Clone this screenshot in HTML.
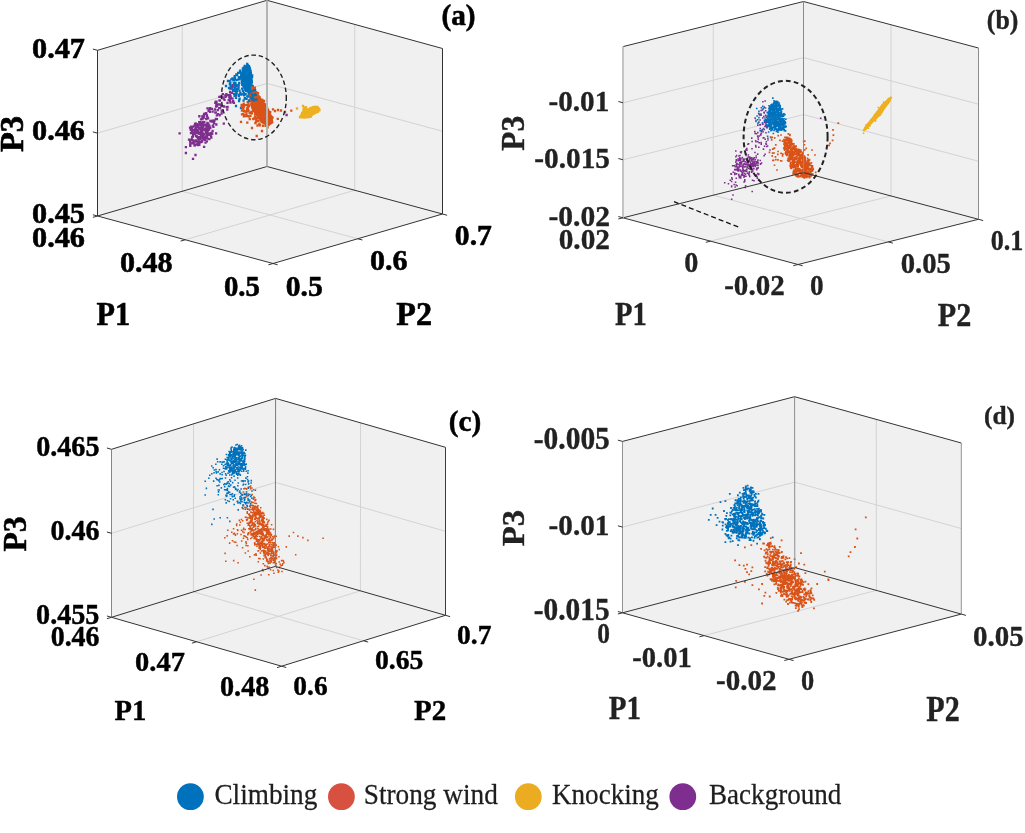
<!DOCTYPE html>
<html><head><meta charset="utf-8"><style>html,body{margin:0;padding:0;background:#fff;overflow:hidden}svg{display:block}</style></head>
<body><svg width="1025" height="833" viewBox="0 0 1025 833" style="will-change:transform">
<rect width="1025" height="833" fill="#fff"/>
<polygon points="97.5,50.3 267,0.3 267,166.5 97.5,216" fill="#f0f0f0"/>
<polygon points="267,0.3 442.5,48.5 442.5,214 267,166.5" fill="#f0f0f0"/>
<polygon points="97.5,216 267,166.5 442.5,214 273,263.5" fill="#f0f0f0"/>
<line x1="97.5" y1="133.15" x2="267" y2="83.4" stroke="#d3d3d3" stroke-width="1"/>
<line x1="267" y1="83.4" x2="442.5" y2="131.25" stroke="#d3d3d3" stroke-width="1"/>
<line x1="185.25" y1="239.75" x2="354.75" y2="190.25" stroke="#d3d3d3" stroke-width="1"/>
<line x1="354.75" y1="190.25" x2="354.75" y2="24.4" stroke="#d3d3d3" stroke-width="1"/>
<line x1="357.75" y1="238.75" x2="182.25" y2="191.25" stroke="#d3d3d3" stroke-width="1"/>
<line x1="182.25" y1="191.25" x2="182.25" y2="25.3" stroke="#d3d3d3" stroke-width="1"/>
<path fill="#7e2f8e" d="M197.67 141.41h2.3v2.3h-2.3zM220.42 112.36h2.3v2.3h-2.3zM215.79 118h2.3v2.3h-2.3zM202.98 113.02h2.3v2.3h-2.3zM195.06 128.18h2.3v2.3h-2.3zM216.97 113.06h2.3v2.3h-2.3zM196.78 130.2h2.3v2.3h-2.3zM214.91 105.45h2.3v2.3h-2.3zM189.06 140.08h2.3v2.3h-2.3zM193.61 125.24h2.3v2.3h-2.3zM201.12 115.17h2.3v2.3h-2.3zM206.19 116.04h2.3v2.3h-2.3zM201.05 132.44h2.3v2.3h-2.3zM191.21 130.78h2.3v2.3h-2.3zM213.68 108.37h2.3v2.3h-2.3zM226.53 93.94h2.3v2.3h-2.3zM218.32 99.29h2.3v2.3h-2.3zM212.92 122.2h2.3v2.3h-2.3zM227.48 94.02h2.3v2.3h-2.3zM196.16 129.93h2.3v2.3h-2.3zM205.78 114.37h2.3v2.3h-2.3zM214.15 101.8h2.3v2.3h-2.3zM198.16 123.99h2.3v2.3h-2.3zM202.68 113.88h2.3v2.3h-2.3zM216.97 103.13h2.3v2.3h-2.3zM211.24 119.61h2.3v2.3h-2.3zM205.74 140.24h2.3v2.3h-2.3zM207.3 134.04h2.3v2.3h-2.3zM206.95 117.25h2.3v2.3h-2.3zM198.42 141.34h2.3v2.3h-2.3zM199.77 140.83h2.3v2.3h-2.3zM199.9 123.59h2.3v2.3h-2.3zM208.77 107.37h2.3v2.3h-2.3zM196.5 129.04h2.3v2.3h-2.3zM208.2 108.61h2.3v2.3h-2.3zM198.06 120.92h2.3v2.3h-2.3zM223.4 98.71h2.3v2.3h-2.3zM194.44 122.22h2.3v2.3h-2.3zM193.38 125.09h2.3v2.3h-2.3zM218.07 106.9h2.3v2.3h-2.3zM196.31 124.9h2.3v2.3h-2.3zM198.15 132.61h2.3v2.3h-2.3zM211.64 124.53h2.3v2.3h-2.3zM215.2 123.36h2.3v2.3h-2.3zM193.05 129.02h2.3v2.3h-2.3zM198.1 140.38h2.3v2.3h-2.3zM213.89 108.3h2.3v2.3h-2.3zM194.83 125.95h2.3v2.3h-2.3zM230.12 97.24h2.3v2.3h-2.3zM205.56 137.32h2.3v2.3h-2.3zM202 137.02h2.3v2.3h-2.3zM228.72 96.45h2.3v2.3h-2.3zM191.58 125.48h2.3v2.3h-2.3zM210.54 120.53h2.3v2.3h-2.3zM207.42 109.81h2.3v2.3h-2.3zM201.01 140.44h2.3v2.3h-2.3zM199.48 131.52h2.3v2.3h-2.3zM206.36 122.71h2.3v2.3h-2.3zM220.14 104.74h2.3v2.3h-2.3zM193.63 124.05h2.3v2.3h-2.3zM199.94 121.5h2.3v2.3h-2.3zM202.94 116.48h2.3v2.3h-2.3zM207.14 122.39h2.3v2.3h-2.3zM224.16 94.14h2.3v2.3h-2.3zM190.62 138.79h2.3v2.3h-2.3zM207.41 124.94h2.3v2.3h-2.3zM206.3 107.15h2.3v2.3h-2.3zM218.18 95.79h2.3v2.3h-2.3zM216.65 109.01h2.3v2.3h-2.3zM200.91 117.64h2.3v2.3h-2.3zM221.21 109.83h2.3v2.3h-2.3zM224.33 95.59h2.3v2.3h-2.3zM199.85 118.28h2.3v2.3h-2.3zM212.28 125.68h2.3v2.3h-2.3zM221.35 105.06h2.3v2.3h-2.3zM204.39 141.56h2.3v2.3h-2.3zM193.93 123.08h2.3v2.3h-2.3zM191.69 142.07h2.3v2.3h-2.3zM194.78 126.02h2.3v2.3h-2.3zM228.57 97.35h2.3v2.3h-2.3zM219.19 103.55h2.3v2.3h-2.3zM208.74 132.33h2.3v2.3h-2.3zM222.52 97.45h2.3v2.3h-2.3zM209.21 133.7h2.3v2.3h-2.3zM188.88 126.54h2.3v2.3h-2.3zM189.23 144.68h2.3v2.3h-2.3zM224.88 94.83h2.3v2.3h-2.3zM193 132.12h2.3v2.3h-2.3zM225.65 105.94h2.3v2.3h-2.3zM207.99 124.28h2.3v2.3h-2.3zM201.33 131.83h2.3v2.3h-2.3zM211.5 110.38h2.3v2.3h-2.3zM201.72 117.13h2.3v2.3h-2.3zM220.93 95.81h2.3v2.3h-2.3zM226.41 105.87h2.3v2.3h-2.3zM205.11 112.05h2.3v2.3h-2.3zM196.89 144.01h2.3v2.3h-2.3zM195.5 134.86h2.3v2.3h-2.3zM195.46 140.14h2.3v2.3h-2.3zM214.87 100.52h2.3v2.3h-2.3zM208.48 125.42h2.3v2.3h-2.3zM196.02 130.93h2.3v2.3h-2.3zM202.44 115.44h2.3v2.3h-2.3zM214.82 117.79h2.3v2.3h-2.3zM205.16 117.98h2.3v2.3h-2.3zM189.34 142.18h2.3v2.3h-2.3zM212.66 120.98h2.3v2.3h-2.3zM211.46 129.83h2.3v2.3h-2.3zM210.1 131.76h2.3v2.3h-2.3zM205.63 124.18h2.3v2.3h-2.3zM209.92 135.32h2.3v2.3h-2.3zM191.62 135.54h2.3v2.3h-2.3zM195.19 143.33h2.3v2.3h-2.3zM199.61 136.99h2.3v2.3h-2.3zM214.6 100.43h2.3v2.3h-2.3zM215.89 104.9h2.3v2.3h-2.3zM222.9 105.35h2.3v2.3h-2.3zM199.94 133.38h2.3v2.3h-2.3zM220.6 109.57h2.3v2.3h-2.3zM210.72 107.64h2.3v2.3h-2.3zM208.79 110.72h2.3v2.3h-2.3zM219.55 95.49h2.3v2.3h-2.3zM226.12 108.41h2.3v2.3h-2.3zM205.68 130.55h2.3v2.3h-2.3zM206.25 121.75h2.3v2.3h-2.3zM188.98 144.21h2.3v2.3h-2.3zM191.01 127.02h2.3v2.3h-2.3zM207.9 125.61h2.3v2.3h-2.3zM189.17 142.79h2.3v2.3h-2.3zM228.76 95.6h2.3v2.3h-2.3zM211.02 132.59h2.3v2.3h-2.3zM226.33 101.79h2.3v2.3h-2.3zM195.71 135.62h2.3v2.3h-2.3zM218.85 99.4h2.3v2.3h-2.3zM214.68 111.49h2.3v2.3h-2.3zM195.6 122.93h2.3v2.3h-2.3zM201.98 120.83h2.3v2.3h-2.3zM203.83 129.31h2.3v2.3h-2.3zM203.86 136.66h2.3v2.3h-2.3zM205.64 133.96h2.3v2.3h-2.3zM215.28 102.04h2.3v2.3h-2.3zM215.21 104.11h2.3v2.3h-2.3zM209.26 119.9h2.3v2.3h-2.3zM201.46 123.17h2.3v2.3h-2.3zM202.46 133.03h2.3v2.3h-2.3zM205.41 129.34h2.3v2.3h-2.3zM203.66 127.43h2.3v2.3h-2.3zM203.5 112.45h2.3v2.3h-2.3zM214.2 111.33h2.3v2.3h-2.3zM221.71 92.97h2.3v2.3h-2.3zM197.69 127.31h2.3v2.3h-2.3zM198.17 115.11h2.3v2.3h-2.3zM199.75 124.14h2.3v2.3h-2.3zM189.97 129.07h2.3v2.3h-2.3zM218.51 114.1h2.3v2.3h-2.3zM206.38 137.37h2.3v2.3h-2.3zM209.23 119.65h2.3v2.3h-2.3zM208.2 138h2.3v2.3h-2.3zM208.96 106.91h2.3v2.3h-2.3zM206.91 132.16h2.3v2.3h-2.3zM213.36 119.37h2.3v2.3h-2.3zM193.73 130.75h2.3v2.3h-2.3zM229.5 95.15h2.3v2.3h-2.3zM195.68 130.84h2.3v2.3h-2.3zM203.16 121.06h2.3v2.3h-2.3zM202.13 135.7h2.3v2.3h-2.3zM219.35 103.45h2.3v2.3h-2.3zM218.55 103.33h2.3v2.3h-2.3zM193.51 144.4h2.3v2.3h-2.3zM221.4 96.14h2.3v2.3h-2.3zM203.71 112.87h2.3v2.3h-2.3zM215.69 114.32h2.3v2.3h-2.3zM214.6 101.22h2.3v2.3h-2.3zM189.35 141.78h2.3v2.3h-2.3zM199.12 120.93h2.3v2.3h-2.3zM215.36 100.56h2.3v2.3h-2.3zM200.29 123.94h2.3v2.3h-2.3zM225.24 92.94h2.3v2.3h-2.3zM218.93 106.89h2.3v2.3h-2.3zM206.51 129.59h2.3v2.3h-2.3zM189.51 128.48h2.3v2.3h-2.3zM200.75 139.43h2.3v2.3h-2.3zM202.45 132.91h2.3v2.3h-2.3zM187.88 138.44h2.3v2.3h-2.3zM205.41 133.05h2.3v2.3h-2.3zM194.3 130.06h2.3v2.3h-2.3zM197.41 138.2h2.3v2.3h-2.3zM202.52 134.13h2.3v2.3h-2.3zM200.51 129.19h2.3v2.3h-2.3zM205.77 136.06h2.3v2.3h-2.3zM190.94 128.18h2.3v2.3h-2.3zM191.97 134.67h2.3v2.3h-2.3zM198.18 143.58h2.3v2.3h-2.3zM207.33 125.13h2.3v2.3h-2.3zM204.53 123.4h2.3v2.3h-2.3zM202.67 132.91h2.3v2.3h-2.3zM206.13 129.34h2.3v2.3h-2.3zM198.45 121.67h2.3v2.3h-2.3zM201.95 128.4h2.3v2.3h-2.3zM193.35 143.43h2.3v2.3h-2.3zM208.01 128.12h2.3v2.3h-2.3zM207.34 128.8h2.3v2.3h-2.3zM200.23 126.7h2.3v2.3h-2.3zM189.84 127.99h2.3v2.3h-2.3zM200.78 133.35h2.3v2.3h-2.3zM195.74 125.58h2.3v2.3h-2.3zM191.06 136.08h2.3v2.3h-2.3zM197.1 142.22h2.3v2.3h-2.3zM199.73 130.05h2.3v2.3h-2.3zM205.42 125.67h2.3v2.3h-2.3zM194.15 128.07h2.3v2.3h-2.3zM195 134.8h2.3v2.3h-2.3zM200.61 140.37h2.3v2.3h-2.3zM193.62 132.96h2.3v2.3h-2.3zM205.53 136.35h2.3v2.3h-2.3zM195.64 129.62h2.3v2.3h-2.3zM200.6 129.91h2.3v2.3h-2.3zM204.82 131.49h2.3v2.3h-2.3zM205.89 131.86h2.3v2.3h-2.3zM196.65 136.02h2.3v2.3h-2.3zM202.82 137.77h2.3v2.3h-2.3zM192.42 141.38h2.3v2.3h-2.3zM201.17 127.31h2.3v2.3h-2.3zM206.3 129.23h2.3v2.3h-2.3zM205.56 130.15h2.3v2.3h-2.3zM196.05 131.97h2.3v2.3h-2.3zM196.65 140.88h2.3v2.3h-2.3zM192.35 139.36h2.3v2.3h-2.3zM200.77 130.89h2.3v2.3h-2.3zM203.79 124.31h2.3v2.3h-2.3zM194.93 139.24h2.3v2.3h-2.3zM191.96 132.59h2.3v2.3h-2.3zM192.29 132.38h2.3v2.3h-2.3zM197.79 124.39h2.3v2.3h-2.3zM206.35 125.54h2.3v2.3h-2.3zM194.44 123.06h2.3v2.3h-2.3zM209.21 126.77h2.3v2.3h-2.3zM199.69 134.32h2.3v2.3h-2.3zM200.91 135.19h2.3v2.3h-2.3zM197.2 131.33h2.3v2.3h-2.3zM194.07 140.37h2.3v2.3h-2.3zM198.72 127.55h2.3v2.3h-2.3zM193.69 124.87h2.3v2.3h-2.3zM206.08 126.78h2.3v2.3h-2.3zM199.17 128.28h2.3v2.3h-2.3zM203.65 127.96h2.3v2.3h-2.3zM203.46 138.65h2.3v2.3h-2.3zM204.96 123.76h2.3v2.3h-2.3zM200.46 131.21h2.3v2.3h-2.3zM203.66 138.79h2.3v2.3h-2.3zM200.69 125.85h2.3v2.3h-2.3zM196.41 124.92h2.3v2.3h-2.3zM205.06 135.13h2.3v2.3h-2.3zM194.64 130.62h2.3v2.3h-2.3zM189.84 131.98h2.3v2.3h-2.3zM201.88 125.5h2.3v2.3h-2.3zM191.81 139.23h2.3v2.3h-2.3zM190.48 126.11h2.3v2.3h-2.3zM205.18 128.16h2.3v2.3h-2.3zM200.99 133.01h2.3v2.3h-2.3zM203.46 129.02h2.3v2.3h-2.3zM207.65 127.05h2.3v2.3h-2.3zM190.12 125.51h2.3v2.3h-2.3zM198.62 127.06h2.3v2.3h-2.3zM191.82 129h2.3v2.3h-2.3zM203.12 124.27h2.3v2.3h-2.3zM202.72 123.45h2.3v2.3h-2.3zM196.02 135.83h2.3v2.3h-2.3zM192.08 142.25h2.3v2.3h-2.3zM206.02 129.85h2.3v2.3h-2.3zM190.76 129.48h2.3v2.3h-2.3zM188.95 139.55h2.3v2.3h-2.3zM199.02 135.92h2.3v2.3h-2.3zM200.45 125.1h2.3v2.3h-2.3zM205.35 124.8h2.3v2.3h-2.3zM191.81 142.18h2.3v2.3h-2.3zM202.8 132.68h2.3v2.3h-2.3zM194.07 128.54h2.3v2.3h-2.3zM195.85 125.36h2.3v2.3h-2.3zM190.02 138.57h2.3v2.3h-2.3zM196.03 123.52h2.3v2.3h-2.3zM191.21 130.78h2.3v2.3h-2.3zM190.93 127.89h2.3v2.3h-2.3zM203.94 136.59h2.3v2.3h-2.3zM197.03 136.98h2.3v2.3h-2.3zM196.66 143.26h2.3v2.3h-2.3zM201.4 121.81h2.3v2.3h-2.3zM199.11 137.7h2.3v2.3h-2.3zM201.39 134.66h2.3v2.3h-2.3zM203.24 129.02h2.3v2.3h-2.3zM232.78 101.76h2.3v2.3h-2.3zM228.94 99.67h2.3v2.3h-2.3zM235.49 84.68h2.3v2.3h-2.3zM230.66 91.77h2.3v2.3h-2.3zM231.8 101.04h2.3v2.3h-2.3zM228.87 93.6h2.3v2.3h-2.3zM231.38 97.49h2.3v2.3h-2.3zM229.18 86.98h2.3v2.3h-2.3zM228.93 90.72h2.3v2.3h-2.3zM229.26 101.52h2.3v2.3h-2.3zM234.88 94.55h2.3v2.3h-2.3zM232.03 100.02h2.3v2.3h-2.3zM229.1 96.75h2.3v2.3h-2.3zM229.35 87.47h2.3v2.3h-2.3zM231.53 86.44h2.3v2.3h-2.3zM228.14 95.86h2.3v2.3h-2.3zM235.7 89.79h2.3v2.3h-2.3zM231.13 84.36h2.3v2.3h-2.3zM231.56 83.96h2.3v2.3h-2.3zM227.58 99.05h2.3v2.3h-2.3zM178.45 132.15h2.3v2.3h-2.3zM184.75 151.85h2.3v2.3h-2.3zM194.35 153.85h2.3v2.3h-2.3zM191.85 157.65h2.3v2.3h-2.3zM202.95 145.65h2.3v2.3h-2.3zM214.95 132.15h2.3v2.3h-2.3zM222.65 122.55h2.3v2.3h-2.3zM210.15 136.45h2.3v2.3h-2.3zM184.75 146.05h2.3v2.3h-2.3zM285.45 113.85h2.3v2.3h-2.3zM255.85 101.85h2.3v2.3h-2.3z"/>
<polygon points="247,64.5 250,65 252,72 252.5,84 254,90 250,93 245,92 241,84 240,75 243,68" fill="#0072bd"/>
<path fill="#0072bd" d="M235.16 73.2h2.3v2.3h-2.3zM236 78.65h2.3v2.3h-2.3zM248.65 67.47h2.3v2.3h-2.3zM243.04 94.22h2.3v2.3h-2.3zM234.15 85.36h2.3v2.3h-2.3zM234.83 96.68h2.3v2.3h-2.3zM235.14 83.82h2.3v2.3h-2.3zM248.05 73.73h2.3v2.3h-2.3zM242.78 68.82h2.3v2.3h-2.3zM239.1 76.3h2.3v2.3h-2.3zM235.41 89.32h2.3v2.3h-2.3zM242.76 92.1h2.3v2.3h-2.3zM229.6 85.36h2.3v2.3h-2.3zM246.2 71.47h2.3v2.3h-2.3zM252.39 89.03h2.3v2.3h-2.3zM229.26 81.57h2.3v2.3h-2.3zM247.91 79.41h2.3v2.3h-2.3zM248.37 76.56h2.3v2.3h-2.3zM233.97 87.05h2.3v2.3h-2.3zM248.37 67.15h2.3v2.3h-2.3zM249.92 82.37h2.3v2.3h-2.3zM242.55 74.59h2.3v2.3h-2.3zM244.47 77.75h2.3v2.3h-2.3zM240.91 83.56h2.3v2.3h-2.3zM239.15 69.48h2.3v2.3h-2.3zM237.05 87.61h2.3v2.3h-2.3zM250.56 79.9h2.3v2.3h-2.3zM250.96 75.8h2.3v2.3h-2.3zM246.83 74.6h2.3v2.3h-2.3zM242.76 66.61h2.3v2.3h-2.3zM250.14 93.5h2.3v2.3h-2.3zM248.6 75.4h2.3v2.3h-2.3zM251.53 92.49h2.3v2.3h-2.3zM247.44 94.49h2.3v2.3h-2.3zM250.08 82.26h2.3v2.3h-2.3zM241.11 82.65h2.3v2.3h-2.3zM230.78 87.17h2.3v2.3h-2.3zM245.2 81.52h2.3v2.3h-2.3zM244.43 72.52h2.3v2.3h-2.3zM250.72 80.64h2.3v2.3h-2.3zM243.83 97.06h2.3v2.3h-2.3zM243.56 64.8h2.3v2.3h-2.3zM249.97 92.1h2.3v2.3h-2.3zM235.38 89.14h2.3v2.3h-2.3zM233.79 76.15h2.3v2.3h-2.3zM248.37 78.07h2.3v2.3h-2.3zM250.35 78.1h2.3v2.3h-2.3zM246.63 64.01h2.3v2.3h-2.3zM232.84 88.95h2.3v2.3h-2.3zM242.99 72.72h2.3v2.3h-2.3zM238.31 89.54h2.3v2.3h-2.3zM251.63 93.73h2.3v2.3h-2.3zM239.38 92.92h2.3v2.3h-2.3zM243.62 65.79h2.3v2.3h-2.3zM238.05 81.8h2.3v2.3h-2.3zM241.41 81.88h2.3v2.3h-2.3zM237.56 83.66h2.3v2.3h-2.3zM237.61 78.25h2.3v2.3h-2.3zM244.49 92.94h2.3v2.3h-2.3zM234.22 84.71h2.3v2.3h-2.3zM245.58 87.07h2.3v2.3h-2.3zM249.14 73.68h2.3v2.3h-2.3zM248.94 68.9h2.3v2.3h-2.3zM249.83 84.8h2.3v2.3h-2.3zM243.74 81.19h2.3v2.3h-2.3zM238.26 98.22h2.3v2.3h-2.3zM234.94 90.25h2.3v2.3h-2.3zM249.7 91.12h2.3v2.3h-2.3zM241.49 76.27h2.3v2.3h-2.3zM244.85 82.84h2.3v2.3h-2.3zM246.68 66.29h2.3v2.3h-2.3zM250.87 93.14h2.3v2.3h-2.3zM240.94 79.15h2.3v2.3h-2.3zM245.41 79.13h2.3v2.3h-2.3zM237.68 76.12h2.3v2.3h-2.3zM249.35 96.69h2.3v2.3h-2.3zM231.31 77.34h2.3v2.3h-2.3zM244.04 93.27h2.3v2.3h-2.3zM245.47 97.66h2.3v2.3h-2.3zM246.17 68.11h2.3v2.3h-2.3zM237.42 86.34h2.3v2.3h-2.3zM238.47 97.57h2.3v2.3h-2.3zM243.72 75.76h2.3v2.3h-2.3zM230.19 78.21h2.3v2.3h-2.3zM241.33 83.6h2.3v2.3h-2.3zM242.42 99.5h2.3v2.3h-2.3zM251.64 86.24h2.3v2.3h-2.3zM242.93 71.54h2.3v2.3h-2.3zM236.98 71.78h2.3v2.3h-2.3zM244.23 72.24h2.3v2.3h-2.3zM235.47 91.36h2.3v2.3h-2.3zM242.39 92.61h2.3v2.3h-2.3zM244.16 86.12h2.3v2.3h-2.3zM236.04 73.95h2.3v2.3h-2.3zM228.69 83.12h2.3v2.3h-2.3zM244.31 84.98h2.3v2.3h-2.3zM241.71 67.37h2.3v2.3h-2.3zM251.57 85.01h2.3v2.3h-2.3zM242.7 77.53h2.3v2.3h-2.3zM239.2 91.77h2.3v2.3h-2.3zM232.94 92.78h2.3v2.3h-2.3zM240.3 73.85h2.3v2.3h-2.3zM247.87 85.24h2.3v2.3h-2.3zM246.05 62.85h2.3v2.3h-2.3zM228.53 79.79h2.3v2.3h-2.3zM233.42 94.77h2.3v2.3h-2.3zM243.49 81.99h2.3v2.3h-2.3zM238.77 70.39h2.3v2.3h-2.3zM233.83 89.69h2.3v2.3h-2.3zM249.75 82.55h2.3v2.3h-2.3zM235.11 88.83h2.3v2.3h-2.3zM232.25 79.12h2.3v2.3h-2.3zM233.84 93.06h2.3v2.3h-2.3zM233.58 84.93h2.3v2.3h-2.3zM233.48 74.97h2.3v2.3h-2.3zM231.95 89.71h2.3v2.3h-2.3zM253.58 86.79h2.3v2.3h-2.3zM237.5 93.48h2.3v2.3h-2.3zM240.93 87.52h2.3v2.3h-2.3zM241.12 93.16h2.3v2.3h-2.3zM243.22 76.8h2.3v2.3h-2.3zM247.55 83.95h2.3v2.3h-2.3zM239.39 71.69h2.3v2.3h-2.3zM249.38 75.49h2.3v2.3h-2.3zM233.67 77.94h2.3v2.3h-2.3zM231.83 89.32h2.3v2.3h-2.3zM246.12 82.37h2.3v2.3h-2.3zM241.86 89.72h2.3v2.3h-2.3zM233.38 78.58h2.3v2.3h-2.3zM232.68 82.04h2.3v2.3h-2.3zM244 65.65h2.3v2.3h-2.3zM228.96 82.39h2.3v2.3h-2.3zM236 87.55h2.3v2.3h-2.3zM251.04 74.2h2.3v2.3h-2.3zM249.46 74.37h2.3v2.3h-2.3zM234.86 92.85h2.3v2.3h-2.3zM235.28 89.89h2.3v2.3h-2.3zM239.24 77.37h2.3v2.3h-2.3zM237.93 99.87h2.3v2.3h-2.3zM234.32 81.46h2.3v2.3h-2.3zM243.54 97.46h2.3v2.3h-2.3zM239.81 93.39h2.3v2.3h-2.3zM237.7 94.7h2.3v2.3h-2.3zM248.94 94.64h2.3v2.3h-2.3zM234.02 82.91h2.3v2.3h-2.3zM230.48 87.44h2.3v2.3h-2.3zM237.41 85.11h2.3v2.3h-2.3zM244.16 75.98h2.3v2.3h-2.3zM253.47 90.97h2.3v2.3h-2.3zM238.63 77.01h2.3v2.3h-2.3zM227.85 86.85h2.3v2.3h-2.3zM234.85 104.85h2.3v2.3h-2.3zM239.85 106.85h2.3v2.3h-2.3zM224.85 84.85h2.3v2.3h-2.3zM226.85 79.85h2.3v2.3h-2.3z"/>
<polygon points="255,89 262,99 268,107 272.5,117 273.5,123 268,126.5 261,123 256,116 251,108 250,100" fill="#d95319"/>
<path fill="#d95319" d="M265.14 115h2.3v2.3h-2.3zM246.7 110.04h2.3v2.3h-2.3zM256.22 100.85h2.3v2.3h-2.3zM263.36 115.95h2.3v2.3h-2.3zM249.29 114.74h2.3v2.3h-2.3zM240.46 104.3h2.3v2.3h-2.3zM240.52 105.44h2.3v2.3h-2.3zM251.32 87.85h2.3v2.3h-2.3zM245.34 112.8h2.3v2.3h-2.3zM243.8 114.2h2.3v2.3h-2.3zM255.21 118.09h2.3v2.3h-2.3zM261.79 115.23h2.3v2.3h-2.3zM255.59 101.05h2.3v2.3h-2.3zM266.88 110.42h2.3v2.3h-2.3zM261.9 124.61h2.3v2.3h-2.3zM242.22 112.84h2.3v2.3h-2.3zM240.6 105.69h2.3v2.3h-2.3zM254.01 107.31h2.3v2.3h-2.3zM248.5 111.86h2.3v2.3h-2.3zM250.15 103.22h2.3v2.3h-2.3zM252.43 93.23h2.3v2.3h-2.3zM245.98 107.36h2.3v2.3h-2.3zM256.37 124.33h2.3v2.3h-2.3zM257.37 112.23h2.3v2.3h-2.3zM262.57 105.3h2.3v2.3h-2.3zM251.83 108.38h2.3v2.3h-2.3zM252.06 117.85h2.3v2.3h-2.3zM252.7 117.5h2.3v2.3h-2.3zM266.16 112.03h2.3v2.3h-2.3zM255.1 111.25h2.3v2.3h-2.3zM255.61 119.97h2.3v2.3h-2.3zM267.41 111.52h2.3v2.3h-2.3zM254.97 118.39h2.3v2.3h-2.3zM260.34 100.88h2.3v2.3h-2.3zM254.22 121.94h2.3v2.3h-2.3zM253.44 93.71h2.3v2.3h-2.3zM256.56 110.2h2.3v2.3h-2.3zM246.61 106.9h2.3v2.3h-2.3zM259.13 99.79h2.3v2.3h-2.3zM244.71 115h2.3v2.3h-2.3zM261.69 118.35h2.3v2.3h-2.3zM267.75 111.86h2.3v2.3h-2.3zM264.4 118.44h2.3v2.3h-2.3zM252.25 89.18h2.3v2.3h-2.3zM271.41 116.4h2.3v2.3h-2.3zM260.05 113.19h2.3v2.3h-2.3zM259.91 113.74h2.3v2.3h-2.3zM262.88 99.73h2.3v2.3h-2.3zM249.97 97.89h2.3v2.3h-2.3zM261.14 116.09h2.3v2.3h-2.3zM248.1 94.32h2.3v2.3h-2.3zM253.2 100.2h2.3v2.3h-2.3zM257.12 119.76h2.3v2.3h-2.3zM262.33 103.59h2.3v2.3h-2.3zM246.79 105.72h2.3v2.3h-2.3zM262.08 102.31h2.3v2.3h-2.3zM259.8 103.94h2.3v2.3h-2.3zM240.86 113.13h2.3v2.3h-2.3zM242 104.07h2.3v2.3h-2.3zM247.43 109.16h2.3v2.3h-2.3zM252.85 89.66h2.3v2.3h-2.3zM261.4 114.81h2.3v2.3h-2.3zM267.66 114.28h2.3v2.3h-2.3zM268.01 116.43h2.3v2.3h-2.3zM246.06 108.48h2.3v2.3h-2.3zM245.51 110.27h2.3v2.3h-2.3zM255.44 119.83h2.3v2.3h-2.3zM263.92 112.94h2.3v2.3h-2.3zM244.31 110.5h2.3v2.3h-2.3zM258.22 102.12h2.3v2.3h-2.3zM257.15 116.18h2.3v2.3h-2.3zM242.75 115.31h2.3v2.3h-2.3zM255.19 91.12h2.3v2.3h-2.3zM249.66 111.4h2.3v2.3h-2.3zM270.42 115.85h2.3v2.3h-2.3zM264.82 120.37h2.3v2.3h-2.3zM243.44 114.2h2.3v2.3h-2.3zM258.24 101.96h2.3v2.3h-2.3zM258.36 97.72h2.3v2.3h-2.3zM261.28 98.81h2.3v2.3h-2.3zM252.09 103.02h2.3v2.3h-2.3zM247.85 115.41h2.3v2.3h-2.3zM258.2 122.59h2.3v2.3h-2.3zM257.01 115.37h2.3v2.3h-2.3zM266.9 109.38h2.3v2.3h-2.3zM267.96 122.32h2.3v2.3h-2.3zM258.85 124.11h2.3v2.3h-2.3zM256.02 110.54h2.3v2.3h-2.3zM253.44 108.28h2.3v2.3h-2.3zM250.91 87.28h2.3v2.3h-2.3zM243.06 109.85h2.3v2.3h-2.3zM244.28 104.04h2.3v2.3h-2.3zM258.8 110.67h2.3v2.3h-2.3zM258.25 95.91h2.3v2.3h-2.3zM256.79 92.01h2.3v2.3h-2.3zM263.69 103.32h2.3v2.3h-2.3zM265.53 114.61h2.3v2.3h-2.3zM246.65 107.33h2.3v2.3h-2.3zM248.6 117.99h2.3v2.3h-2.3zM255.07 111.35h2.3v2.3h-2.3zM262.15 109.02h2.3v2.3h-2.3zM257.43 109.4h2.3v2.3h-2.3zM252.15 95.99h2.3v2.3h-2.3zM251.83 107.59h2.3v2.3h-2.3zM242.6 105.9h2.3v2.3h-2.3zM266.41 126.27h2.3v2.3h-2.3zM245.27 114.53h2.3v2.3h-2.3zM258.23 97.81h2.3v2.3h-2.3zM250.74 91.65h2.3v2.3h-2.3zM255.49 117.31h2.3v2.3h-2.3zM267.76 123.25h2.3v2.3h-2.3zM257.82 104.54h2.3v2.3h-2.3zM250.2 110.71h2.3v2.3h-2.3zM249.46 93.79h2.3v2.3h-2.3zM247.29 102.18h2.3v2.3h-2.3zM249.29 99.18h2.3v2.3h-2.3zM253.36 91.27h2.3v2.3h-2.3zM240.7 105.79h2.3v2.3h-2.3zM250.73 112.21h2.3v2.3h-2.3zM254.63 98.62h2.3v2.3h-2.3zM240.83 109.55h2.3v2.3h-2.3zM261.56 109.51h2.3v2.3h-2.3zM257.29 101.9h2.3v2.3h-2.3zM260.96 113.13h2.3v2.3h-2.3zM242.08 108.01h2.3v2.3h-2.3zM256.67 100.77h2.3v2.3h-2.3zM258.8 109.45h2.3v2.3h-2.3zM240.5 103.63h2.3v2.3h-2.3zM263.62 108.96h2.3v2.3h-2.3zM263.49 107.01h2.3v2.3h-2.3zM257.42 97.33h2.3v2.3h-2.3zM263.72 115.23h2.3v2.3h-2.3zM256.32 116.79h2.3v2.3h-2.3zM242.6 102.39h2.3v2.3h-2.3zM259 104.89h2.3v2.3h-2.3zM269.08 111.03h2.3v2.3h-2.3zM247.73 105.26h2.3v2.3h-2.3zM252.43 110h2.3v2.3h-2.3zM255.87 103.2h2.3v2.3h-2.3zM246.51 100.63h2.3v2.3h-2.3zM247.92 104.47h2.3v2.3h-2.3zM250 94.5h2.3v2.3h-2.3zM257.85 106.93h2.3v2.3h-2.3zM253.13 109.2h2.3v2.3h-2.3zM264.55 124.63h2.3v2.3h-2.3zM241.72 104.82h2.3v2.3h-2.3zM253.5 86.63h2.3v2.3h-2.3zM253.78 108.22h2.3v2.3h-2.3zM255.12 106.65h2.3v2.3h-2.3zM261.36 109.84h2.3v2.3h-2.3zM260.06 110.53h2.3v2.3h-2.3zM253.77 116.04h2.3v2.3h-2.3zM246.69 114.95h2.3v2.3h-2.3zM261.7 120.5h2.3v2.3h-2.3zM253.85 113.36h2.3v2.3h-2.3zM254.84 121.03h2.3v2.3h-2.3zM262.6 115.41h2.3v2.3h-2.3zM253.77 108.4h2.3v2.3h-2.3zM257.3 95.47h2.3v2.3h-2.3zM245.68 103.76h2.3v2.3h-2.3zM252.68 92.98h2.3v2.3h-2.3zM252.95 90.74h2.3v2.3h-2.3zM252.62 91.37h2.3v2.3h-2.3zM251 86.36h2.3v2.3h-2.3zM251.86 88.85h2.3v2.3h-2.3zM252.56 87.54h2.3v2.3h-2.3zM251.2 86.41h2.3v2.3h-2.3zM251.04 90.78h2.3v2.3h-2.3zM252.87 89.54h2.3v2.3h-2.3zM251.09 90.61h2.3v2.3h-2.3zM273.85 109.85h2.3v2.3h-2.3zM276.85 108.85h2.3v2.3h-2.3zM279.85 109.35h2.3v2.3h-2.3zM283.85 110.85h2.3v2.3h-2.3zM290.15 109.55h2.3v2.3h-2.3zM276.65 117.65h2.3v2.3h-2.3zM255.55 134.85h2.3v2.3h-2.3zM239.85 120.75h2.3v2.3h-2.3zM246.15 121.45h2.3v2.3h-2.3zM271.85 108.25h2.3v2.3h-2.3zM260.85 129.85h2.3v2.3h-2.3zM250.85 126.85h2.3v2.3h-2.3z"/>
<path fill="#0072bd" d="M251.32 95.48h2.3v2.3h-2.3zM251.67 97.42h2.3v2.3h-2.3zM252.33 94.08h2.3v2.3h-2.3zM255.27 98.54h2.3v2.3h-2.3zM253.97 93h2.3v2.3h-2.3zM252.3 98.14h2.3v2.3h-2.3zM252.86 99.16h2.3v2.3h-2.3zM253.93 88.98h2.3v2.3h-2.3zM254.55 93.78h2.3v2.3h-2.3zM251.15 97.9h2.3v2.3h-2.3zM247.38 90.97h2.3v2.3h-2.3zM248 99.35h2.3v2.3h-2.3zM251.81 97.21h2.3v2.3h-2.3zM247.84 99.93h2.3v2.3h-2.3zM251.26 98.17h2.3v2.3h-2.3zM253.11 89.31h2.3v2.3h-2.3zM250.17 96.67h2.3v2.3h-2.3zM246.09 95.29h2.3v2.3h-2.3zM251.13 93.47h2.3v2.3h-2.3zM247.67 92.55h2.3v2.3h-2.3zM250.67 90.29h2.3v2.3h-2.3zM247.05 95.56h2.3v2.3h-2.3z"/>
<polygon points="299.3,118.3 299.8,115.5 301.8,111.5 303.2,109 303,107 305,106.3 306,107.8 307.5,108.6 310,107 312.5,106 315.2,105.6 318.8,106.5 320.6,109.1 318.8,112.4 313.3,115.3 311,117.6 305.5,118.7" fill="#edb120"/>
<path fill="#edb120" d="M309.21 109.68h2.3v2.3h-2.3zM303.84 108.66h2.3v2.3h-2.3zM305.39 113.21h2.3v2.3h-2.3zM301.88 116.04h2.3v2.3h-2.3zM314.66 106.73h2.3v2.3h-2.3zM309.6 113.96h2.3v2.3h-2.3zM302.66 115.21h2.3v2.3h-2.3zM311.38 110.46h2.3v2.3h-2.3zM315.57 108.6h2.3v2.3h-2.3zM300.96 111.88h2.3v2.3h-2.3zM316.44 110.78h2.3v2.3h-2.3zM302.16 111.95h2.3v2.3h-2.3zM308.41 108.57h2.3v2.3h-2.3zM301.36 112.75h2.3v2.3h-2.3zM315.89 109.77h2.3v2.3h-2.3zM304.94 107.58h2.3v2.3h-2.3zM308.65 114h2.3v2.3h-2.3zM314.47 109.39h2.3v2.3h-2.3zM302.98 115.28h2.3v2.3h-2.3zM304.87 113.29h2.3v2.3h-2.3zM309.91 112.69h2.3v2.3h-2.3zM301.42 114.99h2.3v2.3h-2.3zM304.98 108.68h2.3v2.3h-2.3zM308.02 115.25h2.3v2.3h-2.3zM304.77 105.97h2.3v2.3h-2.3zM307.66 115.92h2.3v2.3h-2.3zM318.11 109.13h2.3v2.3h-2.3zM305.06 112.38h2.3v2.3h-2.3zM303.26 107.96h2.3v2.3h-2.3zM315.92 105.75h2.3v2.3h-2.3zM302.42 107.79h2.3v2.3h-2.3zM302.02 111.83h2.3v2.3h-2.3zM307.52 108.48h2.3v2.3h-2.3zM312.9 107.49h2.3v2.3h-2.3zM306.84 115.19h2.3v2.3h-2.3zM306.9 111.15h2.3v2.3h-2.3zM313.99 106.95h2.3v2.3h-2.3zM307.77 115.43h2.3v2.3h-2.3zM318.27 109.26h2.3v2.3h-2.3zM309.68 115.39h2.3v2.3h-2.3zM295.85 107.35h2.3v2.3h-2.3zM301.85 104.85h2.3v2.3h-2.3zM298.85 115.85h2.3v2.3h-2.3z"/>
<line x1="97.5" y1="50.3" x2="267" y2="0.3" stroke="#333333" stroke-width="1"/>
<line x1="267" y1="0.3" x2="442.5" y2="48.5" stroke="#333333" stroke-width="1"/>
<line x1="97.5" y1="216" x2="273" y2="263.5" stroke="#333333" stroke-width="1"/>
<line x1="273" y1="263.5" x2="442.5" y2="214" stroke="#333333" stroke-width="1"/>
<line x1="97.5" y1="216" x2="267" y2="166.5" stroke="#333333" stroke-width="1"/>
<line x1="267" y1="166.5" x2="442.5" y2="214" stroke="#333333" stroke-width="1"/>
<line x1="97.5" y1="50.3" x2="97.5" y2="216" stroke="#333333" stroke-width="1"/>
<line x1="267" y1="0.3" x2="267" y2="166.5" stroke="#b4b4b4" stroke-width="2"/>
<line x1="442.5" y1="48.5" x2="442.5" y2="214" stroke="#333333" stroke-width="1"/>
<line x1="97.5" y1="216" x2="92.87" y2="214.75" stroke="#333333" stroke-width="1"/>
<line x1="97.5" y1="133.15" x2="92.87" y2="131.9" stroke="#333333" stroke-width="1"/>
<line x1="97.5" y1="50.3" x2="92.87" y2="49.05" stroke="#333333" stroke-width="1"/>
<line x1="97.5" y1="216" x2="92.89" y2="217.35" stroke="#333333" stroke-width="1"/>
<line x1="185.25" y1="239.75" x2="180.64" y2="241.1" stroke="#333333" stroke-width="1"/>
<line x1="273" y1="263.5" x2="268.39" y2="264.85" stroke="#333333" stroke-width="1"/>
<line x1="273" y1="263.5" x2="277.63" y2="264.75" stroke="#333333" stroke-width="1"/>
<line x1="357.75" y1="238.75" x2="362.38" y2="240" stroke="#333333" stroke-width="1"/>
<line x1="442.5" y1="214" x2="447.13" y2="215.25" stroke="#333333" stroke-width="1"/>
<ellipse cx="253.9" cy="97.4" rx="32.4" ry="42.3" transform="rotate(-1.6 253.9 97.4)" fill="none" stroke="#222" stroke-width="1.4" stroke-dasharray="4.5 2.8"/>
<text transform="translate(32 57.6) scale(1.0095 1.0049)" font-size="30" font-weight="bold" fill="#000" stroke="#000" stroke-width="0.6" stroke-linejoin="round" style="font-family:&quot;Liberation Serif&quot;, serif">0.47</text>
<text transform="translate(32 140.4) scale(1.0095 1.0098)" font-size="30" font-weight="bold" fill="#000" stroke="#000" stroke-width="0.6" stroke-linejoin="round" style="font-family:&quot;Liberation Serif&quot;, serif">0.46</text>
<text transform="translate(32 223.01) scale(1.0095 0.9755)" font-size="30" font-weight="bold" fill="#000" stroke="#000" stroke-width="0.6" stroke-linejoin="round" style="font-family:&quot;Liberation Serif&quot;, serif">0.45</text>
<text transform="translate(32 247.31) scale(1.0095 0.9755)" font-size="30" font-weight="bold" fill="#000" stroke="#000" stroke-width="0.6" stroke-linejoin="round" style="font-family:&quot;Liberation Serif&quot;, serif">0.46</text>
<text transform="translate(120 271.61) scale(1.0038 0.9804)" font-size="30" font-weight="bold" fill="#000" stroke="#000" stroke-width="0.6" stroke-linejoin="round" style="font-family:&quot;Liberation Serif&quot;, serif">0.48</text>
<text transform="translate(223.9 295.61) scale(0.9600 0.9804)" font-size="30" font-weight="bold" fill="#000" stroke="#000" stroke-width="0.6" stroke-linejoin="round" style="font-family:&quot;Liberation Serif&quot;, serif">0.5</text>
<text transform="translate(285.8 295.6) scale(0.9867 1.0098)" font-size="30" font-weight="bold" fill="#000" stroke="#000" stroke-width="0.6" stroke-linejoin="round" style="font-family:&quot;Liberation Serif&quot;, serif">0.5</text>
<text transform="translate(370 270.3) scale(1.0000 0.9951)" font-size="30" font-weight="bold" fill="#000" stroke="#000" stroke-width="0.6" stroke-linejoin="round" style="font-family:&quot;Liberation Serif&quot;, serif">0.6</text>
<text transform="translate(454.8 245.3) scale(0.9893 1.0000)" font-size="30" font-weight="bold" fill="#000" stroke="#000" stroke-width="0.6" stroke-linejoin="round" style="font-family:&quot;Liberation Serif&quot;, serif">0.7</text>
<text transform="translate(96.6 325) scale(0.9173 1.0101)" font-size="33" font-weight="bold" fill="#000" stroke="#000" stroke-width="0.6" stroke-linejoin="round" style="font-family:&quot;Liberation Serif&quot;, serif">P1</text>
<text transform="translate(396.3 325.3) scale(0.9746 1.0370)" font-size="33" font-weight="bold" fill="#000" stroke="#000" stroke-width="0.6" stroke-linejoin="round" style="font-family:&quot;Liberation Serif&quot;, serif">P2</text>
<text transform="translate(22.86 152) rotate(-90) scale(0.9828 1.0441)" font-size="33" font-weight="bold" fill="#000" stroke="#000" stroke-width="0.6" stroke-linejoin="round" style="font-family:&quot;Liberation Serif&quot;, serif">P3</text>
<text transform="translate(441.5 24.96) scale(1.0079 1.0079)" font-size="29" font-weight="bold" fill="#000" stroke="#000" stroke-width="0.6" stroke-linejoin="round" style="font-family:&quot;Liberation Serif&quot;, serif">(a)</text>
<polygon points="623,46.6 803.5,1.5 803.5,172.6 623,217.8" fill="#f0f0f0"/>
<polygon points="803.5,1.5 978.5,48 978.5,219.3 803.5,172.6" fill="#f0f0f0"/>
<polygon points="623,217.8 803.5,172.6 978.5,219.3 798,264.5" fill="#f0f0f0"/>
<line x1="623" y1="159.76" x2="803.5" y2="114.6" stroke="#d3d3d3" stroke-width="1"/>
<line x1="803.5" y1="114.6" x2="978.5" y2="161.23" stroke="#d3d3d3" stroke-width="1"/>
<line x1="623" y1="102.75" x2="803.5" y2="57.62" stroke="#d3d3d3" stroke-width="1"/>
<line x1="803.5" y1="57.62" x2="978.5" y2="104.19" stroke="#d3d3d3" stroke-width="1"/>
<line x1="710.5" y1="241.15" x2="891" y2="195.95" stroke="#d3d3d3" stroke-width="1"/>
<line x1="891" y1="195.95" x2="891" y2="24.75" stroke="#d3d3d3" stroke-width="1"/>
<line x1="888.25" y1="241.9" x2="713.25" y2="195.2" stroke="#d3d3d3" stroke-width="1"/>
<line x1="713.25" y1="195.2" x2="713.25" y2="24.05" stroke="#d3d3d3" stroke-width="1"/>
<path fill="#7e2f8e" d="M756.66 161.55h1.55v1.55h-1.55zM746.62 172.35h1.55v1.55h-1.55zM735.72 164.2h1.55v1.55h-1.55zM750.63 164.34h1.55v1.55h-1.55zM750.6 168.54h1.55v1.55h-1.55zM740.79 173.9h1.55v1.55h-1.55zM756.4 167.91h1.55v1.55h-1.55zM750.23 162.94h1.55v1.55h-1.55zM734.58 165.83h1.55v1.55h-1.55zM757.4 167.09h1.55v1.55h-1.55zM738.09 174.7h1.55v1.55h-1.55zM744.78 170.38h1.55v1.55h-1.55zM737.03 166.45h1.55v1.55h-1.55zM750.01 157.29h1.55v1.55h-1.55zM752.71 165.16h1.55v1.55h-1.55zM741.69 172.12h1.55v1.55h-1.55zM740.59 161.64h1.55v1.55h-1.55zM746.23 162.06h1.55v1.55h-1.55zM752.98 164.73h1.55v1.55h-1.55zM748.99 156.26h1.55v1.55h-1.55zM744.66 173.45h1.55v1.55h-1.55zM741.8 166.91h1.55v1.55h-1.55zM742.27 165.89h1.55v1.55h-1.55zM746.23 159.68h1.55v1.55h-1.55zM738.04 168.27h1.55v1.55h-1.55zM746.59 157.58h1.55v1.55h-1.55zM751.09 170.96h1.55v1.55h-1.55zM746.64 160.36h1.55v1.55h-1.55zM743.41 159.31h1.55v1.55h-1.55zM738.87 157.09h1.55v1.55h-1.55zM754.17 163.37h1.55v1.55h-1.55zM755.45 162.16h1.55v1.55h-1.55zM742.15 174.55h1.55v1.55h-1.55zM735.53 173.13h1.55v1.55h-1.55zM737.28 160.02h1.55v1.55h-1.55zM748.13 164.49h1.55v1.55h-1.55zM735.45 163.99h1.55v1.55h-1.55zM747.49 156.32h1.55v1.55h-1.55zM757.13 159.37h1.55v1.55h-1.55zM739.58 176.25h1.55v1.55h-1.55zM749.79 161.36h1.55v1.55h-1.55zM755.32 157.06h1.55v1.55h-1.55zM739 164.45h1.55v1.55h-1.55zM736.28 166.27h1.55v1.55h-1.55zM738.34 159.61h1.55v1.55h-1.55zM735.41 165.72h1.55v1.55h-1.55zM753.11 167.83h1.55v1.55h-1.55zM735.26 169.3h1.55v1.55h-1.55zM735.91 172.99h1.55v1.55h-1.55zM750.63 158.82h1.55v1.55h-1.55zM738.81 157.94h1.55v1.55h-1.55zM751.68 162.8h1.55v1.55h-1.55zM754.55 159.06h1.55v1.55h-1.55zM752.64 159.3h1.55v1.55h-1.55zM750.77 165.69h1.55v1.55h-1.55zM749.02 165.63h1.55v1.55h-1.55zM744 162.84h1.55v1.55h-1.55zM751.36 164.05h1.55v1.55h-1.55zM740.7 170.74h1.55v1.55h-1.55zM751.58 168.42h1.55v1.55h-1.55zM752.22 165.31h1.55v1.55h-1.55zM742.42 158.35h1.55v1.55h-1.55zM751.81 158.5h1.55v1.55h-1.55zM744.55 160.94h1.55v1.55h-1.55zM736.88 167.25h1.55v1.55h-1.55zM737.18 158.31h1.55v1.55h-1.55zM742.13 167.21h1.55v1.55h-1.55zM759.51 159.75h1.55v1.55h-1.55zM758.07 173.14h1.55v1.55h-1.55zM753.93 160.82h1.55v1.55h-1.55zM746.03 168.38h1.55v1.55h-1.55zM754.64 164.92h1.55v1.55h-1.55zM738.45 166.17h1.55v1.55h-1.55zM751.12 157.05h1.55v1.55h-1.55zM744.38 165.58h1.55v1.55h-1.55zM751.1 169.18h1.55v1.55h-1.55zM743.61 169.88h1.55v1.55h-1.55zM748.67 156.87h1.55v1.55h-1.55zM735.03 161.32h1.55v1.55h-1.55zM746.66 157.57h1.55v1.55h-1.55zM741.97 169.77h1.55v1.55h-1.55zM740.83 161.22h1.55v1.55h-1.55zM754.5 163.31h1.55v1.55h-1.55zM748.59 163.81h1.55v1.55h-1.55zM737.76 170.22h1.55v1.55h-1.55zM753.44 162.21h1.55v1.55h-1.55zM753.41 157.06h1.55v1.55h-1.55zM739.22 154.73h1.55v1.55h-1.55zM750.98 156.96h1.55v1.55h-1.55zM747.71 161.39h1.55v1.55h-1.55zM748.25 172.57h1.55v1.55h-1.55zM747.51 154.18h1.55v1.55h-1.55zM740.48 163.1h1.55v1.55h-1.55zM747.38 163.71h1.55v1.55h-1.55zM750.87 171.51h1.55v1.55h-1.55zM743.9 166.14h1.55v1.55h-1.55zM739.85 158.34h1.55v1.55h-1.55zM747.34 164.91h1.55v1.55h-1.55zM733.45 165.02h1.55v1.55h-1.55zM749.25 164.97h1.55v1.55h-1.55zM755.95 164.16h1.55v1.55h-1.55zM740.24 162.51h1.55v1.55h-1.55zM755.67 161.12h1.55v1.55h-1.55zM756.02 167.53h1.55v1.55h-1.55zM741.82 160.63h1.55v1.55h-1.55zM737.16 166.61h1.55v1.55h-1.55zM735.98 168.84h1.55v1.55h-1.55zM757.52 162.13h1.55v1.55h-1.55zM742.4 163.61h1.55v1.55h-1.55zM747.48 161.84h1.55v1.55h-1.55zM743.22 175.93h1.55v1.55h-1.55zM743.89 175.51h1.55v1.55h-1.55zM747.43 165.14h1.55v1.55h-1.55zM744.82 165.68h1.55v1.55h-1.55zM741.45 172.78h1.55v1.55h-1.55zM753.55 163.26h1.55v1.55h-1.55zM750.36 162.99h1.55v1.55h-1.55zM746.41 166.76h1.55v1.55h-1.55zM742.79 170.84h1.55v1.55h-1.55zM753.55 162.56h1.55v1.55h-1.55zM753.18 163.31h1.55v1.55h-1.55zM748.6 171.08h1.55v1.55h-1.55zM743.88 172.75h1.55v1.55h-1.55zM736.74 168.61h1.55v1.55h-1.55zM739.79 159.89h1.55v1.55h-1.55zM746.86 161.05h1.55v1.55h-1.55zM748.94 158.17h1.55v1.55h-1.55zM737.05 169.01h1.55v1.55h-1.55zM755.79 168.84h1.55v1.55h-1.55zM742.05 173.24h1.55v1.55h-1.55zM741.18 165.3h1.55v1.55h-1.55zM747.87 173.98h1.55v1.55h-1.55zM738.78 165.81h1.55v1.55h-1.55zM739.66 169.35h1.55v1.55h-1.55zM739.88 165.51h1.55v1.55h-1.55zM742.65 159.52h1.55v1.55h-1.55zM746.01 170.37h1.55v1.55h-1.55zM738 173.83h1.55v1.55h-1.55zM753.48 164.34h1.55v1.55h-1.55zM748.73 159.68h1.55v1.55h-1.55zM737.04 170.02h1.55v1.55h-1.55zM750.61 159.38h1.55v1.55h-1.55zM742.39 164.01h1.55v1.55h-1.55zM735.54 159.74h1.55v1.55h-1.55zM748.39 160.37h1.55v1.55h-1.55zM739.94 170.08h1.55v1.55h-1.55zM753.51 161.16h1.55v1.55h-1.55zM752.55 163.65h1.55v1.55h-1.55zM754.62 165.69h1.55v1.55h-1.55zM745.21 175.39h1.55v1.55h-1.55zM740.35 151.83h1.55v1.55h-1.55zM736.35 185h1.55v1.55h-1.55zM739.38 162.91h1.55v1.55h-1.55zM764.43 138.39h1.55v1.55h-1.55zM754.37 132.59h1.55v1.55h-1.55zM760.1 134.11h1.55v1.55h-1.55zM735.27 184.16h1.55v1.55h-1.55zM762.3 130.96h1.55v1.55h-1.55zM739.78 151.34h1.55v1.55h-1.55zM750.58 166.65h1.55v1.55h-1.55zM730.62 173.43h1.55v1.55h-1.55zM764.13 125.81h1.55v1.55h-1.55zM761.8 123.41h1.55v1.55h-1.55zM753.23 180.06h1.55v1.55h-1.55zM765.23 131.99h1.55v1.55h-1.55zM727.7 182.89h1.55v1.55h-1.55zM738.92 161.88h1.55v1.55h-1.55zM731.04 176.92h1.55v1.55h-1.55zM747.84 142.9h1.55v1.55h-1.55zM744.64 169.5h1.55v1.55h-1.55zM763.6 128.7h1.55v1.55h-1.55zM756.9 160.84h1.55v1.55h-1.55zM734.75 181.57h1.55v1.55h-1.55zM748.97 175.61h1.55v1.55h-1.55zM764.09 121.01h1.55v1.55h-1.55zM755.41 155.21h1.55v1.55h-1.55zM740.12 157.83h1.55v1.55h-1.55zM755.77 175.52h1.55v1.55h-1.55zM760.37 109.73h1.55v1.55h-1.55zM741.57 156.66h1.55v1.55h-1.55zM755.17 146.15h1.55v1.55h-1.55zM742.99 163.14h1.55v1.55h-1.55zM757.3 164.6h1.55v1.55h-1.55zM761.95 117.26h1.55v1.55h-1.55zM764.08 120.91h1.55v1.55h-1.55zM735.46 177.51h1.55v1.55h-1.55zM759.83 129.94h1.55v1.55h-1.55zM752.5 165.69h1.55v1.55h-1.55zM758.03 146.49h1.55v1.55h-1.55zM743.24 181.14h1.55v1.55h-1.55zM742.16 168.41h1.55v1.55h-1.55zM766.34 126.89h1.55v1.55h-1.55zM754.36 117.37h1.55v1.55h-1.55zM749.19 164.8h1.55v1.55h-1.55zM759.48 127.69h1.55v1.55h-1.55zM766.83 145.21h1.55v1.55h-1.55zM749.68 163.61h1.55v1.55h-1.55zM738.54 175.73h1.55v1.55h-1.55zM765.93 145.77h1.55v1.55h-1.55zM759.74 163.1h1.55v1.55h-1.55zM751.57 168.39h1.55v1.55h-1.55zM755.68 174.25h1.55v1.55h-1.55zM731.86 165.02h1.55v1.55h-1.55zM733.38 183.8h1.55v1.55h-1.55zM742.58 169.27h1.55v1.55h-1.55zM739.73 161.64h1.55v1.55h-1.55zM760.8 162.28h1.55v1.55h-1.55zM737.01 169.3h1.55v1.55h-1.55zM740.74 150.93h1.55v1.55h-1.55zM750.98 137.34h1.55v1.55h-1.55zM741.39 171.75h1.55v1.55h-1.55zM756.56 177.52h1.55v1.55h-1.55zM744.87 184.95h1.55v1.55h-1.55zM761.7 129.14h1.55v1.55h-1.55zM759.78 163.43h1.55v1.55h-1.55zM735.51 158.96h1.55v1.55h-1.55zM756.88 153.36h1.55v1.55h-1.55zM745.97 147.86h1.55v1.55h-1.55zM740.03 177.24h1.55v1.55h-1.55zM746.18 149.53h1.55v1.55h-1.55zM757.05 131.85h1.55v1.55h-1.55zM767.12 137.45h1.55v1.55h-1.55zM745.05 153.17h1.55v1.55h-1.55zM729.52 179.46h1.55v1.55h-1.55zM765.07 143.03h1.55v1.55h-1.55zM732.47 171.55h1.55v1.55h-1.55zM751.17 160.24h1.55v1.55h-1.55zM733.9 168.84h1.55v1.55h-1.55zM744.33 163.53h1.55v1.55h-1.55zM753.99 130.72h1.55v1.55h-1.55zM736.29 162.63h1.55v1.55h-1.55zM745.28 148.64h1.55v1.55h-1.55zM757 124.48h1.55v1.55h-1.55zM760.57 132.47h1.55v1.55h-1.55zM767.38 111.54h1.55v1.55h-1.55zM747.11 143.52h1.55v1.55h-1.55zM764.07 121.67h1.55v1.55h-1.55zM764.66 118.88h1.55v1.55h-1.55zM757.05 140.95h1.55v1.55h-1.55zM735.01 150.3h1.55v1.55h-1.55zM735.83 165.7h1.55v1.55h-1.55zM763.49 106.34h1.55v1.55h-1.55zM738.6 177.01h1.55v1.55h-1.55zM759.3 119.19h1.55v1.55h-1.55zM748.81 168.29h1.55v1.55h-1.55zM743.2 176.37h1.55v1.55h-1.55zM754.96 139.99h1.55v1.55h-1.55zM737.92 169.64h1.55v1.55h-1.55zM730.88 185.36h1.55v1.55h-1.55zM747.43 161.71h1.55v1.55h-1.55zM765.63 143.46h1.55v1.55h-1.55zM734.37 186.13h1.55v1.55h-1.55zM747.8 167.48h1.55v1.55h-1.55zM758.48 142.07h1.55v1.55h-1.55zM757.74 173.58h1.55v1.55h-1.55zM735.5 168.51h1.55v1.55h-1.55zM760.34 141.8h1.55v1.55h-1.55zM763.05 115.77h1.55v1.55h-1.55zM740.29 175.2h1.55v1.55h-1.55zM730.81 180.77h1.55v1.55h-1.55zM757.55 138.62h1.55v1.55h-1.55zM744.02 179.03h1.55v1.55h-1.55zM743.58 175.07h1.55v1.55h-1.55zM744.2 158.19h1.55v1.55h-1.55zM756.9 172.67h1.55v1.55h-1.55zM745.3 154.8h1.55v1.55h-1.55zM751.33 140.76h1.55v1.55h-1.55zM763.77 145.48h1.55v1.55h-1.55zM733.92 173.69h1.55v1.55h-1.55zM756.24 176.04h1.55v1.55h-1.55zM735.09 155.92h1.55v1.55h-1.55zM733.93 172.26h1.55v1.55h-1.55zM751.99 161.22h1.55v1.55h-1.55zM751.22 148.07h1.55v1.55h-1.55zM739.59 165.64h1.55v1.55h-1.55zM738.61 165.74h1.55v1.55h-1.55zM742.24 164.98h1.55v1.55h-1.55zM747.25 159.93h1.55v1.55h-1.55zM753.14 157.75h1.55v1.55h-1.55zM742.87 160.42h1.55v1.55h-1.55zM735.85 154.79h1.55v1.55h-1.55zM764.31 153.38h1.55v1.55h-1.55zM748.63 159.45h1.55v1.55h-1.55zM735.82 162.72h1.55v1.55h-1.55zM760.48 143.36h1.55v1.55h-1.55zM758.68 113.43h1.55v1.55h-1.55zM765.57 141.02h1.55v1.55h-1.55zM762.7 148.33h1.55v1.55h-1.55zM737.57 163.75h1.55v1.55h-1.55zM730.22 172.9h1.55v1.55h-1.55zM754.2 151.74h1.55v1.55h-1.55zM738.14 155.2h1.55v1.55h-1.55zM763.35 155.03h1.55v1.55h-1.55zM755.25 141.06h1.55v1.55h-1.55zM756.03 162.44h1.55v1.55h-1.55zM757.17 122.61h1.55v1.55h-1.55zM731.43 178.47h1.55v1.55h-1.55zM746.01 163.87h1.55v1.55h-1.55zM759.3 114.34h1.55v1.55h-1.55zM743.94 180.62h1.55v1.55h-1.55zM754.92 144.79h1.55v1.55h-1.55zM745.13 163.51h1.55v1.55h-1.55zM735.93 163.26h1.55v1.55h-1.55zM748.32 174.02h1.55v1.55h-1.55zM746.52 166.18h1.55v1.55h-1.55zM751.72 179.53h1.55v1.55h-1.55zM730.87 185.92h1.55v1.55h-1.55zM732.83 164.93h1.55v1.55h-1.55zM759.78 133.86h1.55v1.55h-1.55zM752.07 170.3h1.55v1.55h-1.55zM730.93 198.42h1.55v1.55h-1.55zM723.93 182.03h1.55v1.55h-1.55zM751.43 190.82h1.55v1.55h-1.55zM744.43 186.72h1.55v1.55h-1.55zM732.23 194.22h1.55v1.55h-1.55zM769.23 149.22h1.55v1.55h-1.55zM767.23 139.22h1.55v1.55h-1.55z"/>
<path fill="#0072bd" d="M781.58 122.54h1.6v1.6h-1.6zM780.93 114.22h1.6v1.6h-1.6zM766 116.38h1.6v1.6h-1.6zM780.65 125.09h1.6v1.6h-1.6zM778.48 124.98h1.6v1.6h-1.6zM773.19 122.51h1.6v1.6h-1.6zM780.68 112.03h1.6v1.6h-1.6zM767.31 114.79h1.6v1.6h-1.6zM769.49 105.74h1.6v1.6h-1.6zM775.82 123.92h1.6v1.6h-1.6zM777.09 108.3h1.6v1.6h-1.6zM778.51 114.33h1.6v1.6h-1.6zM768.52 112.66h1.6v1.6h-1.6zM769.79 125.57h1.6v1.6h-1.6zM772.66 115.13h1.6v1.6h-1.6zM779.39 115.76h1.6v1.6h-1.6zM776.36 116.44h1.6v1.6h-1.6zM776.18 110.7h1.6v1.6h-1.6zM770.88 124.21h1.6v1.6h-1.6zM767.88 120.5h1.6v1.6h-1.6zM772.75 113.16h1.6v1.6h-1.6zM775.37 100.58h1.6v1.6h-1.6zM770.92 103.81h1.6v1.6h-1.6zM780.95 124.91h1.6v1.6h-1.6zM778.59 112.36h1.6v1.6h-1.6zM769.18 107.44h1.6v1.6h-1.6zM769.65 111.63h1.6v1.6h-1.6zM777.79 125.83h1.6v1.6h-1.6zM778.43 108.49h1.6v1.6h-1.6zM776.07 110.37h1.6v1.6h-1.6zM772.31 106.62h1.6v1.6h-1.6zM773.83 110.14h1.6v1.6h-1.6zM771.82 122.37h1.6v1.6h-1.6zM768.74 113.39h1.6v1.6h-1.6zM770.96 105.13h1.6v1.6h-1.6zM769.79 108.63h1.6v1.6h-1.6zM768.38 109.32h1.6v1.6h-1.6zM774.99 108.96h1.6v1.6h-1.6zM780.77 115.36h1.6v1.6h-1.6zM774.06 128.17h1.6v1.6h-1.6zM778.02 118.21h1.6v1.6h-1.6zM776.37 128.54h1.6v1.6h-1.6zM777.12 114.85h1.6v1.6h-1.6zM781.03 129.01h1.6v1.6h-1.6zM773.83 127.66h1.6v1.6h-1.6zM776.64 112.71h1.6v1.6h-1.6zM772.94 112.76h1.6v1.6h-1.6zM778.25 102.26h1.6v1.6h-1.6zM775.6 106.65h1.6v1.6h-1.6zM779.31 125.6h1.6v1.6h-1.6zM776.11 123.65h1.6v1.6h-1.6zM768.83 128.3h1.6v1.6h-1.6zM776.14 123.57h1.6v1.6h-1.6zM768.83 111.51h1.6v1.6h-1.6zM769.49 107.54h1.6v1.6h-1.6zM777.18 124.15h1.6v1.6h-1.6zM779.75 118.76h1.6v1.6h-1.6zM767.7 121.3h1.6v1.6h-1.6zM780.9 121.03h1.6v1.6h-1.6zM781.65 118.07h1.6v1.6h-1.6zM780.22 127.95h1.6v1.6h-1.6zM770.6 104.15h1.6v1.6h-1.6zM780.12 124.22h1.6v1.6h-1.6zM775.66 128.17h1.6v1.6h-1.6zM770.4 113.9h1.6v1.6h-1.6zM770.87 105.27h1.6v1.6h-1.6zM768.81 122.19h1.6v1.6h-1.6zM780.63 113.87h1.6v1.6h-1.6zM769.25 126.65h1.6v1.6h-1.6zM773.69 103.23h1.6v1.6h-1.6zM769.61 112.47h1.6v1.6h-1.6zM770.36 108.21h1.6v1.6h-1.6zM769.1 109.96h1.6v1.6h-1.6zM776.27 102.78h1.6v1.6h-1.6zM769.87 113.38h1.6v1.6h-1.6zM768.99 118.18h1.6v1.6h-1.6zM781.31 114.86h1.6v1.6h-1.6zM773.71 124.35h1.6v1.6h-1.6zM775.54 104.63h1.6v1.6h-1.6zM770.15 104.37h1.6v1.6h-1.6zM770.12 112.3h1.6v1.6h-1.6zM773.19 107.68h1.6v1.6h-1.6zM770.19 127.66h1.6v1.6h-1.6zM779.01 106.14h1.6v1.6h-1.6zM777.84 114.33h1.6v1.6h-1.6zM765.86 125.29h1.6v1.6h-1.6zM770.12 125.03h1.6v1.6h-1.6zM779.72 126.99h1.6v1.6h-1.6zM776.12 120.52h1.6v1.6h-1.6zM778.4 129.08h1.6v1.6h-1.6zM775.84 119.36h1.6v1.6h-1.6zM777.82 123.69h1.6v1.6h-1.6zM779.63 120h1.6v1.6h-1.6zM773.53 108.79h1.6v1.6h-1.6zM776.4 128.81h1.6v1.6h-1.6zM780.28 123.55h1.6v1.6h-1.6zM766.91 117.65h1.6v1.6h-1.6zM769.64 124.53h1.6v1.6h-1.6zM771.28 113.62h1.6v1.6h-1.6zM768.2 119.66h1.6v1.6h-1.6zM773.77 108.53h1.6v1.6h-1.6zM767.59 113.2h1.6v1.6h-1.6zM772.58 104.54h1.6v1.6h-1.6zM773.79 119.65h1.6v1.6h-1.6zM768.31 119.35h1.6v1.6h-1.6zM773.5 119.51h1.6v1.6h-1.6zM773.19 107.17h1.6v1.6h-1.6zM769.3 119.55h1.6v1.6h-1.6zM770.09 107.85h1.6v1.6h-1.6zM775.88 106.13h1.6v1.6h-1.6zM781.86 127.79h1.6v1.6h-1.6zM779.25 126.17h1.6v1.6h-1.6zM784.21 120.83h1.6v1.6h-1.6zM771.63 114.46h1.6v1.6h-1.6zM778.98 120.04h1.6v1.6h-1.6zM779.52 125.45h1.6v1.6h-1.6zM770.89 111.61h1.6v1.6h-1.6zM775.12 104.8h1.6v1.6h-1.6zM771.42 128.72h1.6v1.6h-1.6zM769.06 121.99h1.6v1.6h-1.6zM778.29 103.84h1.6v1.6h-1.6zM771.76 113.26h1.6v1.6h-1.6zM771.55 122.45h1.6v1.6h-1.6zM771.47 122.7h1.6v1.6h-1.6zM772.64 103.34h1.6v1.6h-1.6zM777.99 122.91h1.6v1.6h-1.6zM778.06 107.78h1.6v1.6h-1.6zM772.31 112.26h1.6v1.6h-1.6zM773.01 111.78h1.6v1.6h-1.6zM775.6 124.66h1.6v1.6h-1.6zM773.59 109.35h1.6v1.6h-1.6zM773.8 114.65h1.6v1.6h-1.6zM776.38 113.51h1.6v1.6h-1.6zM768.42 114.71h1.6v1.6h-1.6zM774.26 120.18h1.6v1.6h-1.6zM770.63 112.61h1.6v1.6h-1.6zM780.35 127.97h1.6v1.6h-1.6zM770.72 113.53h1.6v1.6h-1.6zM777.75 121.2h1.6v1.6h-1.6zM779.42 109.5h1.6v1.6h-1.6zM770.64 105.12h1.6v1.6h-1.6zM768.19 114.12h1.6v1.6h-1.6zM768.7 118.64h1.6v1.6h-1.6zM783.35 118.01h1.6v1.6h-1.6zM783.27 126.23h1.6v1.6h-1.6zM774.98 124.48h1.6v1.6h-1.6zM779.14 126.77h1.6v1.6h-1.6zM782.72 115.48h1.6v1.6h-1.6zM781.31 120.67h1.6v1.6h-1.6zM769.65 119.31h1.6v1.6h-1.6zM775.46 105.36h1.6v1.6h-1.6zM775.85 125.1h1.6v1.6h-1.6zM765.07 125.25h1.6v1.6h-1.6zM780.73 117.53h1.6v1.6h-1.6zM783.1 127.56h1.6v1.6h-1.6zM771.21 112.22h1.6v1.6h-1.6zM768.19 104.91h1.6v1.6h-1.6zM769.59 111.96h1.6v1.6h-1.6zM772.68 113.65h1.6v1.6h-1.6zM774.5 102.97h1.6v1.6h-1.6zM772.87 106.46h1.6v1.6h-1.6zM770.63 125.19h1.6v1.6h-1.6zM772.26 113.57h1.6v1.6h-1.6zM778.91 128.57h1.6v1.6h-1.6zM776.33 104.96h1.6v1.6h-1.6zM771.83 119.5h1.6v1.6h-1.6zM767.69 119.97h1.6v1.6h-1.6zM777.83 129.57h1.6v1.6h-1.6zM775.51 110.8h1.6v1.6h-1.6zM774.83 104.48h1.6v1.6h-1.6zM773.11 101.77h1.6v1.6h-1.6zM781.46 119.65h1.6v1.6h-1.6zM772.03 126.42h1.6v1.6h-1.6zM780.9 127.33h1.6v1.6h-1.6zM783.02 126.46h1.6v1.6h-1.6zM779.07 117.71h1.6v1.6h-1.6zM784.71 122.22h1.6v1.6h-1.6zM782.23 115.34h1.6v1.6h-1.6zM784.15 125.43h1.6v1.6h-1.6zM777.37 107.88h1.6v1.6h-1.6zM779.68 121.59h1.6v1.6h-1.6zM771.44 129.25h1.6v1.6h-1.6zM775.42 106.12h1.6v1.6h-1.6zM772.31 113.42h1.6v1.6h-1.6zM768 123.18h1.6v1.6h-1.6zM777.39 109.7h1.6v1.6h-1.6zM767.48 124.51h1.6v1.6h-1.6zM774.82 117.85h1.6v1.6h-1.6zM778.71 127.01h1.6v1.6h-1.6zM770.07 123.42h1.6v1.6h-1.6zM777.22 105.57h1.6v1.6h-1.6zM780.19 118.24h1.6v1.6h-1.6zM775.69 121.99h1.6v1.6h-1.6zM776.81 118.66h1.6v1.6h-1.6zM781.24 114.9h1.6v1.6h-1.6zM779.63 128.68h1.6v1.6h-1.6zM769.45 123.26h1.6v1.6h-1.6zM780.01 121.05h1.6v1.6h-1.6zM773.24 125.68h1.6v1.6h-1.6zM776.67 104.86h1.6v1.6h-1.6zM772.54 105.45h1.6v1.6h-1.6zM782.66 120.81h1.6v1.6h-1.6zM766.73 111.79h1.6v1.6h-1.6zM782.8 121.9h1.6v1.6h-1.6zM765.1 121.3h1.6v1.6h-1.6zM776.07 108.79h1.6v1.6h-1.6zM778.81 107.01h1.6v1.6h-1.6zM773.45 118.87h1.6v1.6h-1.6zM769.45 110.64h1.6v1.6h-1.6zM777.72 129.59h1.6v1.6h-1.6zM774.53 125.97h1.6v1.6h-1.6zM775.3 108.13h1.6v1.6h-1.6zM776.66 122.26h1.6v1.6h-1.6zM767.77 118.35h1.6v1.6h-1.6zM777.67 113.3h1.6v1.6h-1.6zM773.79 128.51h1.6v1.6h-1.6zM775.63 123.2h1.6v1.6h-1.6zM773.16 124.64h1.6v1.6h-1.6zM770.55 121.52h1.6v1.6h-1.6zM774.81 114.28h1.6v1.6h-1.6zM774.22 111.5h1.6v1.6h-1.6zM776.92 112.16h1.6v1.6h-1.6zM780.69 110.41h1.6v1.6h-1.6zM777.05 101.99h1.6v1.6h-1.6zM783.26 124.27h1.6v1.6h-1.6zM774.47 117.34h1.6v1.6h-1.6zM773.82 107.29h1.6v1.6h-1.6zM777.57 111.44h1.6v1.6h-1.6zM774.64 125.34h1.6v1.6h-1.6zM768 123.74h1.6v1.6h-1.6zM770.87 119.12h1.6v1.6h-1.6zM777.6 117.21h1.6v1.6h-1.6zM771.66 114.61h1.6v1.6h-1.6zM779.42 109.49h1.6v1.6h-1.6zM776.36 113.37h1.6v1.6h-1.6zM781.44 114.2h1.6v1.6h-1.6zM774.75 103.1h1.6v1.6h-1.6zM782 119.39h1.6v1.6h-1.6zM771.64 120.54h1.6v1.6h-1.6zM766.19 124.5h1.6v1.6h-1.6zM782.62 114h1.6v1.6h-1.6zM777.35 116.64h1.6v1.6h-1.6zM768.23 116.31h1.6v1.6h-1.6zM775.04 105.79h1.6v1.6h-1.6zM765.07 119.8h1.6v1.6h-1.6zM774.73 102.56h1.6v1.6h-1.6zM778.7 117.83h1.6v1.6h-1.6zM772.44 106.73h1.6v1.6h-1.6zM766.3 125.54h1.6v1.6h-1.6zM784.4 122.82h1.6v1.6h-1.6zM771.58 111.41h1.6v1.6h-1.6zM777.86 112.17h1.6v1.6h-1.6zM774.2 105.61h1.6v1.6h-1.6zM774.64 121.84h1.6v1.6h-1.6zM767.61 112.21h1.6v1.6h-1.6zM775.86 107.15h1.6v1.6h-1.6zM767.54 117.97h1.6v1.6h-1.6zM782.45 118.99h1.6v1.6h-1.6zM769.93 123.55h1.6v1.6h-1.6zM777.73 115.52h1.6v1.6h-1.6zM779.64 117.56h1.6v1.6h-1.6zM781.76 128.2h1.6v1.6h-1.6zM780.52 124.92h1.6v1.6h-1.6zM771.39 103.67h1.6v1.6h-1.6zM774.53 102.45h1.6v1.6h-1.6zM782.13 127.05h1.6v1.6h-1.6zM770.21 115.09h1.6v1.6h-1.6zM770.98 111.53h1.6v1.6h-1.6zM767.75 125.72h1.6v1.6h-1.6zM779.69 112.78h1.6v1.6h-1.6zM773.61 121.98h1.6v1.6h-1.6zM769.96 118.33h1.6v1.6h-1.6zM780.8 127.66h1.6v1.6h-1.6zM766.75 117.3h1.6v1.6h-1.6zM777.08 111.46h1.6v1.6h-1.6zM779.65 118.98h1.6v1.6h-1.6zM781.51 117.52h1.6v1.6h-1.6zM771.22 127.68h1.6v1.6h-1.6zM771.17 127.15h1.6v1.6h-1.6zM771.23 113.85h1.6v1.6h-1.6zM780.52 117.43h1.6v1.6h-1.6zM774.74 124.47h1.6v1.6h-1.6zM783.36 119.98h1.6v1.6h-1.6zM777.21 114.09h1.6v1.6h-1.6zM773.36 122.94h1.6v1.6h-1.6zM778.93 114.36h1.6v1.6h-1.6zM775.59 130.54h1.6v1.6h-1.6zM767.49 117.89h1.6v1.6h-1.6zM783.29 120.06h1.6v1.6h-1.6zM770.31 115.93h1.6v1.6h-1.6zM781.34 127.28h1.6v1.6h-1.6zM782.5 125.36h1.6v1.6h-1.6zM768.13 124.68h1.6v1.6h-1.6zM774.4 105.11h1.6v1.6h-1.6zM777.84 107.51h1.6v1.6h-1.6zM775.73 106.6h1.6v1.6h-1.6zM774.97 103.69h1.6v1.6h-1.6zM783.55 122.87h1.6v1.6h-1.6zM775.06 122.97h1.6v1.6h-1.6zM774.96 126.66h1.6v1.6h-1.6zM779.34 117.74h1.6v1.6h-1.6zM772.2 104.25h1.6v1.6h-1.6zM775.98 104.36h1.6v1.6h-1.6zM768.97 121.41h1.6v1.6h-1.6zM767.67 114.67h1.6v1.6h-1.6zM783.5 121.21h1.6v1.6h-1.6zM773.3 106.78h1.6v1.6h-1.6zM780.12 109.24h1.6v1.6h-1.6zM780.18 124.6h1.6v1.6h-1.6zM775.18 113.48h1.6v1.6h-1.6zM770.71 126.89h1.6v1.6h-1.6zM781.53 127.48h1.6v1.6h-1.6zM774.52 112.62h1.6v1.6h-1.6zM778.3 120.03h1.6v1.6h-1.6zM769.76 111.09h1.6v1.6h-1.6zM771.26 107.01h1.6v1.6h-1.6zM774.18 111.99h1.6v1.6h-1.6zM769.59 109.64h1.6v1.6h-1.6zM776.87 110.5h1.6v1.6h-1.6zM769.3 106.35h1.6v1.6h-1.6zM766.73 119.52h1.6v1.6h-1.6zM784.1 121.03h1.6v1.6h-1.6zM773.47 126.66h1.6v1.6h-1.6zM776.02 128.35h1.6v1.6h-1.6zM773.87 117.26h1.6v1.6h-1.6zM779.48 128.76h1.6v1.6h-1.6zM772.8 111.69h1.6v1.6h-1.6zM771.78 107.91h1.6v1.6h-1.6zM766.04 116.59h1.6v1.6h-1.6zM771.31 112.44h1.6v1.6h-1.6zM779.39 115.08h1.6v1.6h-1.6zM769.23 116.28h1.6v1.6h-1.6zM775.65 111.4h1.6v1.6h-1.6zM771.81 107.91h1.6v1.6h-1.6zM782.59 123.38h1.6v1.6h-1.6zM775.28 115.33h1.6v1.6h-1.6zM779.72 127.33h1.6v1.6h-1.6zM780.29 108.25h1.6v1.6h-1.6zM780.88 114.04h1.6v1.6h-1.6zM770.52 129.03h1.6v1.6h-1.6zM775.83 113.83h1.6v1.6h-1.6zM781.25 124.94h1.6v1.6h-1.6zM777.67 112.27h1.6v1.6h-1.6zM778.42 126h1.6v1.6h-1.6zM766.48 118.12h1.6v1.6h-1.6zM777.76 127.66h1.6v1.6h-1.6zM785.03 118.38h1.6v1.6h-1.6zM772.88 123.35h1.6v1.6h-1.6zM773.68 123.6h1.6v1.6h-1.6zM780.99 127.1h1.6v1.6h-1.6zM778.42 123.23h1.6v1.6h-1.6zM768.12 111.57h1.6v1.6h-1.6zM778.03 128.95h1.6v1.6h-1.6zM769.83 127.7h1.6v1.6h-1.6zM783.47 121.03h1.6v1.6h-1.6zM780.04 124.71h1.6v1.6h-1.6zM783.57 121.55h1.6v1.6h-1.6zM783.36 129.1h1.6v1.6h-1.6zM778.54 123.88h1.6v1.6h-1.6zM777.13 128.67h1.6v1.6h-1.6zM772.9 121.33h1.6v1.6h-1.6zM775.95 107.91h1.6v1.6h-1.6zM773.45 126.49h1.6v1.6h-1.6zM777.03 125.19h1.6v1.6h-1.6zM779.47 113.86h1.6v1.6h-1.6zM776.29 108.66h1.6v1.6h-1.6zM774.18 120.75h1.6v1.6h-1.6zM772.36 116.36h1.6v1.6h-1.6zM767.53 114.23h1.6v1.6h-1.6zM769.92 107.07h1.6v1.6h-1.6zM774.57 122.99h1.6v1.6h-1.6zM780.4 122.68h1.6v1.6h-1.6zM774.54 121.02h1.6v1.6h-1.6zM773.51 126.3h1.6v1.6h-1.6zM779.42 123.19h1.6v1.6h-1.6zM782.4 128.3h1.6v1.6h-1.6zM771 118.52h1.6v1.6h-1.6zM772.19 110.82h1.6v1.6h-1.6zM781.22 121.75h1.6v1.6h-1.6zM779.5 122.93h1.6v1.6h-1.6zM773.96 114h1.6v1.6h-1.6zM777.86 126.89h1.6v1.6h-1.6zM779.33 104.73h1.6v1.6h-1.6zM771.26 114.8h1.6v1.6h-1.6zM766.01 119.1h1.6v1.6h-1.6zM773.44 123.6h1.6v1.6h-1.6zM774 118.77h1.6v1.6h-1.6zM780.64 114.07h1.6v1.6h-1.6zM767.44 119.02h1.6v1.6h-1.6zM774.84 122.6h1.6v1.6h-1.6zM771.05 115.5h1.6v1.6h-1.6zM770.05 108.82h1.6v1.6h-1.6zM773.92 127.76h1.6v1.6h-1.6zM779.88 112.08h1.6v1.6h-1.6zM779.17 107.84h1.6v1.6h-1.6zM771.82 127.64h1.6v1.6h-1.6zM779.54 121.13h1.6v1.6h-1.6zM780.69 120.22h1.6v1.6h-1.6zM774.46 125.26h1.6v1.6h-1.6zM772.58 106.1h1.6v1.6h-1.6zM774.09 128.63h1.6v1.6h-1.6zM772.13 117.61h1.6v1.6h-1.6zM780.04 122.28h1.6v1.6h-1.6zM779.08 112.28h1.6v1.6h-1.6zM776.91 121.07h1.6v1.6h-1.6zM778.27 109.99h1.6v1.6h-1.6zM773.34 124.47h1.6v1.6h-1.6zM776.7 100.8h1.6v1.6h-1.6zM770.06 117.22h1.6v1.6h-1.6zM771.03 121.17h1.6v1.6h-1.6zM773.72 120.51h1.6v1.6h-1.6zM772.6 109.22h1.6v1.6h-1.6zM771.63 109.35h1.6v1.6h-1.6zM765.15 122.67h1.6v1.6h-1.6zM769.2 111.79h1.6v1.6h-1.6zM776.05 122.87h1.6v1.6h-1.6zM768.64 108.69h1.6v1.6h-1.6zM779.92 127h1.6v1.6h-1.6zM772.21 121.25h1.6v1.6h-1.6zM769.81 114.08h1.6v1.6h-1.6zM772.54 132.74h1.6v1.6h-1.6zM778.93 127.43h1.6v1.6h-1.6zM766.78 125.86h1.6v1.6h-1.6zM776.93 101.01h1.6v1.6h-1.6zM768.56 122.21h1.6v1.6h-1.6zM770.19 125.27h1.6v1.6h-1.6zM778.33 102.13h1.6v1.6h-1.6zM777.5 114.82h1.6v1.6h-1.6zM782.73 113h1.6v1.6h-1.6zM775.39 122.53h1.6v1.6h-1.6zM770.47 118.26h1.6v1.6h-1.6zM783.1 114.17h1.6v1.6h-1.6zM765.92 124.11h1.6v1.6h-1.6zM766.45 111.82h1.6v1.6h-1.6zM775.34 117.64h1.6v1.6h-1.6zM770.15 129.93h1.6v1.6h-1.6zM771.64 109.59h1.6v1.6h-1.6zM777.1 116.32h1.6v1.6h-1.6zM771.17 106.2h1.6v1.6h-1.6zM779.39 126.96h1.6v1.6h-1.6zM776.41 113.91h1.6v1.6h-1.6zM764.77 114.48h1.6v1.6h-1.6zM766.84 115.18h1.6v1.6h-1.6zM768.11 107.4h1.6v1.6h-1.6zM773.2 99.95h1.6v1.6h-1.6zM774.24 116.5h1.6v1.6h-1.6zM775.25 119.78h1.6v1.6h-1.6zM777.2 131.47h1.6v1.6h-1.6zM784.07 113.95h1.6v1.6h-1.6zM768.3 120.7h1.6v1.6h-1.6zM777.86 127.35h1.6v1.6h-1.6zM769.87 110.32h1.6v1.6h-1.6zM768.8 121.1h1.6v1.6h-1.6zM770.38 127.33h1.6v1.6h-1.6zM781.25 118.82h1.6v1.6h-1.6zM782.52 120.38h1.6v1.6h-1.6zM781.62 124.2h1.6v1.6h-1.6zM777.77 127.57h1.6v1.6h-1.6zM778.12 128.65h1.6v1.6h-1.6zM774.19 126.7h1.6v1.6h-1.6zM778.61 118.96h1.6v1.6h-1.6zM782.26 121.4h1.6v1.6h-1.6zM770.92 116.05h1.6v1.6h-1.6zM777.12 110.71h1.6v1.6h-1.6zM771.51 109.09h1.6v1.6h-1.6zM778.32 109.9h1.6v1.6h-1.6zM772.2 117.81h1.6v1.6h-1.6zM780.01 110.12h1.6v1.6h-1.6zM783.6 113.35h1.6v1.6h-1.6zM769.89 107.68h1.6v1.6h-1.6zM770.24 126.26h1.6v1.6h-1.6zM772.94 108.87h1.6v1.6h-1.6zM768.92 106.45h1.6v1.6h-1.6zM768 118.25h1.6v1.6h-1.6zM773.26 129.65h1.6v1.6h-1.6zM776.02 125.36h1.6v1.6h-1.6zM784.58 129.71h1.6v1.6h-1.6zM774.92 122.49h1.6v1.6h-1.6zM775.54 106.51h1.6v1.6h-1.6zM768 111h1.6v1.6h-1.6zM777.29 115.82h1.6v1.6h-1.6zM775.93 114.08h1.6v1.6h-1.6zM771.38 103.62h1.6v1.6h-1.6zM771.95 121.22h1.6v1.6h-1.6zM784.22 126.36h1.6v1.6h-1.6zM772.04 97.35h1.6v1.6h-1.6zM776 125.03h1.6v1.6h-1.6zM779.48 106.03h1.6v1.6h-1.6zM774.6 102.22h1.6v1.6h-1.6zM779.07 109.49h1.6v1.6h-1.6zM778.86 104.55h1.6v1.6h-1.6zM777.96 126.88h1.6v1.6h-1.6zM774.38 126.76h1.6v1.6h-1.6zM766.03 126.54h1.6v1.6h-1.6zM774.35 115.56h1.6v1.6h-1.6zM773.15 124.24h1.6v1.6h-1.6zM777.25 129.1h1.6v1.6h-1.6zM769.99 121.21h1.6v1.6h-1.6zM775.11 127.86h1.6v1.6h-1.6zM778.8 116.85h1.6v1.6h-1.6zM770.27 108.16h1.6v1.6h-1.6zM774.7 127.7h1.6v1.6h-1.6zM771.18 127.17h1.6v1.6h-1.6zM775.86 101.85h1.6v1.6h-1.6zM775.83 121.42h1.6v1.6h-1.6zM780.72 129.32h1.6v1.6h-1.6zM770.65 107.96h1.6v1.6h-1.6zM777.86 111.89h1.6v1.6h-1.6zM766.14 120.92h1.6v1.6h-1.6zM774.86 101.26h1.6v1.6h-1.6zM785.35 125.94h1.6v1.6h-1.6zM778.12 122.54h1.6v1.6h-1.6zM768.05 111.63h1.6v1.6h-1.6zM774.94 124.28h1.6v1.6h-1.6zM777.12 116.31h1.6v1.6h-1.6zM764.9 124.43h1.6v1.6h-1.6zM768.06 113.03h1.6v1.6h-1.6zM773.94 100.79h1.6v1.6h-1.6zM775.21 104h1.6v1.6h-1.6zM772.35 112.1h1.6v1.6h-1.6zM780.02 129.2h1.6v1.6h-1.6zM775.51 100.85h1.6v1.6h-1.6zM766.33 121.49h1.6v1.6h-1.6zM784.63 121.64h1.6v1.6h-1.6zM783.51 129.84h1.6v1.6h-1.6zM771 122.89h1.6v1.6h-1.6zM775.85 108.39h1.6v1.6h-1.6zM776.11 116.86h1.6v1.6h-1.6zM778.42 104.67h1.6v1.6h-1.6zM785.12 125.3h1.6v1.6h-1.6zM784.79 130.11h1.6v1.6h-1.6zM782.37 126.6h1.6v1.6h-1.6zM781.79 108.04h1.6v1.6h-1.6zM775.03 102.49h1.6v1.6h-1.6zM777.85 103.73h1.6v1.6h-1.6zM774.18 104.9h1.6v1.6h-1.6zM770 111.56h1.6v1.6h-1.6zM768.99 125.7h1.6v1.6h-1.6zM769.15 124.59h1.6v1.6h-1.6zM776.14 130.37h1.6v1.6h-1.6zM761.95 105.41h1.6v1.6h-1.6zM757.86 112.51h1.6v1.6h-1.6zM767.86 131.27h1.6v1.6h-1.6zM755.91 107.64h1.6v1.6h-1.6zM756.28 115.25h1.6v1.6h-1.6zM759.35 129.74h1.6v1.6h-1.6zM755.18 120.58h1.6v1.6h-1.6zM764.72 107.22h1.6v1.6h-1.6zM762.66 107.7h1.6v1.6h-1.6zM762.64 127.79h1.6v1.6h-1.6zM763.58 119.54h1.6v1.6h-1.6zM758.14 110.39h1.6v1.6h-1.6zM761.77 122.12h1.6v1.6h-1.6zM763.41 112.08h1.6v1.6h-1.6zM767.85 123.93h1.6v1.6h-1.6zM758.07 121.28h1.6v1.6h-1.6zM762.4 108.1h1.6v1.6h-1.6zM758.1 116.8h1.6v1.6h-1.6zM755.2 119.6h1.6v1.6h-1.6zM766.8 135.5h1.6v1.6h-1.6zM770.4 136.9h1.6v1.6h-1.6zM759.2 124.2h1.6v1.6h-1.6zM761.2 129.2h1.6v1.6h-1.6zM764.2 117.2h1.6v1.6h-1.6zM760.2 113.2h1.6v1.6h-1.6z"/>
<path fill="#7e2f8e" d="M756.99 119.06h1.55v1.55h-1.55zM760.77 130.75h1.55v1.55h-1.55zM763.38 111.46h1.55v1.55h-1.55zM762.13 100.93h1.55v1.55h-1.55zM763.17 137.07h1.55v1.55h-1.55zM763.77 121.33h1.55v1.55h-1.55zM762.5 137.1h1.55v1.55h-1.55zM758.51 113.82h1.55v1.55h-1.55zM761.9 123.16h1.55v1.55h-1.55zM758.63 135.15h1.55v1.55h-1.55zM765.12 115.19h1.55v1.55h-1.55zM760.58 106.88h1.55v1.55h-1.55zM764.96 110.06h1.55v1.55h-1.55zM755.64 132.92h1.55v1.55h-1.55zM765.85 121.3h1.55v1.55h-1.55zM765.25 125.63h1.55v1.55h-1.55zM761.58 109.31h1.55v1.55h-1.55zM757.37 137.07h1.55v1.55h-1.55zM759.43 123.82h1.55v1.55h-1.55zM756.9 135.33h1.55v1.55h-1.55zM760.32 114.44h1.55v1.55h-1.55zM764.4 100.3h1.55v1.55h-1.55z"/>
<path fill="#d95319" d="M790.98 161.5h1.7v1.7h-1.7zM795.95 162.85h1.7v1.7h-1.7zM803.39 168.24h1.7v1.7h-1.7zM801.08 154.87h1.7v1.7h-1.7zM800.8 164.66h1.7v1.7h-1.7zM791.38 157.29h1.7v1.7h-1.7zM791.05 144.03h1.7v1.7h-1.7zM807.02 164.14h1.7v1.7h-1.7zM796.11 161.25h1.7v1.7h-1.7zM788.72 151.14h1.7v1.7h-1.7zM805.63 168.73h1.7v1.7h-1.7zM812.41 168.31h1.7v1.7h-1.7zM792.2 163.44h1.7v1.7h-1.7zM810.25 167.41h1.7v1.7h-1.7zM800.24 165.53h1.7v1.7h-1.7zM795.94 173.61h1.7v1.7h-1.7zM788.16 139.44h1.7v1.7h-1.7zM793.94 147.37h1.7v1.7h-1.7zM801.71 160.58h1.7v1.7h-1.7zM805.28 162.89h1.7v1.7h-1.7zM810.87 174.21h1.7v1.7h-1.7zM790.77 148.92h1.7v1.7h-1.7zM798.71 170.96h1.7v1.7h-1.7zM785.94 143.36h1.7v1.7h-1.7zM792.25 172.65h1.7v1.7h-1.7zM807.51 163.71h1.7v1.7h-1.7zM799.36 158.69h1.7v1.7h-1.7zM790.82 141.29h1.7v1.7h-1.7zM796.89 172.96h1.7v1.7h-1.7zM804.61 160.8h1.7v1.7h-1.7zM789.16 152.5h1.7v1.7h-1.7zM802.97 163.24h1.7v1.7h-1.7zM799.15 171.72h1.7v1.7h-1.7zM809.04 173.65h1.7v1.7h-1.7zM792.23 148.26h1.7v1.7h-1.7zM793.23 147.13h1.7v1.7h-1.7zM796.59 173.71h1.7v1.7h-1.7zM799.06 155.5h1.7v1.7h-1.7zM802.37 174.98h1.7v1.7h-1.7zM806.26 165h1.7v1.7h-1.7zM788.06 151.12h1.7v1.7h-1.7zM789.81 164.27h1.7v1.7h-1.7zM805.01 174.99h1.7v1.7h-1.7zM797.86 175.59h1.7v1.7h-1.7zM794.12 173.6h1.7v1.7h-1.7zM799.58 157.74h1.7v1.7h-1.7zM799.3 175.43h1.7v1.7h-1.7zM793.71 171.8h1.7v1.7h-1.7zM793.98 158.61h1.7v1.7h-1.7zM792.05 147.83h1.7v1.7h-1.7zM805.9 174.18h1.7v1.7h-1.7zM811.68 166.73h1.7v1.7h-1.7zM795.23 158.54h1.7v1.7h-1.7zM804.22 173.82h1.7v1.7h-1.7zM788.42 141.59h1.7v1.7h-1.7zM806.77 166.72h1.7v1.7h-1.7zM810.03 164.62h1.7v1.7h-1.7zM809.72 170.4h1.7v1.7h-1.7zM801.72 162.32h1.7v1.7h-1.7zM783.98 142.28h1.7v1.7h-1.7zM807.19 160.04h1.7v1.7h-1.7zM809.95 173.42h1.7v1.7h-1.7zM799.82 155.82h1.7v1.7h-1.7zM798.32 153.61h1.7v1.7h-1.7zM804.58 172.39h1.7v1.7h-1.7zM791.78 164.2h1.7v1.7h-1.7zM807.51 160.95h1.7v1.7h-1.7zM801.42 176.08h1.7v1.7h-1.7zM794.21 164.07h1.7v1.7h-1.7zM797.49 164.11h1.7v1.7h-1.7zM806.47 175.78h1.7v1.7h-1.7zM791.6 150.57h1.7v1.7h-1.7zM785.24 136.61h1.7v1.7h-1.7zM786.55 145.95h1.7v1.7h-1.7zM798.56 171.98h1.7v1.7h-1.7zM783.76 145.17h1.7v1.7h-1.7zM787.96 146.54h1.7v1.7h-1.7zM785.91 139.36h1.7v1.7h-1.7zM796.57 162.97h1.7v1.7h-1.7zM806.03 167.09h1.7v1.7h-1.7zM787.49 146.74h1.7v1.7h-1.7zM794.39 150.91h1.7v1.7h-1.7zM800.45 155.9h1.7v1.7h-1.7zM789.18 138.5h1.7v1.7h-1.7zM798.75 171.63h1.7v1.7h-1.7zM802.44 155.13h1.7v1.7h-1.7zM804.46 168.87h1.7v1.7h-1.7zM795.69 161.72h1.7v1.7h-1.7zM794.9 158.37h1.7v1.7h-1.7zM783.88 140.73h1.7v1.7h-1.7zM803.73 168.37h1.7v1.7h-1.7zM800.15 170.75h1.7v1.7h-1.7zM795.91 148.36h1.7v1.7h-1.7zM798.65 149.93h1.7v1.7h-1.7zM789.1 142.19h1.7v1.7h-1.7zM804.06 171.37h1.7v1.7h-1.7zM795.37 169.85h1.7v1.7h-1.7zM784.95 144.64h1.7v1.7h-1.7zM800.01 172.74h1.7v1.7h-1.7zM804.52 175.13h1.7v1.7h-1.7zM790.72 165.69h1.7v1.7h-1.7zM791.46 143.26h1.7v1.7h-1.7zM796.9 154.98h1.7v1.7h-1.7zM803.65 177.14h1.7v1.7h-1.7zM793.3 159.45h1.7v1.7h-1.7zM809.64 172.43h1.7v1.7h-1.7zM788.67 160.06h1.7v1.7h-1.7zM804.32 165.56h1.7v1.7h-1.7zM794.35 150.8h1.7v1.7h-1.7zM799.44 154.53h1.7v1.7h-1.7zM808.87 162.84h1.7v1.7h-1.7zM792.05 165.62h1.7v1.7h-1.7zM788.33 155.47h1.7v1.7h-1.7zM786.11 137.3h1.7v1.7h-1.7zM787.66 138.5h1.7v1.7h-1.7zM784.09 136.54h1.7v1.7h-1.7zM811.61 164.99h1.7v1.7h-1.7zM788.46 156.73h1.7v1.7h-1.7zM800.03 174.63h1.7v1.7h-1.7zM789.61 142.64h1.7v1.7h-1.7zM800.39 160.59h1.7v1.7h-1.7zM784.94 142h1.7v1.7h-1.7zM811.96 173.14h1.7v1.7h-1.7zM804.29 157.44h1.7v1.7h-1.7zM802.34 157.42h1.7v1.7h-1.7zM808.59 162.41h1.7v1.7h-1.7zM803.19 155.95h1.7v1.7h-1.7zM804.03 176.18h1.7v1.7h-1.7zM792.54 158.61h1.7v1.7h-1.7zM807.9 163.57h1.7v1.7h-1.7zM795.32 145.36h1.7v1.7h-1.7zM795.1 147.55h1.7v1.7h-1.7zM799.57 161.37h1.7v1.7h-1.7zM796.61 169.3h1.7v1.7h-1.7zM801.95 170.22h1.7v1.7h-1.7zM794.16 146.2h1.7v1.7h-1.7zM799.27 168.8h1.7v1.7h-1.7zM787.72 140.71h1.7v1.7h-1.7zM789.21 154.76h1.7v1.7h-1.7zM790.93 155.93h1.7v1.7h-1.7zM805.37 169.74h1.7v1.7h-1.7zM789.29 150.3h1.7v1.7h-1.7zM784.62 144.28h1.7v1.7h-1.7zM809.88 175.43h1.7v1.7h-1.7zM788.61 144.04h1.7v1.7h-1.7zM801.54 165.25h1.7v1.7h-1.7zM785.79 145.35h1.7v1.7h-1.7zM795.32 153.63h1.7v1.7h-1.7zM784.9 139.1h1.7v1.7h-1.7zM804.77 162.1h1.7v1.7h-1.7zM807.84 161.96h1.7v1.7h-1.7zM799.02 171.45h1.7v1.7h-1.7zM802.79 176.46h1.7v1.7h-1.7zM802.27 162.29h1.7v1.7h-1.7zM788 140.9h1.7v1.7h-1.7zM801.28 168.9h1.7v1.7h-1.7zM802.68 172.99h1.7v1.7h-1.7zM790 149.25h1.7v1.7h-1.7zM802.76 160.11h1.7v1.7h-1.7zM787.49 141.64h1.7v1.7h-1.7zM811.61 165.74h1.7v1.7h-1.7zM797.43 150.71h1.7v1.7h-1.7zM791.23 156.52h1.7v1.7h-1.7zM804.9 171.53h1.7v1.7h-1.7zM799.47 153.8h1.7v1.7h-1.7zM811.45 173.5h1.7v1.7h-1.7zM786.9 137.25h1.7v1.7h-1.7zM797.11 170.87h1.7v1.7h-1.7zM805.58 168.86h1.7v1.7h-1.7zM795.95 172.91h1.7v1.7h-1.7zM789.31 143.23h1.7v1.7h-1.7zM797.19 170.87h1.7v1.7h-1.7zM806.3 168.13h1.7v1.7h-1.7zM783.79 145.65h1.7v1.7h-1.7zM796.21 149.44h1.7v1.7h-1.7zM804.27 166.24h1.7v1.7h-1.7zM786.4 149.31h1.7v1.7h-1.7zM788.53 140.14h1.7v1.7h-1.7zM787.82 151.4h1.7v1.7h-1.7zM782.92 147.5h1.7v1.7h-1.7zM797.26 165.46h1.7v1.7h-1.7zM811.45 165.96h1.7v1.7h-1.7zM800.11 153.63h1.7v1.7h-1.7zM797.26 174.42h1.7v1.7h-1.7zM791.62 146.23h1.7v1.7h-1.7zM798.45 153.01h1.7v1.7h-1.7zM801.09 173.92h1.7v1.7h-1.7zM793.71 145.78h1.7v1.7h-1.7zM796.59 174.26h1.7v1.7h-1.7zM809.34 168.18h1.7v1.7h-1.7zM784.68 152.75h1.7v1.7h-1.7zM793.45 152.43h1.7v1.7h-1.7zM784.63 152.02h1.7v1.7h-1.7zM785.91 139.11h1.7v1.7h-1.7zM793.63 169.97h1.7v1.7h-1.7zM805.74 168.98h1.7v1.7h-1.7zM783.79 144.8h1.7v1.7h-1.7zM787.3 150.57h1.7v1.7h-1.7zM793.9 147.52h1.7v1.7h-1.7zM790.01 138.37h1.7v1.7h-1.7zM786.8 141.33h1.7v1.7h-1.7zM794.96 174.28h1.7v1.7h-1.7zM808.89 171.97h1.7v1.7h-1.7zM801.88 169.52h1.7v1.7h-1.7zM807.9 173.05h1.7v1.7h-1.7zM805.97 164.46h1.7v1.7h-1.7zM789.29 157.95h1.7v1.7h-1.7zM790.15 167.42h1.7v1.7h-1.7zM805.82 176.46h1.7v1.7h-1.7zM789.74 162.31h1.7v1.7h-1.7zM786.76 141.55h1.7v1.7h-1.7zM791.91 159.8h1.7v1.7h-1.7zM800.65 150.8h1.7v1.7h-1.7zM787.16 141.97h1.7v1.7h-1.7zM790.25 157.63h1.7v1.7h-1.7zM797.54 150.51h1.7v1.7h-1.7zM797.15 148.77h1.7v1.7h-1.7zM808.5 164.92h1.7v1.7h-1.7zM785.22 144.81h1.7v1.7h-1.7zM801.47 169.84h1.7v1.7h-1.7zM796.26 168.58h1.7v1.7h-1.7zM797.63 157.38h1.7v1.7h-1.7zM788.5 154.61h1.7v1.7h-1.7zM801.6 164.72h1.7v1.7h-1.7zM791.03 158.52h1.7v1.7h-1.7zM792.66 146.96h1.7v1.7h-1.7zM801.52 175.02h1.7v1.7h-1.7zM795.99 169.52h1.7v1.7h-1.7zM789.22 150.95h1.7v1.7h-1.7zM807.97 168.39h1.7v1.7h-1.7zM793.46 152.47h1.7v1.7h-1.7zM791.53 143.16h1.7v1.7h-1.7zM802.97 171.81h1.7v1.7h-1.7zM794.56 166.32h1.7v1.7h-1.7zM794.92 148.34h1.7v1.7h-1.7zM794.77 167.5h1.7v1.7h-1.7zM792.25 173.03h1.7v1.7h-1.7zM784.29 148.61h1.7v1.7h-1.7zM804.81 161.67h1.7v1.7h-1.7zM791.89 143.84h1.7v1.7h-1.7zM792.33 161.61h1.7v1.7h-1.7zM804.07 164.14h1.7v1.7h-1.7zM808.54 159.43h1.7v1.7h-1.7zM797.77 170.76h1.7v1.7h-1.7zM796.28 169.15h1.7v1.7h-1.7zM806.36 161.59h1.7v1.7h-1.7zM794.57 169.13h1.7v1.7h-1.7zM789.33 154.6h1.7v1.7h-1.7zM806.84 168.87h1.7v1.7h-1.7zM786.64 148.17h1.7v1.7h-1.7zM789.48 144.13h1.7v1.7h-1.7zM801.24 169.05h1.7v1.7h-1.7zM801.25 161.57h1.7v1.7h-1.7zM793.29 145.43h1.7v1.7h-1.7zM786.35 137.54h1.7v1.7h-1.7zM791.75 153.62h1.7v1.7h-1.7zM784.19 145.92h1.7v1.7h-1.7zM795.04 167.61h1.7v1.7h-1.7zM783.14 143.23h1.7v1.7h-1.7zM795.46 171.99h1.7v1.7h-1.7zM802.69 157.07h1.7v1.7h-1.7zM793.67 147.99h1.7v1.7h-1.7zM797.66 154.78h1.7v1.7h-1.7zM807.24 164.56h1.7v1.7h-1.7zM805.83 162.15h1.7v1.7h-1.7zM790.34 157.95h1.7v1.7h-1.7zM793.2 162.6h1.7v1.7h-1.7zM807.02 173.08h1.7v1.7h-1.7zM801.27 156.96h1.7v1.7h-1.7zM789.43 164.55h1.7v1.7h-1.7zM798.73 167.91h1.7v1.7h-1.7zM807.84 161.46h1.7v1.7h-1.7zM785.07 139.17h1.7v1.7h-1.7zM786.81 138.69h1.7v1.7h-1.7zM787.14 147.15h1.7v1.7h-1.7zM794.36 158.9h1.7v1.7h-1.7zM803.63 160.67h1.7v1.7h-1.7zM797.22 174.48h1.7v1.7h-1.7zM800.29 153.57h1.7v1.7h-1.7zM805.19 167.66h1.7v1.7h-1.7zM804.61 172.4h1.7v1.7h-1.7zM805.81 163.57h1.7v1.7h-1.7zM789.24 142.76h1.7v1.7h-1.7zM804.31 159.84h1.7v1.7h-1.7zM803.01 157.41h1.7v1.7h-1.7zM806.07 176.12h1.7v1.7h-1.7zM796.26 173.62h1.7v1.7h-1.7zM802.04 173.87h1.7v1.7h-1.7zM814.86 171.44h1.7v1.7h-1.7zM792.53 171.06h1.7v1.7h-1.7zM796.43 175.81h1.7v1.7h-1.7zM807.4 172.28h1.7v1.7h-1.7zM786.26 150.5h1.7v1.7h-1.7zM801.72 162.08h1.7v1.7h-1.7zM790.84 142.22h1.7v1.7h-1.7zM796.39 169.65h1.7v1.7h-1.7zM806.73 168.25h1.7v1.7h-1.7zM804.01 169h1.7v1.7h-1.7zM807 168.7h1.7v1.7h-1.7zM806.88 163.12h1.7v1.7h-1.7zM802.43 160.07h1.7v1.7h-1.7zM787.51 149.06h1.7v1.7h-1.7zM791.04 147.47h1.7v1.7h-1.7zM789.51 165.46h1.7v1.7h-1.7zM790.38 144.65h1.7v1.7h-1.7zM789.74 162.03h1.7v1.7h-1.7zM792.03 162.1h1.7v1.7h-1.7zM797.42 157.51h1.7v1.7h-1.7zM787.43 144.9h1.7v1.7h-1.7zM790.59 167.62h1.7v1.7h-1.7zM806.5 159.5h1.7v1.7h-1.7zM792.31 164.75h1.7v1.7h-1.7zM786.77 136.49h1.7v1.7h-1.7zM801.9 159.74h1.7v1.7h-1.7zM797.89 150.04h1.7v1.7h-1.7zM787.39 137.29h1.7v1.7h-1.7zM797.36 172.93h1.7v1.7h-1.7zM808.33 173.7h1.7v1.7h-1.7zM799.22 171.09h1.7v1.7h-1.7zM796.76 153.03h1.7v1.7h-1.7zM800.44 164.89h1.7v1.7h-1.7zM790.45 152.59h1.7v1.7h-1.7zM795.31 171.16h1.7v1.7h-1.7zM789.69 161.79h1.7v1.7h-1.7zM796.47 160.56h1.7v1.7h-1.7zM784.97 141.23h1.7v1.7h-1.7zM793.41 156.55h1.7v1.7h-1.7zM786.73 145.87h1.7v1.7h-1.7zM789.9 150.57h1.7v1.7h-1.7zM801.84 153.73h1.7v1.7h-1.7zM790.66 156.74h1.7v1.7h-1.7zM786.58 153.86h1.7v1.7h-1.7zM808.94 163.6h1.7v1.7h-1.7zM803.67 164.96h1.7v1.7h-1.7zM788.42 158.46h1.7v1.7h-1.7zM796.17 169.19h1.7v1.7h-1.7zM804.79 167.14h1.7v1.7h-1.7zM799.5 171.07h1.7v1.7h-1.7zM794.97 156.14h1.7v1.7h-1.7zM787.13 142.29h1.7v1.7h-1.7zM795.49 172.21h1.7v1.7h-1.7zM787.63 160.31h1.7v1.7h-1.7zM797.87 168.77h1.7v1.7h-1.7zM795.97 152.65h1.7v1.7h-1.7zM793.48 160.25h1.7v1.7h-1.7zM783 138.87h1.7v1.7h-1.7zM790.64 156.2h1.7v1.7h-1.7zM785.94 151.38h1.7v1.7h-1.7zM798.61 169.54h1.7v1.7h-1.7zM806.44 167.66h1.7v1.7h-1.7zM792.31 163.19h1.7v1.7h-1.7zM797.53 167.5h1.7v1.7h-1.7zM800.33 155.86h1.7v1.7h-1.7zM802.22 171h1.7v1.7h-1.7zM807.98 175.9h1.7v1.7h-1.7zM793.89 153.82h1.7v1.7h-1.7zM797.21 167.79h1.7v1.7h-1.7zM806.27 170.9h1.7v1.7h-1.7zM792.87 169.63h1.7v1.7h-1.7zM798.7 167.88h1.7v1.7h-1.7zM797.33 149.52h1.7v1.7h-1.7zM786.44 153.21h1.7v1.7h-1.7zM787.45 158.84h1.7v1.7h-1.7zM789.63 161.89h1.7v1.7h-1.7zM793.86 150.47h1.7v1.7h-1.7zM791.43 150.88h1.7v1.7h-1.7zM785.63 148.03h1.7v1.7h-1.7zM790.88 154.9h1.7v1.7h-1.7zM789.53 141.38h1.7v1.7h-1.7zM809.46 172.01h1.7v1.7h-1.7zM806.97 166.21h1.7v1.7h-1.7zM787.49 158.84h1.7v1.7h-1.7zM799.75 164.29h1.7v1.7h-1.7zM795.53 150.82h1.7v1.7h-1.7zM799.23 157.75h1.7v1.7h-1.7zM801.1 163.77h1.7v1.7h-1.7zM795.73 165.48h1.7v1.7h-1.7zM784.28 145.12h1.7v1.7h-1.7zM790.62 156.05h1.7v1.7h-1.7zM809.9 169.48h1.7v1.7h-1.7zM808.72 175.18h1.7v1.7h-1.7zM786.61 145.77h1.7v1.7h-1.7zM802.48 164.84h1.7v1.7h-1.7zM797.73 175.43h1.7v1.7h-1.7zM791.2 151.91h1.7v1.7h-1.7zM793.66 169.29h1.7v1.7h-1.7zM789.45 145.44h1.7v1.7h-1.7zM785.07 151.02h1.7v1.7h-1.7zM784.87 142.68h1.7v1.7h-1.7zM807.84 170.57h1.7v1.7h-1.7zM788.8 151.11h1.7v1.7h-1.7zM808.59 172.13h1.7v1.7h-1.7zM796.5 165.92h1.7v1.7h-1.7zM797.19 154.18h1.7v1.7h-1.7zM797.22 150.98h1.7v1.7h-1.7zM803.96 172.82h1.7v1.7h-1.7zM807.1 172.84h1.7v1.7h-1.7zM800.08 161h1.7v1.7h-1.7zM795.29 149.93h1.7v1.7h-1.7zM795.92 161.28h1.7v1.7h-1.7zM799.13 171.16h1.7v1.7h-1.7zM788.54 155.24h1.7v1.7h-1.7zM804.16 158.22h1.7v1.7h-1.7zM797.97 157.32h1.7v1.7h-1.7zM801.62 161.98h1.7v1.7h-1.7zM804.82 168.19h1.7v1.7h-1.7zM790.15 152.29h1.7v1.7h-1.7zM811.89 169.82h1.7v1.7h-1.7zM793.33 164.48h1.7v1.7h-1.7zM800.05 172.6h1.7v1.7h-1.7zM799.41 151.06h1.7v1.7h-1.7zM784.03 141h1.7v1.7h-1.7zM792.13 151.5h1.7v1.7h-1.7zM802.11 156.38h1.7v1.7h-1.7zM785.51 137.37h1.7v1.7h-1.7zM801.97 169.64h1.7v1.7h-1.7zM801.65 152.1h1.7v1.7h-1.7zM788.61 145.99h1.7v1.7h-1.7zM790.64 153.49h1.7v1.7h-1.7zM803.9 163.85h1.7v1.7h-1.7zM790.72 157.99h1.7v1.7h-1.7zM791.84 143.09h1.7v1.7h-1.7zM798.44 169.56h1.7v1.7h-1.7zM786.36 143.03h1.7v1.7h-1.7zM791.06 158h1.7v1.7h-1.7zM783.79 143.04h1.7v1.7h-1.7zM807.35 171.25h1.7v1.7h-1.7zM810.9 165.79h1.7v1.7h-1.7zM796.79 151.04h1.7v1.7h-1.7zM802.26 162.25h1.7v1.7h-1.7zM787.67 139.07h1.7v1.7h-1.7zM810.05 172.51h1.7v1.7h-1.7zM794.57 150.85h1.7v1.7h-1.7zM804.29 156.97h1.7v1.7h-1.7zM806.87 162.11h1.7v1.7h-1.7zM797.4 160.7h1.7v1.7h-1.7zM791.23 151.37h1.7v1.7h-1.7zM796.89 159.98h1.7v1.7h-1.7zM804.71 166.99h1.7v1.7h-1.7zM799.39 163.07h1.7v1.7h-1.7zM786.18 143.45h1.7v1.7h-1.7zM787.27 157.48h1.7v1.7h-1.7zM803.26 168.79h1.7v1.7h-1.7zM784.16 147.62h1.7v1.7h-1.7zM804.23 170.63h1.7v1.7h-1.7zM811.01 170.56h1.7v1.7h-1.7zM788.75 153.01h1.7v1.7h-1.7zM799.05 156.62h1.7v1.7h-1.7zM789.99 158.71h1.7v1.7h-1.7zM802.88 159.72h1.7v1.7h-1.7zM810.57 162.03h1.7v1.7h-1.7zM801.18 158.14h1.7v1.7h-1.7zM799.75 161.3h1.7v1.7h-1.7zM791.31 161.4h1.7v1.7h-1.7zM787.79 138.55h1.7v1.7h-1.7zM807.79 175.73h1.7v1.7h-1.7zM791.12 148.44h1.7v1.7h-1.7zM785.01 144.7h1.7v1.7h-1.7zM797.71 175.93h1.7v1.7h-1.7zM789.01 147.44h1.7v1.7h-1.7zM800.94 166.57h1.7v1.7h-1.7zM797.14 161.04h1.7v1.7h-1.7zM811.12 168.7h1.7v1.7h-1.7zM783.58 142.35h1.7v1.7h-1.7zM804.57 171.27h1.7v1.7h-1.7zM794.62 161.32h1.7v1.7h-1.7zM801.75 155.2h1.7v1.7h-1.7zM793.77 165.5h1.7v1.7h-1.7zM790.46 140.67h1.7v1.7h-1.7zM789.59 145.45h1.7v1.7h-1.7zM790.81 150.37h1.7v1.7h-1.7zM807.04 173.78h1.7v1.7h-1.7zM807.72 161.79h1.7v1.7h-1.7zM802.79 164.78h1.7v1.7h-1.7zM801.1 155.8h1.7v1.7h-1.7zM799.41 171.17h1.7v1.7h-1.7zM802.73 160.38h1.7v1.7h-1.7zM791.02 163.85h1.7v1.7h-1.7zM796.82 168.02h1.7v1.7h-1.7zM785.88 154.35h1.7v1.7h-1.7zM786.27 148.02h1.7v1.7h-1.7zM804.07 167.46h1.7v1.7h-1.7zM785.22 153.67h1.7v1.7h-1.7zM796.74 151.33h1.7v1.7h-1.7zM792.61 154.2h1.7v1.7h-1.7zM801.99 155.35h1.7v1.7h-1.7zM804.24 164.32h1.7v1.7h-1.7zM802.39 167.03h1.7v1.7h-1.7zM793.34 157.85h1.7v1.7h-1.7zM797.18 163.5h1.7v1.7h-1.7zM798.64 162.36h1.7v1.7h-1.7zM789.08 139.91h1.7v1.7h-1.7zM786.05 144.29h1.7v1.7h-1.7zM793.46 156.7h1.7v1.7h-1.7zM809.98 175.04h1.7v1.7h-1.7zM795.55 175.34h1.7v1.7h-1.7zM792.35 152.94h1.7v1.7h-1.7zM794.38 165.92h1.7v1.7h-1.7zM810.41 172.93h1.7v1.7h-1.7zM791.35 154.53h1.7v1.7h-1.7zM799.91 161.94h1.7v1.7h-1.7zM808.96 173.69h1.7v1.7h-1.7zM801.93 158.5h1.7v1.7h-1.7zM797.86 174.63h1.7v1.7h-1.7zM790.08 138.83h1.7v1.7h-1.7zM786.81 159.65h1.7v1.7h-1.7zM787.27 139.13h1.7v1.7h-1.7zM785.15 143.21h1.7v1.7h-1.7zM796.6 169.41h1.7v1.7h-1.7zM806 173.52h1.7v1.7h-1.7zM796.72 168.8h1.7v1.7h-1.7zM799.2 160.53h1.7v1.7h-1.7zM789.67 162.81h1.7v1.7h-1.7zM791.96 150.75h1.7v1.7h-1.7zM794.89 153.37h1.7v1.7h-1.7zM796.62 157.28h1.7v1.7h-1.7zM809.14 169.27h1.7v1.7h-1.7zM786.28 150.09h1.7v1.7h-1.7zM807.94 167.14h1.7v1.7h-1.7zM805.47 162.7h1.7v1.7h-1.7zM789.81 156.18h1.7v1.7h-1.7zM791.93 146.59h1.7v1.7h-1.7zM808.97 168.04h1.7v1.7h-1.7zM793.27 172.07h1.7v1.7h-1.7zM795.94 158.64h1.7v1.7h-1.7zM795.93 173.44h1.7v1.7h-1.7zM792.08 162.7h1.7v1.7h-1.7zM790.14 153.64h1.7v1.7h-1.7zM787.89 151.34h1.7v1.7h-1.7zM802.43 166.82h1.7v1.7h-1.7zM803.97 159.48h1.7v1.7h-1.7zM799.33 168.72h1.7v1.7h-1.7zM808.68 176.7h1.7v1.7h-1.7zM785.78 153.46h1.7v1.7h-1.7zM788.3 143.79h1.7v1.7h-1.7zM785.46 141.31h1.7v1.7h-1.7zM792.88 169.56h1.7v1.7h-1.7zM796.29 150.19h1.7v1.7h-1.7zM795.43 151.87h1.7v1.7h-1.7zM797.88 148.61h1.7v1.7h-1.7zM790.26 156.69h1.7v1.7h-1.7zM793.24 162.12h1.7v1.7h-1.7zM802.54 167.74h1.7v1.7h-1.7zM790.46 157.52h1.7v1.7h-1.7zM793.76 149.99h1.7v1.7h-1.7zM785.18 145.67h1.7v1.7h-1.7zM803.46 166.21h1.7v1.7h-1.7zM793.53 158.58h1.7v1.7h-1.7zM798.51 150.34h1.7v1.7h-1.7zM799.01 160.02h1.7v1.7h-1.7zM797.66 153.08h1.7v1.7h-1.7zM798.35 149.08h1.7v1.7h-1.7zM800.92 157.16h1.7v1.7h-1.7zM788.33 154.77h1.7v1.7h-1.7zM802.71 169.63h1.7v1.7h-1.7zM798 150.9h1.7v1.7h-1.7zM793.25 144.9h1.7v1.7h-1.7zM795.55 151.95h1.7v1.7h-1.7zM798.05 158.34h1.7v1.7h-1.7zM786.56 151.06h1.7v1.7h-1.7zM807.15 166.49h1.7v1.7h-1.7zM796.33 165.32h1.7v1.7h-1.7zM798.4 159.04h1.7v1.7h-1.7zM805.59 175.01h1.7v1.7h-1.7zM803.52 155.19h1.7v1.7h-1.7zM786.28 151.59h1.7v1.7h-1.7zM789.89 166.73h1.7v1.7h-1.7zM806.7 168.11h1.7v1.7h-1.7zM787.19 150.69h1.7v1.7h-1.7zM804.14 165.04h1.7v1.7h-1.7zM788.98 134.66h1.7v1.7h-1.7zM787.66 147.03h1.7v1.7h-1.7zM796.26 153.44h1.7v1.7h-1.7zM802.98 174.62h1.7v1.7h-1.7zM784.16 145.75h1.7v1.7h-1.7zM810.02 174.98h1.7v1.7h-1.7zM798.17 169.65h1.7v1.7h-1.7zM799.56 175.56h1.7v1.7h-1.7zM793.83 149.37h1.7v1.7h-1.7zM790.26 150.46h1.7v1.7h-1.7zM804.26 168.96h1.7v1.7h-1.7zM786.18 147.3h1.7v1.7h-1.7zM788.87 137.43h1.7v1.7h-1.7zM790.04 149.35h1.7v1.7h-1.7zM803.51 162.42h1.7v1.7h-1.7zM787.07 147.45h1.7v1.7h-1.7zM791.41 165.57h1.7v1.7h-1.7zM796.23 164.53h1.7v1.7h-1.7zM793.45 151.92h1.7v1.7h-1.7zM788.69 144.59h1.7v1.7h-1.7zM795.49 165.33h1.7v1.7h-1.7zM788.76 157.67h1.7v1.7h-1.7zM792.95 143.01h1.7v1.7h-1.7zM790.94 164.06h1.7v1.7h-1.7zM799.4 155.54h1.7v1.7h-1.7zM799.83 170.07h1.7v1.7h-1.7zM786.14 154.6h1.7v1.7h-1.7zM792.98 151.29h1.7v1.7h-1.7zM794.22 149.41h1.7v1.7h-1.7zM806.7 168.11h1.7v1.7h-1.7zM783.78 149.19h1.7v1.7h-1.7zM805.54 165.87h1.7v1.7h-1.7zM785.14 143.67h1.7v1.7h-1.7zM786.24 139.42h1.7v1.7h-1.7zM790.42 144.24h1.7v1.7h-1.7zM787.9 151.19h1.7v1.7h-1.7zM793.08 145.72h1.7v1.7h-1.7zM799.39 151.18h1.7v1.7h-1.7zM795.28 164h1.7v1.7h-1.7zM781.75 140.34h1.7v1.7h-1.7zM785.3 144.03h1.7v1.7h-1.7zM790.3 155.76h1.7v1.7h-1.7zM784.25 139.2h1.7v1.7h-1.7zM798.95 160.6h1.7v1.7h-1.7zM798.13 151.15h1.7v1.7h-1.7zM806.35 164.04h1.7v1.7h-1.7zM791.84 155.69h1.7v1.7h-1.7zM805.81 174.21h1.7v1.7h-1.7zM790.68 150.72h1.7v1.7h-1.7zM796.96 154.06h1.7v1.7h-1.7zM810.54 167.22h1.7v1.7h-1.7zM796.45 152.03h1.7v1.7h-1.7zM804.93 165.76h1.7v1.7h-1.7zM800.38 163.73h1.7v1.7h-1.7zM800.78 153.51h1.7v1.7h-1.7zM785.86 142.92h1.7v1.7h-1.7zM797.35 162.16h1.7v1.7h-1.7zM789.67 147.06h1.7v1.7h-1.7zM789.07 133.7h1.7v1.7h-1.7zM795.15 156.52h1.7v1.7h-1.7zM791.46 156.66h1.7v1.7h-1.7zM795.79 151.39h1.7v1.7h-1.7zM795 172.92h1.7v1.7h-1.7zM797.21 154.71h1.7v1.7h-1.7zM806.07 171.74h1.7v1.7h-1.7zM786.14 149.83h1.7v1.7h-1.7zM798.2 152.45h1.7v1.7h-1.7zM807.86 171.76h1.7v1.7h-1.7zM799.88 149.13h1.7v1.7h-1.7zM787.45 133.04h1.7v1.7h-1.7zM797.58 154.8h1.7v1.7h-1.7zM797.46 163.04h1.7v1.7h-1.7zM797.39 162.51h1.7v1.7h-1.7zM803.57 165.67h1.7v1.7h-1.7zM788.44 152.58h1.7v1.7h-1.7zM806.22 173.34h1.7v1.7h-1.7zM791.91 166.62h1.7v1.7h-1.7zM808.65 174.91h1.7v1.7h-1.7zM790.85 139.21h1.7v1.7h-1.7zM784.97 145.88h1.7v1.7h-1.7zM794.41 161.3h1.7v1.7h-1.7zM803.53 159.9h1.7v1.7h-1.7zM791.29 149.78h1.7v1.7h-1.7zM783.39 140.92h1.7v1.7h-1.7zM809.42 175.09h1.7v1.7h-1.7zM801.14 172.58h1.7v1.7h-1.7zM793.04 166.88h1.7v1.7h-1.7zM799.41 171.87h1.7v1.7h-1.7zM800.94 157.13h1.7v1.7h-1.7zM796.01 155.39h1.7v1.7h-1.7zM774.97 158.73h1.7v1.7h-1.7zM771.39 155.05h1.7v1.7h-1.7zM777.12 158.94h1.7v1.7h-1.7zM774.94 144.07h1.7v1.7h-1.7zM771.92 148.27h1.7v1.7h-1.7zM779.11 139.43h1.7v1.7h-1.7zM776.9 153.57h1.7v1.7h-1.7zM774.64 156.11h1.7v1.7h-1.7zM773.83 137.04h1.7v1.7h-1.7zM782.98 147.13h1.7v1.7h-1.7zM772.69 159.5h1.7v1.7h-1.7zM783.42 147.21h1.7v1.7h-1.7zM773.66 147.19h1.7v1.7h-1.7zM777.23 150.67h1.7v1.7h-1.7zM781.69 155.06h1.7v1.7h-1.7zM770.82 139.01h1.7v1.7h-1.7zM780.15 134.13h1.7v1.7h-1.7zM781.99 153.35h1.7v1.7h-1.7zM779.9 159.88h1.7v1.7h-1.7zM773.63 164.42h1.7v1.7h-1.7zM771.73 152.29h1.7v1.7h-1.7zM772.07 159.52h1.7v1.7h-1.7zM780.28 152.61h1.7v1.7h-1.7zM780.84 160.16h1.7v1.7h-1.7zM771.3 136.57h1.7v1.7h-1.7zM777.39 134.81h1.7v1.7h-1.7zM773.08 147.63h1.7v1.7h-1.7zM773.23 152.14h1.7v1.7h-1.7zM768.62 151.56h1.7v1.7h-1.7zM769.71 136.3h1.7v1.7h-1.7zM803.77 149.02h1.7v1.7h-1.7zM803.97 156h1.7v1.7h-1.7zM803.55 143.91h1.7v1.7h-1.7zM808.59 158.78h1.7v1.7h-1.7zM805.39 147.54h1.7v1.7h-1.7zM803.93 140.35h1.7v1.7h-1.7zM806.66 157.52h1.7v1.7h-1.7zM808.01 158.84h1.7v1.7h-1.7zM807.24 154.01h1.7v1.7h-1.7zM802.81 140.45h1.7v1.7h-1.7zM814.15 154.15h1.7v1.7h-1.7zM811.15 149.15h1.7v1.7h-1.7zM776.15 169.15h1.7v1.7h-1.7z"/>
<polygon points="890.98,96.29 887.23,98.97 880.87,105.28 876.93,110.69 873,116.11 867.49,123.11 864.17,127.3 862.68,130.69 863.92,131.71 866.8,129.46 870.35,125.46 876.47,118.96 881.41,114.38 885.12,108.77 890.31,101.51 892.22,97.31" fill="#edb120"/>
<path fill="#edb120" d="M875.75 117.32h1.6v1.6h-1.6zM866.76 123.22h1.6v1.6h-1.6zM874.29 115.23h1.6v1.6h-1.6zM875.45 115.72h1.6v1.6h-1.6zM878.34 113.9h1.6v1.6h-1.6zM881.92 103.43h1.6v1.6h-1.6zM874.73 119.05h1.6v1.6h-1.6zM872.61 119.47h1.6v1.6h-1.6zM876.06 111.41h1.6v1.6h-1.6zM884.57 105.34h1.6v1.6h-1.6zM876.48 112.92h1.6v1.6h-1.6zM878.53 113.45h1.6v1.6h-1.6zM881.24 110.28h1.6v1.6h-1.6zM877.92 115.23h1.6v1.6h-1.6zM876.84 115.64h1.6v1.6h-1.6zM865.46 126h1.6v1.6h-1.6zM867.5 127.29h1.6v1.6h-1.6zM887.39 99.85h1.6v1.6h-1.6zM873.89 119.1h1.6v1.6h-1.6zM875.58 112.69h1.6v1.6h-1.6zM865.69 126.77h1.6v1.6h-1.6zM878.61 112.84h1.6v1.6h-1.6zM882.93 101.37h1.6v1.6h-1.6zM887.88 97.91h1.6v1.6h-1.6zM879.99 109.85h1.6v1.6h-1.6zM878.73 112.65h1.6v1.6h-1.6zM887.19 102.74h1.6v1.6h-1.6zM868.3 123.86h1.6v1.6h-1.6zM874.64 120.33h1.6v1.6h-1.6zM873.87 113.7h1.6v1.6h-1.6zM888.79 100.71h1.6v1.6h-1.6zM882.16 105.49h1.6v1.6h-1.6zM879.61 114.24h1.6v1.6h-1.6zM880.89 110.84h1.6v1.6h-1.6zM866.44 124.03h1.6v1.6h-1.6zM885.52 103.57h1.6v1.6h-1.6zM889.02 99.44h1.6v1.6h-1.6zM887.81 97.78h1.6v1.6h-1.6zM879.35 107.89h1.6v1.6h-1.6zM882.38 108.88h1.6v1.6h-1.6zM885.82 101.79h1.6v1.6h-1.6zM887.54 98.48h1.6v1.6h-1.6zM880.94 110.54h1.6v1.6h-1.6zM883.49 105.23h1.6v1.6h-1.6zM873.95 119.44h1.6v1.6h-1.6zM869.05 125.11h1.6v1.6h-1.6zM874.44 113.71h1.6v1.6h-1.6zM881.31 104.14h1.6v1.6h-1.6zM875.44 114.49h1.6v1.6h-1.6zM879.19 112.61h1.6v1.6h-1.6zM869.38 123.04h1.6v1.6h-1.6zM871.49 118.52h1.6v1.6h-1.6zM870.15 118.91h1.6v1.6h-1.6zM882.02 107.64h1.6v1.6h-1.6zM863.9 128.01h1.6v1.6h-1.6zM865.28 124.37h1.6v1.6h-1.6zM877.52 106.63h1.6v1.6h-1.6zM888.34 101.09h1.6v1.6h-1.6zM874.57 115.78h1.6v1.6h-1.6zM879.14 108.21h1.6v1.6h-1.6zM862.7 132.4h1.6v1.6h-1.6z"/>
<path fill="#d95319" d="M837.4 122.3h1.8v1.8h-1.8zM832.1 128.9h1.8v1.8h-1.8zM832.5 134.3h1.8v1.8h-1.8zM831.7 139.4h1.8v1.8h-1.8zM829.1 142.5h1.8v1.8h-1.8zM828.1 144.5h1.8v1.8h-1.8z"/>
<path fill="#7e2f8e" d="M819.9 117.4h1.6v1.6h-1.6z"/>
<line x1="623" y1="46.6" x2="803.5" y2="1.5" stroke="#333333" stroke-width="1"/>
<line x1="803.5" y1="1.5" x2="978.5" y2="48" stroke="#333333" stroke-width="1"/>
<line x1="623" y1="217.8" x2="798" y2="264.5" stroke="#333333" stroke-width="1"/>
<line x1="798" y1="264.5" x2="978.5" y2="219.3" stroke="#333333" stroke-width="1"/>
<line x1="623" y1="217.8" x2="803.5" y2="172.6" stroke="#333333" stroke-width="1"/>
<line x1="803.5" y1="172.6" x2="978.5" y2="219.3" stroke="#333333" stroke-width="1"/>
<line x1="623" y1="46.6" x2="623" y2="217.8" stroke="#c4c4c4" stroke-width="2"/>
<line x1="803.5" y1="1.5" x2="803.5" y2="172.6" stroke="#8a8a8a" stroke-width="1"/>
<line x1="978.5" y1="48" x2="978.5" y2="219.3" stroke="#8c8c8c" stroke-width="1"/>
<line x1="623" y1="217.8" x2="618.36" y2="216.56" stroke="#333333" stroke-width="1"/>
<line x1="623" y1="159.76" x2="618.36" y2="158.53" stroke="#333333" stroke-width="1"/>
<line x1="623" y1="102.75" x2="618.36" y2="101.52" stroke="#333333" stroke-width="1"/>
<line x1="623" y1="217.8" x2="618.34" y2="218.97" stroke="#333333" stroke-width="1"/>
<line x1="710.5" y1="241.15" x2="705.84" y2="242.32" stroke="#333333" stroke-width="1"/>
<line x1="798" y1="264.5" x2="793.34" y2="265.67" stroke="#333333" stroke-width="1"/>
<line x1="798" y1="264.5" x2="802.64" y2="265.74" stroke="#333333" stroke-width="1"/>
<line x1="888.25" y1="241.9" x2="892.89" y2="243.14" stroke="#333333" stroke-width="1"/>
<line x1="978.5" y1="219.3" x2="983.14" y2="220.54" stroke="#333333" stroke-width="1"/>
<ellipse cx="785.6" cy="136.8" rx="42" ry="56" transform="rotate(0 785.6 136.8)" fill="none" stroke="#222" stroke-width="2" stroke-dasharray="4.8 3.2"/>
<line x1="674" y1="201.7" x2="738.8" y2="227.2" stroke="#111" stroke-width="1.3" stroke-dasharray="5 3"/>
<text transform="translate(548.4 111.01) scale(0.9744 0.9853)" font-size="30" font-weight="bold" fill="#222222" stroke="#222222" stroke-width="0.35" stroke-linejoin="round" style="font-family:&quot;Liberation Serif&quot;, serif">-0.01</text>
<text transform="translate(534.3 168.11) scale(0.9768 0.9755)" font-size="30" font-weight="bold" fill="#222222" stroke="#222222" stroke-width="0.35" stroke-linejoin="round" style="font-family:&quot;Liberation Serif&quot;, serif">-0.015</text>
<text transform="translate(548.4 225.61) scale(0.9856 0.9853)" font-size="30" font-weight="bold" fill="#222222" stroke="#222222" stroke-width="0.35" stroke-linejoin="round" style="font-family:&quot;Liberation Serif&quot;, serif">-0.02</text>
<text transform="translate(558.7 248.62) scale(0.9752 0.9608)" font-size="30" font-weight="bold" fill="#222222" stroke="#222222" stroke-width="0.35" stroke-linejoin="round" style="font-family:&quot;Liberation Serif&quot;, serif">0.02</text>
<text transform="translate(684.2 272.21) scale(0.9400 0.9704)" font-size="30" font-weight="bold" fill="#222222" stroke="#222222" stroke-width="0.35" stroke-linejoin="round" style="font-family:&quot;Liberation Serif&quot;, serif">0</text>
<text transform="translate(724.2 295.21) scale(0.9680 0.9804)" font-size="30" font-weight="bold" fill="#222222" stroke="#222222" stroke-width="0.35" stroke-linejoin="round" style="font-family:&quot;Liberation Serif&quot;, serif">-0.02</text>
<text transform="translate(809.9 295.31) scale(0.9067 0.9655)" font-size="30" font-weight="bold" fill="#222222" stroke="#222222" stroke-width="0.35" stroke-linejoin="round" style="font-family:&quot;Liberation Serif&quot;, serif">0</text>
<text transform="translate(900.7 272.51) scale(0.9562 0.9755)" font-size="30" font-weight="bold" fill="#222222" stroke="#222222" stroke-width="0.35" stroke-linejoin="round" style="font-family:&quot;Liberation Serif&quot;, serif">0.05</text>
<text transform="translate(990.8 250.39) scale(0.8693 1.0147)" font-size="30" font-weight="bold" fill="#222222" stroke="#222222" stroke-width="0.35" stroke-linejoin="round" style="font-family:&quot;Liberation Serif&quot;, serif">0.1</text>
<text transform="translate(614.9 324.6) scale(0.8681 1.0055)" font-size="33" font-weight="bold" fill="#222222" stroke="#222222" stroke-width="0.35" stroke-linejoin="round" style="font-family:&quot;Liberation Serif&quot;, serif">P1</text>
<text transform="translate(937.7 325.5) scale(0.9146 1.0187)" font-size="33" font-weight="bold" fill="#222222" stroke="#222222" stroke-width="0.35" stroke-linejoin="round" style="font-family:&quot;Liberation Serif&quot;, serif">P2</text>
<text transform="translate(524.26 150.8) rotate(-90) scale(0.9555 1.0216)" font-size="33" font-weight="bold" fill="#222222" stroke="#222222" stroke-width="0.35" stroke-linejoin="round" style="font-family:&quot;Liberation Serif&quot;, serif">P3</text>
<text transform="translate(986.8 29.15) scale(0.9935 1.0181)" font-size="26" font-weight="bold" fill="#222222" stroke="#222222" stroke-width="0.35" stroke-linejoin="round" style="font-family:&quot;Liberation Serif&quot;, serif">(b)</text>
<polygon points="111.5,449.3 275.6,398.4 275.3,566.4 111.5,617.3" fill="#f0f0f0"/>
<polygon points="275.6,398.4 445.5,447.3 445.5,615.3 275.3,566.4" fill="#f0f0f0"/>
<polygon points="111.5,617.3 275.3,566.4 445.5,615.3 281.6,666.2" fill="#f0f0f0"/>
<line x1="111.5" y1="533.3" x2="275.45" y2="482.4" stroke="#d3d3d3" stroke-width="1"/>
<line x1="275.45" y1="482.4" x2="445.5" y2="531.3" stroke="#d3d3d3" stroke-width="1"/>
<line x1="196.55" y1="641.75" x2="360.4" y2="590.85" stroke="#d3d3d3" stroke-width="1"/>
<line x1="360.4" y1="590.85" x2="360.55" y2="422.85" stroke="#d3d3d3" stroke-width="1"/>
<line x1="363.55" y1="640.75" x2="193.4" y2="591.85" stroke="#d3d3d3" stroke-width="1"/>
<line x1="193.4" y1="591.85" x2="193.55" y2="423.85" stroke="#d3d3d3" stroke-width="1"/>
<path fill="#0072bd" d="M238.65 461.48h1.55v1.55h-1.55zM238.71 458.55h1.55v1.55h-1.55zM236.36 464.56h1.55v1.55h-1.55zM228.7 459.96h1.55v1.55h-1.55zM237.64 464.06h1.55v1.55h-1.55zM231.18 446.34h1.55v1.55h-1.55zM238.22 463.22h1.55v1.55h-1.55zM238.32 470.89h1.55v1.55h-1.55zM232.6 472.05h1.55v1.55h-1.55zM241.55 455.76h1.55v1.55h-1.55zM239.53 463.71h1.55v1.55h-1.55zM240.85 444.95h1.55v1.55h-1.55zM242.58 460.24h1.55v1.55h-1.55zM243.5 462.83h1.55v1.55h-1.55zM233.33 452.18h1.55v1.55h-1.55zM233.14 455.84h1.55v1.55h-1.55zM235.16 444.16h1.55v1.55h-1.55zM228.23 470.26h1.55v1.55h-1.55zM236.75 453.39h1.55v1.55h-1.55zM243.67 452.14h1.55v1.55h-1.55zM242.32 468.51h1.55v1.55h-1.55zM239.44 458.78h1.55v1.55h-1.55zM226.47 464.98h1.55v1.55h-1.55zM240.23 447.02h1.55v1.55h-1.55zM237.21 469.75h1.55v1.55h-1.55zM233.35 460.11h1.55v1.55h-1.55zM233.29 475.34h1.55v1.55h-1.55zM227.28 462.73h1.55v1.55h-1.55zM237.76 461.84h1.55v1.55h-1.55zM235.32 448.33h1.55v1.55h-1.55zM229.71 455.61h1.55v1.55h-1.55zM241.68 460.47h1.55v1.55h-1.55zM229.94 464.29h1.55v1.55h-1.55zM229.52 452.71h1.55v1.55h-1.55zM229.26 453.73h1.55v1.55h-1.55zM228.67 455.23h1.55v1.55h-1.55zM240.39 457.84h1.55v1.55h-1.55zM242.74 451.78h1.55v1.55h-1.55zM239.88 464.3h1.55v1.55h-1.55zM237.37 451.7h1.55v1.55h-1.55zM228.8 455.31h1.55v1.55h-1.55zM242.36 454.9h1.55v1.55h-1.55zM241.36 466.38h1.55v1.55h-1.55zM233.53 469.32h1.55v1.55h-1.55zM227.26 463.01h1.55v1.55h-1.55zM236.44 452.12h1.55v1.55h-1.55zM242.1 463.97h1.55v1.55h-1.55zM231.95 472.47h1.55v1.55h-1.55zM234.12 456.3h1.55v1.55h-1.55zM239.43 455.21h1.55v1.55h-1.55zM240.87 451.21h1.55v1.55h-1.55zM230.47 455.16h1.55v1.55h-1.55zM239.6 464.54h1.55v1.55h-1.55zM233.13 454.88h1.55v1.55h-1.55zM241.22 452.4h1.55v1.55h-1.55zM240.44 449.29h1.55v1.55h-1.55zM242.17 467.96h1.55v1.55h-1.55zM229.75 450.93h1.55v1.55h-1.55zM232.75 451.64h1.55v1.55h-1.55zM235.31 453.62h1.55v1.55h-1.55zM233.37 461.57h1.55v1.55h-1.55zM239.19 446.43h1.55v1.55h-1.55zM230.65 467.41h1.55v1.55h-1.55zM230.01 464.02h1.55v1.55h-1.55zM240.38 465.84h1.55v1.55h-1.55zM239.73 463.11h1.55v1.55h-1.55zM227.88 454.91h1.55v1.55h-1.55zM236.26 458.77h1.55v1.55h-1.55zM228.9 470.98h1.55v1.55h-1.55zM234.69 470.4h1.55v1.55h-1.55zM230.86 450.92h1.55v1.55h-1.55zM228.71 453.37h1.55v1.55h-1.55zM230.47 449.24h1.55v1.55h-1.55zM239.24 448.12h1.55v1.55h-1.55zM238.22 448.17h1.55v1.55h-1.55zM229.54 466.88h1.55v1.55h-1.55zM241.08 456.92h1.55v1.55h-1.55zM243.43 462.55h1.55v1.55h-1.55zM238.28 462.13h1.55v1.55h-1.55zM230.07 466.91h1.55v1.55h-1.55zM230.97 469.03h1.55v1.55h-1.55zM235.3 459.6h1.55v1.55h-1.55zM230.52 462.25h1.55v1.55h-1.55zM234.56 452.79h1.55v1.55h-1.55zM233.72 461.24h1.55v1.55h-1.55zM242.06 452.23h1.55v1.55h-1.55zM237.92 470.92h1.55v1.55h-1.55zM241.92 447.51h1.55v1.55h-1.55zM234.33 463.76h1.55v1.55h-1.55zM242.8 461.6h1.55v1.55h-1.55zM229.82 469.1h1.55v1.55h-1.55zM241.71 454.95h1.55v1.55h-1.55zM229.9 464.48h1.55v1.55h-1.55zM231.39 451h1.55v1.55h-1.55zM234.91 458.35h1.55v1.55h-1.55zM228.2 458.89h1.55v1.55h-1.55zM225.92 468.2h1.55v1.55h-1.55zM232.78 455.12h1.55v1.55h-1.55zM238.88 452.29h1.55v1.55h-1.55zM240.4 452.3h1.55v1.55h-1.55zM239.93 446h1.55v1.55h-1.55zM227.55 462.32h1.55v1.55h-1.55zM238.65 470.25h1.55v1.55h-1.55zM235.05 464.7h1.55v1.55h-1.55zM237.1 458.97h1.55v1.55h-1.55zM229.3 452.5h1.55v1.55h-1.55zM233.39 460.32h1.55v1.55h-1.55zM240.73 447.69h1.55v1.55h-1.55zM227 457.09h1.55v1.55h-1.55zM235.04 460.45h1.55v1.55h-1.55zM234.35 459.79h1.55v1.55h-1.55zM238.69 457h1.55v1.55h-1.55zM236.1 460.84h1.55v1.55h-1.55zM233.8 446.69h1.55v1.55h-1.55zM226.19 459.71h1.55v1.55h-1.55zM232.02 469.59h1.55v1.55h-1.55zM231.57 456.95h1.55v1.55h-1.55zM241.64 447h1.55v1.55h-1.55zM241.21 467.34h1.55v1.55h-1.55zM239.44 458.64h1.55v1.55h-1.55zM239.84 468.4h1.55v1.55h-1.55zM237.66 463.39h1.55v1.55h-1.55zM228.15 455.03h1.55v1.55h-1.55zM238.12 471.1h1.55v1.55h-1.55zM233.7 450.09h1.55v1.55h-1.55zM238.87 459.33h1.55v1.55h-1.55zM237.3 447.3h1.55v1.55h-1.55zM233.85 460.63h1.55v1.55h-1.55zM241.13 451.73h1.55v1.55h-1.55zM236.14 453.63h1.55v1.55h-1.55zM226.28 458.92h1.55v1.55h-1.55zM237.95 466.31h1.55v1.55h-1.55zM233.55 472.24h1.55v1.55h-1.55zM234.67 461.03h1.55v1.55h-1.55zM233.96 470.77h1.55v1.55h-1.55zM242.97 469.55h1.55v1.55h-1.55zM237.15 463.32h1.55v1.55h-1.55zM236.89 458.75h1.55v1.55h-1.55zM232.73 472.6h1.55v1.55h-1.55zM226.51 460.88h1.55v1.55h-1.55zM232.98 454.22h1.55v1.55h-1.55zM237.37 454.32h1.55v1.55h-1.55zM229.21 467.58h1.55v1.55h-1.55zM229.94 458.21h1.55v1.55h-1.55zM230.25 455.13h1.55v1.55h-1.55zM227.22 456.87h1.55v1.55h-1.55zM240.02 447.32h1.55v1.55h-1.55zM235.01 454.25h1.55v1.55h-1.55zM244.78 466.01h1.55v1.55h-1.55zM230.51 462.49h1.55v1.55h-1.55zM231.15 458.62h1.55v1.55h-1.55zM227.77 454.03h1.55v1.55h-1.55zM241.36 449.83h1.55v1.55h-1.55zM236.41 463.01h1.55v1.55h-1.55zM237.29 468.58h1.55v1.55h-1.55zM236.73 449.42h1.55v1.55h-1.55zM234.47 453.79h1.55v1.55h-1.55zM238.24 452.37h1.55v1.55h-1.55zM233.47 466.12h1.55v1.55h-1.55zM239.62 451.25h1.55v1.55h-1.55zM238.74 444.4h1.55v1.55h-1.55zM240.63 460.07h1.55v1.55h-1.55zM239.09 458.53h1.55v1.55h-1.55zM230.63 469.45h1.55v1.55h-1.55zM232.62 466.8h1.55v1.55h-1.55zM240.84 463.08h1.55v1.55h-1.55zM237.33 458.52h1.55v1.55h-1.55zM241.53 447.9h1.55v1.55h-1.55zM235.69 447.85h1.55v1.55h-1.55zM235.58 464.43h1.55v1.55h-1.55zM235.25 470.9h1.55v1.55h-1.55zM243.09 451.4h1.55v1.55h-1.55zM237.1 473.12h1.55v1.55h-1.55zM239.71 469.02h1.55v1.55h-1.55zM237.91 445.37h1.55v1.55h-1.55zM237.37 456.97h1.55v1.55h-1.55zM231.62 462.73h1.55v1.55h-1.55zM239.46 449.19h1.55v1.55h-1.55zM232.02 471.05h1.55v1.55h-1.55zM233.11 469.29h1.55v1.55h-1.55zM234.93 447.2h1.55v1.55h-1.55zM233.26 464.58h1.55v1.55h-1.55zM237.56 448.64h1.55v1.55h-1.55zM229.62 455.24h1.55v1.55h-1.55zM239.76 455.34h1.55v1.55h-1.55zM231.93 467.58h1.55v1.55h-1.55zM235.56 457.09h1.55v1.55h-1.55zM221.11 463.55h1.55v1.55h-1.55zM241.7 455.93h1.55v1.55h-1.55zM243.72 459.88h1.55v1.55h-1.55zM235.09 449.6h1.55v1.55h-1.55zM236.5 443.7h1.55v1.55h-1.55zM234.21 458.67h1.55v1.55h-1.55zM233.57 459.84h1.55v1.55h-1.55zM234.75 454.64h1.55v1.55h-1.55zM227.92 464.67h1.55v1.55h-1.55zM228.43 466.73h1.55v1.55h-1.55zM240.66 457.66h1.55v1.55h-1.55zM230.15 454.59h1.55v1.55h-1.55zM242.93 461.8h1.55v1.55h-1.55zM230.67 451.35h1.55v1.55h-1.55zM241.65 467.68h1.55v1.55h-1.55zM232.9 449.33h1.55v1.55h-1.55zM233.41 448.09h1.55v1.55h-1.55zM229.54 466.8h1.55v1.55h-1.55zM228.94 452.3h1.55v1.55h-1.55zM233.94 456.48h1.55v1.55h-1.55zM234.54 459.7h1.55v1.55h-1.55zM228.95 469.12h1.55v1.55h-1.55zM233.76 451.76h1.55v1.55h-1.55zM230.7 454.1h1.55v1.55h-1.55zM237.71 463.67h1.55v1.55h-1.55zM245.01 449.35h1.55v1.55h-1.55zM242.3 452.74h1.55v1.55h-1.55zM233.12 448.52h1.55v1.55h-1.55zM243.61 454.81h1.55v1.55h-1.55zM230.15 460h1.55v1.55h-1.55zM230.37 457.55h1.55v1.55h-1.55zM224.59 458.56h1.55v1.55h-1.55zM229.02 456.26h1.55v1.55h-1.55zM226.21 459.74h1.55v1.55h-1.55zM236.06 473.18h1.55v1.55h-1.55zM235.5 464.08h1.55v1.55h-1.55zM241.56 454.39h1.55v1.55h-1.55zM232.49 461.81h1.55v1.55h-1.55zM232 461.36h1.55v1.55h-1.55zM236.13 463.73h1.55v1.55h-1.55zM241.46 465.03h1.55v1.55h-1.55zM224.27 463.73h1.55v1.55h-1.55zM226.41 463.08h1.55v1.55h-1.55zM238.09 451.62h1.55v1.55h-1.55zM233.25 455.21h1.55v1.55h-1.55zM238.41 455.63h1.55v1.55h-1.55zM232.36 453.05h1.55v1.55h-1.55zM226.36 456.73h1.55v1.55h-1.55zM238.62 452.05h1.55v1.55h-1.55zM228 457.54h1.55v1.55h-1.55zM233.95 447.26h1.55v1.55h-1.55zM237.92 446.44h1.55v1.55h-1.55zM232.94 457.68h1.55v1.55h-1.55zM238.62 453.83h1.55v1.55h-1.55zM237.37 451.37h1.55v1.55h-1.55zM235.98 450.87h1.55v1.55h-1.55zM242.28 453.37h1.55v1.55h-1.55zM229.34 464.79h1.55v1.55h-1.55zM230.78 458.44h1.55v1.55h-1.55zM237.53 461.35h1.55v1.55h-1.55zM239.63 463.03h1.55v1.55h-1.55zM240.99 465.03h1.55v1.55h-1.55zM232.48 465.7h1.55v1.55h-1.55zM233.07 452.66h1.55v1.55h-1.55zM242.35 461.22h1.55v1.55h-1.55zM242.98 455.02h1.55v1.55h-1.55zM235.15 457.64h1.55v1.55h-1.55zM226.7 466.7h1.55v1.55h-1.55zM228.78 467.31h1.55v1.55h-1.55zM233.63 449.31h1.55v1.55h-1.55zM236.82 466.45h1.55v1.55h-1.55zM230.22 447.37h1.55v1.55h-1.55zM231.68 461.57h1.55v1.55h-1.55zM237.88 468.16h1.55v1.55h-1.55zM231.27 473.57h1.55v1.55h-1.55zM227.86 454.79h1.55v1.55h-1.55zM227.99 463.61h1.55v1.55h-1.55zM232.5 463.26h1.55v1.55h-1.55zM242.61 451.82h1.55v1.55h-1.55zM235.26 451.76h1.55v1.55h-1.55zM243.16 463.84h1.55v1.55h-1.55zM236.31 452.36h1.55v1.55h-1.55zM230.99 455.07h1.55v1.55h-1.55zM242.39 448.91h1.55v1.55h-1.55zM232.35 460.49h1.55v1.55h-1.55zM225.68 453.82h1.55v1.55h-1.55zM236.08 472.53h1.55v1.55h-1.55zM225.06 465.95h1.55v1.55h-1.55zM244.03 456.67h1.55v1.55h-1.55zM243.25 462.47h1.55v1.55h-1.55zM235.97 448.44h1.55v1.55h-1.55zM235.08 451.1h1.55v1.55h-1.55zM237.97 451.35h1.55v1.55h-1.55zM238.28 447.33h1.55v1.55h-1.55zM231.87 455.55h1.55v1.55h-1.55zM230.68 461.43h1.55v1.55h-1.55zM241.62 457.45h1.55v1.55h-1.55zM229.1 470.96h1.55v1.55h-1.55zM230.34 469.59h1.55v1.55h-1.55zM238.47 459.78h1.55v1.55h-1.55zM242.96 460.79h1.55v1.55h-1.55zM230.52 466.19h1.55v1.55h-1.55zM238.65 446.05h1.55v1.55h-1.55zM241.15 467.2h1.55v1.55h-1.55zM243.38 460.28h1.55v1.55h-1.55zM238.31 448.57h1.55v1.55h-1.55zM238.97 446.13h1.55v1.55h-1.55zM243.29 463.87h1.55v1.55h-1.55zM230.36 448.39h1.55v1.55h-1.55zM230.6 469.13h1.55v1.55h-1.55zM239.13 466.85h1.55v1.55h-1.55zM244.73 454.72h1.55v1.55h-1.55zM232.32 465.04h1.55v1.55h-1.55zM232.18 453.53h1.55v1.55h-1.55zM232.74 470.71h1.55v1.55h-1.55zM236.59 468.21h1.55v1.55h-1.55zM239.03 451.71h1.55v1.55h-1.55zM227.85 459.11h1.55v1.55h-1.55zM236.14 468.39h1.55v1.55h-1.55zM240.73 459.44h1.55v1.55h-1.55zM229.88 454.63h1.55v1.55h-1.55zM243.49 464.55h1.55v1.55h-1.55zM235.68 448.79h1.55v1.55h-1.55zM230.01 470.99h1.55v1.55h-1.55zM243.45 467.68h1.55v1.55h-1.55zM240.97 454.32h1.55v1.55h-1.55zM229.67 468.67h1.55v1.55h-1.55zM240.54 467.28h1.55v1.55h-1.55zM241.34 447.51h1.55v1.55h-1.55zM231.49 460.84h1.55v1.55h-1.55zM241.26 450.11h1.55v1.55h-1.55zM233.91 448.92h1.55v1.55h-1.55zM231.83 461.57h1.55v1.55h-1.55zM241.3 453.68h1.55v1.55h-1.55zM238.09 451.52h1.55v1.55h-1.55zM232.57 461.41h1.55v1.55h-1.55zM237.97 463.24h1.55v1.55h-1.55zM236.2 464.48h1.55v1.55h-1.55zM231.4 468.63h1.55v1.55h-1.55zM232.73 450.98h1.55v1.55h-1.55zM230.45 461.26h1.55v1.55h-1.55zM239.15 452.75h1.55v1.55h-1.55zM225.59 462.46h1.55v1.55h-1.55zM233.26 469.89h1.55v1.55h-1.55zM228.42 465.55h1.55v1.55h-1.55zM244.14 452.9h1.55v1.55h-1.55zM234.4 468.87h1.55v1.55h-1.55zM232.64 459.76h1.55v1.55h-1.55zM241.85 453.88h1.55v1.55h-1.55zM237.19 453.16h1.55v1.55h-1.55zM243.26 459.81h1.55v1.55h-1.55zM236.01 466.93h1.55v1.55h-1.55zM233.4 467.56h1.55v1.55h-1.55zM233.27 447.16h1.55v1.55h-1.55zM228.15 464.75h1.55v1.55h-1.55zM230.14 454.11h1.55v1.55h-1.55zM235.51 451.8h1.55v1.55h-1.55zM238.51 452.95h1.55v1.55h-1.55zM234.38 455.36h1.55v1.55h-1.55zM237.57 454.59h1.55v1.55h-1.55zM228.65 471.64h1.55v1.55h-1.55zM223.35 461.04h1.55v1.55h-1.55zM239.97 467.16h1.55v1.55h-1.55zM230.53 454.77h1.55v1.55h-1.55zM235 449.95h1.55v1.55h-1.55zM237.65 447.95h1.55v1.55h-1.55zM242.75 459.63h1.55v1.55h-1.55zM228.33 450.69h1.55v1.55h-1.55zM245.46 463.44h1.55v1.55h-1.55zM224.73 463.67h1.55v1.55h-1.55zM243.61 458.45h1.55v1.55h-1.55zM241.82 457.46h1.55v1.55h-1.55zM230.7 466.64h1.55v1.55h-1.55zM234.94 448.96h1.55v1.55h-1.55zM235.07 462.4h1.55v1.55h-1.55zM244.72 463.96h1.55v1.55h-1.55zM230.5 450.14h1.55v1.55h-1.55zM243.97 460.58h1.55v1.55h-1.55zM244.64 468.56h1.55v1.55h-1.55zM227.88 456.9h1.55v1.55h-1.55zM236.09 452.7h1.55v1.55h-1.55zM240.22 464.66h1.55v1.55h-1.55zM236.99 467.11h1.55v1.55h-1.55zM234.6 456.93h1.55v1.55h-1.55zM233.95 448.72h1.55v1.55h-1.55zM241.67 462.67h1.55v1.55h-1.55zM241.61 467.98h1.55v1.55h-1.55zM244.15 458.15h1.55v1.55h-1.55zM238.9 461h1.55v1.55h-1.55zM240.84 470.42h1.55v1.55h-1.55zM230.26 461.4h1.55v1.55h-1.55zM234.42 448.51h1.55v1.55h-1.55zM244.13 455.69h1.55v1.55h-1.55zM225.41 488.96h1.55v1.55h-1.55zM221.24 471.73h1.55v1.55h-1.55zM226.37 489.24h1.55v1.55h-1.55zM227.27 472.45h1.55v1.55h-1.55zM218.68 469.04h1.55v1.55h-1.55zM215.63 472.09h1.55v1.55h-1.55zM239.23 498.02h1.55v1.55h-1.55zM225.59 495.36h1.55v1.55h-1.55zM225.36 483.54h1.55v1.55h-1.55zM208.98 474.45h1.55v1.55h-1.55zM219.31 461.11h1.55v1.55h-1.55zM252.48 504.96h1.55v1.55h-1.55zM217.38 471.12h1.55v1.55h-1.55zM215.25 477.39h1.55v1.55h-1.55zM223.79 488.98h1.55v1.55h-1.55zM241.75 493.9h1.55v1.55h-1.55zM247.33 469.9h1.55v1.55h-1.55zM240.22 500.65h1.55v1.55h-1.55zM224.84 472.94h1.55v1.55h-1.55zM239.27 473.87h1.55v1.55h-1.55zM231.71 495.92h1.55v1.55h-1.55zM242.83 470.43h1.55v1.55h-1.55zM225.45 474.52h1.55v1.55h-1.55zM244.28 480.12h1.55v1.55h-1.55zM235.88 473.35h1.55v1.55h-1.55zM239.51 469.31h1.55v1.55h-1.55zM240.78 480.22h1.55v1.55h-1.55zM234.24 479.46h1.55v1.55h-1.55zM238.79 491.39h1.55v1.55h-1.55zM216.04 478.68h1.55v1.55h-1.55zM222.68 467.55h1.55v1.55h-1.55zM234.52 466.3h1.55v1.55h-1.55zM229.08 479.02h1.55v1.55h-1.55zM239.59 502.58h1.55v1.55h-1.55zM233.36 503.82h1.55v1.55h-1.55zM224.72 477.17h1.55v1.55h-1.55zM237.02 474.36h1.55v1.55h-1.55zM238.09 473.03h1.55v1.55h-1.55zM230.91 474.22h1.55v1.55h-1.55zM232.42 499.01h1.55v1.55h-1.55zM233.78 472.21h1.55v1.55h-1.55zM244.72 467.23h1.55v1.55h-1.55zM217.57 489.15h1.55v1.55h-1.55zM243.3 467.79h1.55v1.55h-1.55zM219.35 473.1h1.55v1.55h-1.55zM229.23 469.27h1.55v1.55h-1.55zM219.97 478.07h1.55v1.55h-1.55zM229.2 493.78h1.55v1.55h-1.55zM236.49 470.78h1.55v1.55h-1.55zM245.14 477.33h1.55v1.55h-1.55zM212.87 480.34h1.55v1.55h-1.55zM226.23 482.54h1.55v1.55h-1.55zM247.71 499.16h1.55v1.55h-1.55zM247.46 486.62h1.55v1.55h-1.55zM213.54 469.25h1.55v1.55h-1.55zM228.87 491.45h1.55v1.55h-1.55zM250.35 482.22h1.55v1.55h-1.55zM236.95 477.31h1.55v1.55h-1.55zM218.75 478.97h1.55v1.55h-1.55zM233.7 469.3h1.55v1.55h-1.55zM226.71 464.46h1.55v1.55h-1.55zM243.19 487.99h1.55v1.55h-1.55zM238.08 468.66h1.55v1.55h-1.55zM217.78 491.08h1.55v1.55h-1.55zM246.63 475.9h1.55v1.55h-1.55zM225.24 467.49h1.55v1.55h-1.55zM250.65 494.6h1.55v1.55h-1.55zM239.35 459.91h1.55v1.55h-1.55zM239.95 495.44h1.55v1.55h-1.55zM241.13 498.69h1.55v1.55h-1.55zM245.78 494.53h1.55v1.55h-1.55zM242.32 479.9h1.55v1.55h-1.55zM249.87 495.67h1.55v1.55h-1.55zM236.89 500.41h1.55v1.55h-1.55zM251.22 490.14h1.55v1.55h-1.55zM245.56 470.44h1.55v1.55h-1.55zM215.31 470.75h1.55v1.55h-1.55zM235.38 488.62h1.55v1.55h-1.55zM229.78 480.39h1.55v1.55h-1.55zM222.68 465.07h1.55v1.55h-1.55zM243.56 499.39h1.55v1.55h-1.55zM250.52 479.87h1.55v1.55h-1.55zM225.41 502.12h1.55v1.55h-1.55zM244.05 498.78h1.55v1.55h-1.55zM245.08 502.73h1.55v1.55h-1.55zM240.37 488.26h1.55v1.55h-1.55zM226.17 492.58h1.55v1.55h-1.55zM228.98 474.24h1.55v1.55h-1.55zM242.82 483.55h1.55v1.55h-1.55zM244.94 483.68h1.55v1.55h-1.55zM216.9 478.92h1.55v1.55h-1.55zM237.44 509.12h1.55v1.55h-1.55zM224.57 499.01h1.55v1.55h-1.55zM233.79 485.97h1.55v1.55h-1.55zM241.7 464.38h1.55v1.55h-1.55zM240.89 497.08h1.55v1.55h-1.55zM226.63 487.85h1.55v1.55h-1.55zM220.59 487.11h1.55v1.55h-1.55zM225.72 483.4h1.55v1.55h-1.55zM225.8 467.47h1.55v1.55h-1.55zM239.59 474.4h1.55v1.55h-1.55zM247.45 487.56h1.55v1.55h-1.55zM239.09 490.35h1.55v1.55h-1.55zM221.32 473.95h1.55v1.55h-1.55zM239.18 461.05h1.55v1.55h-1.55zM242.35 484.18h1.55v1.55h-1.55zM237.45 473.24h1.55v1.55h-1.55zM223.26 470.65h1.55v1.55h-1.55zM234.64 487.41h1.55v1.55h-1.55zM244.76 493.62h1.55v1.55h-1.55zM221.46 477.73h1.55v1.55h-1.55zM247.1 472.34h1.55v1.55h-1.55zM231.53 495.42h1.55v1.55h-1.55zM246.77 478.7h1.55v1.55h-1.55zM212.41 467.04h1.55v1.55h-1.55zM216.89 460.89h1.55v1.55h-1.55zM241.44 465.46h1.55v1.55h-1.55zM221.39 461.35h1.55v1.55h-1.55zM235.7 472.62h1.55v1.55h-1.55zM224.71 468.08h1.55v1.55h-1.55zM237.2 502.29h1.55v1.55h-1.55zM238.6 501.73h1.55v1.55h-1.55zM228.55 500.65h1.55v1.55h-1.55zM223.05 483.7h1.55v1.55h-1.55zM224.12 467.63h1.55v1.55h-1.55zM237.05 484.88h1.55v1.55h-1.55zM246.71 508.36h1.55v1.55h-1.55zM230.03 484.16h1.55v1.55h-1.55zM232.02 462.18h1.55v1.55h-1.55zM219.36 477.84h1.55v1.55h-1.55zM236.62 489.95h1.55v1.55h-1.55zM210.96 465.21h1.55v1.55h-1.55zM208.06 477.45h1.55v1.55h-1.55zM231.88 481.84h1.55v1.55h-1.55zM242.18 507.8h1.55v1.55h-1.55zM237.26 488.81h1.55v1.55h-1.55zM218.11 484.62h1.55v1.55h-1.55zM215.06 463.45h1.55v1.55h-1.55zM247.89 483.12h1.55v1.55h-1.55zM247.55 480.22h1.55v1.55h-1.55zM227.85 469.9h1.55v1.55h-1.55zM228.39 482.77h1.55v1.55h-1.55zM227.77 491.23h1.55v1.55h-1.55zM229.68 470.79h1.55v1.55h-1.55zM241.19 500.94h1.55v1.55h-1.55zM225.35 489.32h1.55v1.55h-1.55zM218.99 481.31h1.55v1.55h-1.55zM222.92 461.32h1.55v1.55h-1.55zM241.46 506.9h1.55v1.55h-1.55zM211.04 473h1.55v1.55h-1.55zM236.44 473.41h1.55v1.55h-1.55zM234.51 497.46h1.55v1.55h-1.55zM242.54 480.76h1.55v1.55h-1.55zM215.23 468.76h1.55v1.55h-1.55zM228.87 485.66h1.55v1.55h-1.55zM228.52 483.01h1.55v1.55h-1.55zM226.36 462.99h1.55v1.55h-1.55zM226.76 489.58h1.55v1.55h-1.55zM229.77 498.04h1.55v1.55h-1.55zM245.43 463.24h1.55v1.55h-1.55zM222.83 465.02h1.55v1.55h-1.55zM231.63 493.03h1.55v1.55h-1.55zM242.07 504.93h1.55v1.55h-1.55zM242.4 504.05h1.55v1.55h-1.55zM226.64 482.15h1.55v1.55h-1.55zM223.86 485.74h1.55v1.55h-1.55zM247.33 481.16h1.55v1.55h-1.55zM227.74 485.37h1.55v1.55h-1.55zM224.05 482.94h1.55v1.55h-1.55zM223.99 485.86h1.55v1.55h-1.55zM233.42 495.52h1.55v1.55h-1.55zM225.21 494.42h1.55v1.55h-1.55zM239.74 499.25h1.55v1.55h-1.55zM245.8 491.2h1.55v1.55h-1.55zM247.77 480.22h1.55v1.55h-1.55zM217.52 493.93h1.55v1.55h-1.55zM240.22 466.43h1.55v1.55h-1.55zM227.36 492.34h1.55v1.55h-1.55zM244.47 508.53h1.55v1.55h-1.55zM213.26 472.06h1.55v1.55h-1.55zM233.76 494.02h1.55v1.55h-1.55zM254.62 489.46h1.55v1.55h-1.55zM243.32 467.64h1.55v1.55h-1.55zM236.38 500.67h1.55v1.55h-1.55zM226.12 494.86h1.55v1.55h-1.55zM232.18 462.15h1.55v1.55h-1.55zM237.52 482.15h1.55v1.55h-1.55zM230.23 470.75h1.55v1.55h-1.55zM216.36 458.37h1.55v1.55h-1.55zM239.15 496.28h1.55v1.55h-1.55zM232.78 486.55h1.55v1.55h-1.55zM226.88 499.89h1.55v1.55h-1.55zM217.97 480.04h1.55v1.55h-1.55zM230.78 477.07h1.55v1.55h-1.55zM218.33 489.13h1.55v1.55h-1.55zM230.75 493.69h1.55v1.55h-1.55zM216.34 485h1.55v1.55h-1.55zM234.85 488.38h1.55v1.55h-1.55zM228.66 485.6h1.55v1.55h-1.55zM227.38 480.96h1.55v1.55h-1.55zM204.42 480.43h1.55v1.55h-1.55zM204.42 494.23h1.55v1.55h-1.55zM212.22 508.62h1.55v1.55h-1.55zM213.42 518.23h1.55v1.55h-1.55zM211.03 523.62h1.55v1.55h-1.55zM219.42 517.02h1.55v1.55h-1.55zM226.62 517.02h1.55v1.55h-1.55zM229.03 520.62h1.55v1.55h-1.55zM205.62 487.62h1.55v1.55h-1.55z"/>
<path fill="#d95319" d="M262.97 539.06h1.55v1.55h-1.55zM275.88 554.43h1.55v1.55h-1.55zM266.53 558.53h1.55v1.55h-1.55zM272.95 546.61h1.55v1.55h-1.55zM262.16 533.81h1.55v1.55h-1.55zM267.27 553.03h1.55v1.55h-1.55zM261.07 523.9h1.55v1.55h-1.55zM269.79 532.17h1.55v1.55h-1.55zM259.6 552.31h1.55v1.55h-1.55zM265.33 535.27h1.55v1.55h-1.55zM257.36 511.57h1.55v1.55h-1.55zM271.14 546.26h1.55v1.55h-1.55zM272.27 559.35h1.55v1.55h-1.55zM262.02 543.14h1.55v1.55h-1.55zM255.31 532.56h1.55v1.55h-1.55zM254.76 525.07h1.55v1.55h-1.55zM263.82 543.73h1.55v1.55h-1.55zM268.72 551h1.55v1.55h-1.55zM261.82 539.83h1.55v1.55h-1.55zM257.84 517.82h1.55v1.55h-1.55zM258.6 522.63h1.55v1.55h-1.55zM266.5 560.28h1.55v1.55h-1.55zM268.43 550.17h1.55v1.55h-1.55zM268.31 553.1h1.55v1.55h-1.55zM271.26 557.17h1.55v1.55h-1.55zM251.38 527.49h1.55v1.55h-1.55zM263.36 546.75h1.55v1.55h-1.55zM271.28 557.73h1.55v1.55h-1.55zM266.85 526.1h1.55v1.55h-1.55zM258.51 543.07h1.55v1.55h-1.55zM272.73 537.88h1.55v1.55h-1.55zM262.3 519.07h1.55v1.55h-1.55zM265.15 528.24h1.55v1.55h-1.55zM257.46 513.98h1.55v1.55h-1.55zM267.12 539.6h1.55v1.55h-1.55zM258.7 516.69h1.55v1.55h-1.55zM254.62 531.65h1.55v1.55h-1.55zM273.21 536.54h1.55v1.55h-1.55zM262.02 524.59h1.55v1.55h-1.55zM273.02 561.54h1.55v1.55h-1.55zM270.07 549.99h1.55v1.55h-1.55zM273.91 558.59h1.55v1.55h-1.55zM268.94 541.64h1.55v1.55h-1.55zM270.94 552.47h1.55v1.55h-1.55zM260.65 550.29h1.55v1.55h-1.55zM266.97 546.34h1.55v1.55h-1.55zM255.59 530.92h1.55v1.55h-1.55zM259.13 513.64h1.55v1.55h-1.55zM253.53 507.36h1.55v1.55h-1.55zM266.46 546.31h1.55v1.55h-1.55zM250.87 515.85h1.55v1.55h-1.55zM267.66 531.4h1.55v1.55h-1.55zM267.28 548.97h1.55v1.55h-1.55zM268.9 543.77h1.55v1.55h-1.55zM252.03 532.63h1.55v1.55h-1.55zM257.56 533.24h1.55v1.55h-1.55zM258.43 516.8h1.55v1.55h-1.55zM255.99 506.59h1.55v1.55h-1.55zM256.55 506.03h1.55v1.55h-1.55zM259.02 535.72h1.55v1.55h-1.55zM262.04 520.88h1.55v1.55h-1.55zM268.17 549.56h1.55v1.55h-1.55zM268.16 553h1.55v1.55h-1.55zM252.91 533.42h1.55v1.55h-1.55zM261.52 534.32h1.55v1.55h-1.55zM274.64 546.56h1.55v1.55h-1.55zM270.86 550.49h1.55v1.55h-1.55zM255.99 537.8h1.55v1.55h-1.55zM266.36 536.77h1.55v1.55h-1.55zM251.91 522.4h1.55v1.55h-1.55zM253.19 522.18h1.55v1.55h-1.55zM270.88 557.77h1.55v1.55h-1.55zM267.97 542.02h1.55v1.55h-1.55zM267.74 531.44h1.55v1.55h-1.55zM270.17 554.48h1.55v1.55h-1.55zM264.34 553.77h1.55v1.55h-1.55zM268.7 531.36h1.55v1.55h-1.55zM263.09 524.4h1.55v1.55h-1.55zM268.35 538.03h1.55v1.55h-1.55zM263.57 521.99h1.55v1.55h-1.55zM265.74 524.91h1.55v1.55h-1.55zM270.22 556.95h1.55v1.55h-1.55zM263.63 538.27h1.55v1.55h-1.55zM252.17 514.92h1.55v1.55h-1.55zM263.38 538.06h1.55v1.55h-1.55zM262.26 523.54h1.55v1.55h-1.55zM264.57 554.84h1.55v1.55h-1.55zM269.23 548.29h1.55v1.55h-1.55zM254.44 505.58h1.55v1.55h-1.55zM258.63 529.14h1.55v1.55h-1.55zM268.49 545.29h1.55v1.55h-1.55zM265.29 545.32h1.55v1.55h-1.55zM261.45 512.96h1.55v1.55h-1.55zM264.92 534.15h1.55v1.55h-1.55zM257.23 512.03h1.55v1.55h-1.55zM264.21 535.28h1.55v1.55h-1.55zM265.21 547.26h1.55v1.55h-1.55zM263.24 551.56h1.55v1.55h-1.55zM250.44 530.26h1.55v1.55h-1.55zM264.41 543.97h1.55v1.55h-1.55zM259.94 529.38h1.55v1.55h-1.55zM263.48 538.04h1.55v1.55h-1.55zM247.42 524.41h1.55v1.55h-1.55zM274.29 561.65h1.55v1.55h-1.55zM262.77 534.94h1.55v1.55h-1.55zM255.32 516.54h1.55v1.55h-1.55zM264.4 554.78h1.55v1.55h-1.55zM262.19 516.67h1.55v1.55h-1.55zM266.29 539.67h1.55v1.55h-1.55zM272.2 544.52h1.55v1.55h-1.55zM261.33 520.42h1.55v1.55h-1.55zM262.99 550.25h1.55v1.55h-1.55zM259.79 542.62h1.55v1.55h-1.55zM254.54 520.82h1.55v1.55h-1.55zM249.52 517.33h1.55v1.55h-1.55zM264.11 543.77h1.55v1.55h-1.55zM267.97 560.6h1.55v1.55h-1.55zM273.33 557.03h1.55v1.55h-1.55zM267.12 551.34h1.55v1.55h-1.55zM258.92 510.99h1.55v1.55h-1.55zM266.76 543.3h1.55v1.55h-1.55zM265.15 550.38h1.55v1.55h-1.55zM249.08 528.81h1.55v1.55h-1.55zM259.27 513.78h1.55v1.55h-1.55zM255.92 511.42h1.55v1.55h-1.55zM248.59 515.07h1.55v1.55h-1.55zM261.57 517.06h1.55v1.55h-1.55zM264.44 556.79h1.55v1.55h-1.55zM269.14 540.39h1.55v1.55h-1.55zM275.79 554.28h1.55v1.55h-1.55zM268.58 538.23h1.55v1.55h-1.55zM269.84 536.51h1.55v1.55h-1.55zM252.24 515.19h1.55v1.55h-1.55zM268.54 541.6h1.55v1.55h-1.55zM269.93 533.58h1.55v1.55h-1.55zM255.22 533.31h1.55v1.55h-1.55zM274.11 559.6h1.55v1.55h-1.55zM261.02 515.98h1.55v1.55h-1.55zM261.56 550.06h1.55v1.55h-1.55zM263.67 546.11h1.55v1.55h-1.55zM268.15 547.59h1.55v1.55h-1.55zM257.71 539.02h1.55v1.55h-1.55zM253.07 510.81h1.55v1.55h-1.55zM275.11 555.2h1.55v1.55h-1.55zM261.89 528.55h1.55v1.55h-1.55zM258.15 545.14h1.55v1.55h-1.55zM256.45 533.35h1.55v1.55h-1.55zM271.12 551.71h1.55v1.55h-1.55zM259.3 547.59h1.55v1.55h-1.55zM272.53 561.92h1.55v1.55h-1.55zM260.5 533.06h1.55v1.55h-1.55zM271.43 555.25h1.55v1.55h-1.55zM270.35 559.16h1.55v1.55h-1.55zM252.15 522.42h1.55v1.55h-1.55zM266.55 529.15h1.55v1.55h-1.55zM262.57 546.45h1.55v1.55h-1.55zM260.04 536.74h1.55v1.55h-1.55zM266.73 533.12h1.55v1.55h-1.55zM251.28 518.96h1.55v1.55h-1.55zM268.95 557.78h1.55v1.55h-1.55zM259.36 522.33h1.55v1.55h-1.55zM273.02 551.47h1.55v1.55h-1.55zM269.64 534.09h1.55v1.55h-1.55zM263.12 537.87h1.55v1.55h-1.55zM274.86 550.84h1.55v1.55h-1.55zM270 542.02h1.55v1.55h-1.55zM261.41 528.99h1.55v1.55h-1.55zM260.02 528.66h1.55v1.55h-1.55zM262.49 538.08h1.55v1.55h-1.55zM258.04 530.15h1.55v1.55h-1.55zM255.11 535.25h1.55v1.55h-1.55zM260.54 532.48h1.55v1.55h-1.55zM262.03 538.35h1.55v1.55h-1.55zM248.67 513.78h1.55v1.55h-1.55zM259.26 547h1.55v1.55h-1.55zM258.33 547.08h1.55v1.55h-1.55zM266.35 523.74h1.55v1.55h-1.55zM254.93 512.82h1.55v1.55h-1.55zM256.64 522.39h1.55v1.55h-1.55zM251.65 504.62h1.55v1.55h-1.55zM260.51 530.46h1.55v1.55h-1.55zM261.79 530.63h1.55v1.55h-1.55zM275.84 557.17h1.55v1.55h-1.55zM270.36 557.29h1.55v1.55h-1.55zM264.38 528.48h1.55v1.55h-1.55zM252.2 516.18h1.55v1.55h-1.55zM259.17 545.12h1.55v1.55h-1.55zM261.95 532.26h1.55v1.55h-1.55zM261.89 525.85h1.55v1.55h-1.55zM273.77 559.74h1.55v1.55h-1.55zM267.28 532.52h1.55v1.55h-1.55zM269.63 545.75h1.55v1.55h-1.55zM269.22 562.37h1.55v1.55h-1.55zM255.47 534.88h1.55v1.55h-1.55zM259.29 509.71h1.55v1.55h-1.55zM268.2 528.22h1.55v1.55h-1.55zM267.23 551.45h1.55v1.55h-1.55zM266.41 531.93h1.55v1.55h-1.55zM254.32 515.58h1.55v1.55h-1.55zM265.26 556.56h1.55v1.55h-1.55zM255.38 509.46h1.55v1.55h-1.55zM266.09 528.86h1.55v1.55h-1.55zM261 538h1.55v1.55h-1.55zM266.84 547.53h1.55v1.55h-1.55zM252.85 535.34h1.55v1.55h-1.55zM255.66 543.56h1.55v1.55h-1.55zM251.92 508.9h1.55v1.55h-1.55zM266.45 532.46h1.55v1.55h-1.55zM266.97 529.2h1.55v1.55h-1.55zM258.04 517.48h1.55v1.55h-1.55zM271.73 542.05h1.55v1.55h-1.55zM245.62 516.58h1.55v1.55h-1.55zM251.44 521.59h1.55v1.55h-1.55zM264.26 529.6h1.55v1.55h-1.55zM251.43 517.5h1.55v1.55h-1.55zM249.37 526.85h1.55v1.55h-1.55zM270.16 548.36h1.55v1.55h-1.55zM269.53 536.99h1.55v1.55h-1.55zM265.78 529.84h1.55v1.55h-1.55zM258.42 520.27h1.55v1.55h-1.55zM256.01 538.33h1.55v1.55h-1.55zM262.39 532.91h1.55v1.55h-1.55zM256.73 539.88h1.55v1.55h-1.55zM256.05 513.73h1.55v1.55h-1.55zM250.45 532.73h1.55v1.55h-1.55zM253.3 532.27h1.55v1.55h-1.55zM267.85 534.11h1.55v1.55h-1.55zM251.47 519.15h1.55v1.55h-1.55zM257.41 523.06h1.55v1.55h-1.55zM264.05 552.87h1.55v1.55h-1.55zM260.11 523.78h1.55v1.55h-1.55zM251.52 507.86h1.55v1.55h-1.55zM257.41 512.37h1.55v1.55h-1.55zM261.09 518.55h1.55v1.55h-1.55zM249.22 515.6h1.55v1.55h-1.55zM263.31 520.91h1.55v1.55h-1.55zM271.12 549.69h1.55v1.55h-1.55zM259.92 545.62h1.55v1.55h-1.55zM257.56 530.31h1.55v1.55h-1.55zM252.4 508.59h1.55v1.55h-1.55zM254.05 532.73h1.55v1.55h-1.55zM262.54 558.25h1.55v1.55h-1.55zM250.16 515.35h1.55v1.55h-1.55zM249.53 531.15h1.55v1.55h-1.55zM251.69 524.08h1.55v1.55h-1.55zM269.55 533.19h1.55v1.55h-1.55zM253.64 523.57h1.55v1.55h-1.55zM265.99 518.62h1.55v1.55h-1.55zM254.08 524.65h1.55v1.55h-1.55zM251.56 521.88h1.55v1.55h-1.55zM260.45 515.76h1.55v1.55h-1.55zM270.97 547.25h1.55v1.55h-1.55zM263.27 539.65h1.55v1.55h-1.55zM271.53 547.05h1.55v1.55h-1.55zM265.51 525.55h1.55v1.55h-1.55zM260.13 541.79h1.55v1.55h-1.55zM258.69 509.49h1.55v1.55h-1.55zM254.49 513.98h1.55v1.55h-1.55zM266.87 549.42h1.55v1.55h-1.55zM258.99 539.51h1.55v1.55h-1.55zM270.13 533.9h1.55v1.55h-1.55zM246.45 512.45h1.55v1.55h-1.55zM247.91 523.49h1.55v1.55h-1.55zM250.18 511.33h1.55v1.55h-1.55zM250.99 534.23h1.55v1.55h-1.55zM268.19 530.18h1.55v1.55h-1.55zM268.76 539.79h1.55v1.55h-1.55zM262.09 540.24h1.55v1.55h-1.55zM263.93 552.31h1.55v1.55h-1.55zM273.78 546.4h1.55v1.55h-1.55zM251.13 528.7h1.55v1.55h-1.55zM267.33 539.45h1.55v1.55h-1.55zM257.12 527.91h1.55v1.55h-1.55zM252.46 513.81h1.55v1.55h-1.55zM261.88 511.75h1.55v1.55h-1.55zM252.19 535.03h1.55v1.55h-1.55zM253.83 518.54h1.55v1.55h-1.55zM258.24 513.27h1.55v1.55h-1.55zM266.1 532.01h1.55v1.55h-1.55zM269.51 560.1h1.55v1.55h-1.55zM253.85 535.94h1.55v1.55h-1.55zM255.55 540.45h1.55v1.55h-1.55zM257.63 540.65h1.55v1.55h-1.55zM273.81 544.67h1.55v1.55h-1.55zM254.33 506.55h1.55v1.55h-1.55zM272.07 544.18h1.55v1.55h-1.55zM256.96 517.86h1.55v1.55h-1.55zM261.58 517.38h1.55v1.55h-1.55zM260.95 540.59h1.55v1.55h-1.55zM250.7 533h1.55v1.55h-1.55zM272.56 555.6h1.55v1.55h-1.55zM265.43 544.65h1.55v1.55h-1.55zM254.47 512.73h1.55v1.55h-1.55zM255.72 531.93h1.55v1.55h-1.55zM256.94 508.95h1.55v1.55h-1.55zM269.98 554.86h1.55v1.55h-1.55zM253.74 536.67h1.55v1.55h-1.55zM254.1 537h1.55v1.55h-1.55zM265.31 557.15h1.55v1.55h-1.55zM256.02 517.4h1.55v1.55h-1.55zM247.73 531.94h1.55v1.55h-1.55zM259.36 532.87h1.55v1.55h-1.55zM260.49 513.03h1.55v1.55h-1.55zM258.35 528.94h1.55v1.55h-1.55zM249.43 527.16h1.55v1.55h-1.55zM266.35 527.84h1.55v1.55h-1.55zM266.15 532.75h1.55v1.55h-1.55zM259.9 544.57h1.55v1.55h-1.55zM263.95 525.45h1.55v1.55h-1.55zM259.61 510.83h1.55v1.55h-1.55zM272.92 552.95h1.55v1.55h-1.55zM271.45 538.77h1.55v1.55h-1.55zM265.32 524.12h1.55v1.55h-1.55zM260.86 527.91h1.55v1.55h-1.55zM256.67 532.89h1.55v1.55h-1.55zM274.22 559.17h1.55v1.55h-1.55zM270.43 534.5h1.55v1.55h-1.55zM258.24 528.74h1.55v1.55h-1.55zM264.4 550.64h1.55v1.55h-1.55zM269.85 533.26h1.55v1.55h-1.55zM260.27 537.62h1.55v1.55h-1.55zM265.44 543.87h1.55v1.55h-1.55zM268.29 545.82h1.55v1.55h-1.55zM257.24 504.88h1.55v1.55h-1.55zM251.46 512.06h1.55v1.55h-1.55zM272.71 545.65h1.55v1.55h-1.55zM258.46 519.16h1.55v1.55h-1.55zM268.47 544.66h1.55v1.55h-1.55zM246.84 517.17h1.55v1.55h-1.55zM273.8 557.2h1.55v1.55h-1.55zM261.31 544.07h1.55v1.55h-1.55zM256.31 508.37h1.55v1.55h-1.55zM270.5 539.57h1.55v1.55h-1.55zM267.46 554.76h1.55v1.55h-1.55zM259.92 523.38h1.55v1.55h-1.55zM260.94 519.7h1.55v1.55h-1.55zM263.15 552.85h1.55v1.55h-1.55zM275.11 550.56h1.55v1.55h-1.55zM270.54 561.12h1.55v1.55h-1.55zM249.95 528.12h1.55v1.55h-1.55zM256.39 512.05h1.55v1.55h-1.55zM271.15 539.63h1.55v1.55h-1.55zM267.58 520.81h1.55v1.55h-1.55zM270.44 557.08h1.55v1.55h-1.55zM263.61 543.15h1.55v1.55h-1.55zM249.75 520.44h1.55v1.55h-1.55zM271.81 535.88h1.55v1.55h-1.55zM263.48 529.61h1.55v1.55h-1.55zM252.48 533.23h1.55v1.55h-1.55zM264.64 543.55h1.55v1.55h-1.55zM273.2 543.2h1.55v1.55h-1.55zM263.74 546.53h1.55v1.55h-1.55zM264.67 537.32h1.55v1.55h-1.55zM262.05 519.75h1.55v1.55h-1.55zM271.36 547.08h1.55v1.55h-1.55zM259.1 521.37h1.55v1.55h-1.55zM254.02 513.71h1.55v1.55h-1.55zM260.17 512.05h1.55v1.55h-1.55zM259.74 547.18h1.55v1.55h-1.55zM263.07 529.02h1.55v1.55h-1.55zM263.16 527.35h1.55v1.55h-1.55zM257.24 509.93h1.55v1.55h-1.55zM252.63 509.58h1.55v1.55h-1.55zM260.01 542.12h1.55v1.55h-1.55zM248.39 517.23h1.55v1.55h-1.55zM273.32 543.8h1.55v1.55h-1.55zM260.97 535.99h1.55v1.55h-1.55zM265.86 538.8h1.55v1.55h-1.55zM256.52 512.63h1.55v1.55h-1.55zM252.15 529.43h1.55v1.55h-1.55zM254.47 518.42h1.55v1.55h-1.55zM266.15 536.59h1.55v1.55h-1.55zM263.25 526.24h1.55v1.55h-1.55zM270.02 528.21h1.55v1.55h-1.55zM262.99 539.76h1.55v1.55h-1.55zM259.49 548.52h1.55v1.55h-1.55zM253.94 505.83h1.55v1.55h-1.55zM256.64 530.16h1.55v1.55h-1.55zM252.09 506.78h1.55v1.55h-1.55zM265.6 533.71h1.55v1.55h-1.55zM259.41 538.42h1.55v1.55h-1.55zM269.6 550.76h1.55v1.55h-1.55zM260.32 514.82h1.55v1.55h-1.55zM262.03 544.88h1.55v1.55h-1.55zM270.21 559.48h1.55v1.55h-1.55zM274.81 543.7h1.55v1.55h-1.55zM255.44 511.68h1.55v1.55h-1.55zM262.86 512.61h1.55v1.55h-1.55zM261.81 526.73h1.55v1.55h-1.55zM264.33 545.12h1.55v1.55h-1.55zM257.25 522.21h1.55v1.55h-1.55zM257.08 522.59h1.55v1.55h-1.55zM248.54 524.43h1.55v1.55h-1.55zM267.87 550.69h1.55v1.55h-1.55zM264.27 551.53h1.55v1.55h-1.55zM263 524.37h1.55v1.55h-1.55zM250.84 520.67h1.55v1.55h-1.55zM273.36 542.06h1.55v1.55h-1.55zM254.46 523.75h1.55v1.55h-1.55zM264.51 547.33h1.55v1.55h-1.55zM266.84 523.54h1.55v1.55h-1.55zM257.8 525.46h1.55v1.55h-1.55zM259.04 513.79h1.55v1.55h-1.55zM259.19 546.56h1.55v1.55h-1.55zM268.74 558.25h1.55v1.55h-1.55zM269.71 541.82h1.55v1.55h-1.55zM267.07 539.87h1.55v1.55h-1.55zM264.85 528.06h1.55v1.55h-1.55zM258.7 523.71h1.55v1.55h-1.55zM265.06 543.45h1.55v1.55h-1.55zM253.14 532.12h1.55v1.55h-1.55zM267.28 561.56h1.55v1.55h-1.55zM253.5 532.51h1.55v1.55h-1.55zM268.41 532.17h1.55v1.55h-1.55zM253.54 512.09h1.55v1.55h-1.55zM257.68 508.88h1.55v1.55h-1.55zM265.39 556.54h1.55v1.55h-1.55zM262.85 534.57h1.55v1.55h-1.55zM256.79 535.49h1.55v1.55h-1.55zM272.73 554.53h1.55v1.55h-1.55zM267.99 528.59h1.55v1.55h-1.55zM261.11 524.33h1.55v1.55h-1.55zM266.87 521.71h1.55v1.55h-1.55zM271.77 548.83h1.55v1.55h-1.55zM258.17 544.4h1.55v1.55h-1.55zM275.62 551.83h1.55v1.55h-1.55zM262.38 515.19h1.55v1.55h-1.55zM276.35 550.17h1.55v1.55h-1.55zM258.52 512.6h1.55v1.55h-1.55zM251.34 527.43h1.55v1.55h-1.55zM253.57 508.81h1.55v1.55h-1.55zM261.74 516.1h1.55v1.55h-1.55zM254.93 536.53h1.55v1.55h-1.55zM260.73 542.78h1.55v1.55h-1.55zM249.83 522.03h1.55v1.55h-1.55zM262.27 539.92h1.55v1.55h-1.55zM246.62 518.93h1.55v1.55h-1.55zM257.27 508.16h1.55v1.55h-1.55zM265.17 524.26h1.55v1.55h-1.55zM255.01 527.75h1.55v1.55h-1.55zM254.27 517.54h1.55v1.55h-1.55zM256.84 520.77h1.55v1.55h-1.55zM272.2 557.96h1.55v1.55h-1.55zM264.91 535.72h1.55v1.55h-1.55zM263.83 547.19h1.55v1.55h-1.55zM261.54 519.77h1.55v1.55h-1.55zM260.44 533.27h1.55v1.55h-1.55zM265.63 530.66h1.55v1.55h-1.55zM263.45 514.39h1.55v1.55h-1.55zM263.77 549.87h1.55v1.55h-1.55zM260.01 513.36h1.55v1.55h-1.55zM259.96 506.96h1.55v1.55h-1.55zM257.31 509.64h1.55v1.55h-1.55zM251.16 536.73h1.55v1.55h-1.55zM253.27 514.09h1.55v1.55h-1.55zM266.12 529.17h1.55v1.55h-1.55zM273.88 554.48h1.55v1.55h-1.55zM265.94 558.67h1.55v1.55h-1.55zM258.8 541.31h1.55v1.55h-1.55zM250.32 520.29h1.55v1.55h-1.55zM257.23 543.65h1.55v1.55h-1.55zM272.12 550.49h1.55v1.55h-1.55zM263.64 528.21h1.55v1.55h-1.55zM258.62 531.83h1.55v1.55h-1.55zM254.17 533.75h1.55v1.55h-1.55zM251.39 533.12h1.55v1.55h-1.55zM256.84 506.66h1.55v1.55h-1.55zM258.82 547.35h1.55v1.55h-1.55zM257.38 543.54h1.55v1.55h-1.55zM250.74 525.05h1.55v1.55h-1.55zM254.86 528.59h1.55v1.55h-1.55zM268.77 534.09h1.55v1.55h-1.55zM253.92 525.76h1.55v1.55h-1.55zM262.86 520.99h1.55v1.55h-1.55zM253.09 511.09h1.55v1.55h-1.55zM256.11 539.31h1.55v1.55h-1.55zM263.45 517.44h1.55v1.55h-1.55zM258.51 517.42h1.55v1.55h-1.55zM256.52 510.33h1.55v1.55h-1.55zM271.25 538.2h1.55v1.55h-1.55zM262.86 517.09h1.55v1.55h-1.55zM268.7 543.7h1.55v1.55h-1.55zM254.92 511.37h1.55v1.55h-1.55zM261.31 522.46h1.55v1.55h-1.55zM266.69 553.63h1.55v1.55h-1.55zM267.04 548.69h1.55v1.55h-1.55zM253.72 524.06h1.55v1.55h-1.55zM250.11 517.27h1.55v1.55h-1.55zM264.33 545.26h1.55v1.55h-1.55zM253.23 537.7h1.55v1.55h-1.55zM255.95 509.43h1.55v1.55h-1.55zM252.51 530.19h1.55v1.55h-1.55zM266.76 531.71h1.55v1.55h-1.55zM263.87 529.29h1.55v1.55h-1.55zM258.87 515.18h1.55v1.55h-1.55zM262.15 537.57h1.55v1.55h-1.55zM252.66 534.18h1.55v1.55h-1.55zM256.28 543.71h1.55v1.55h-1.55zM258.95 519.44h1.55v1.55h-1.55zM256.14 539.07h1.55v1.55h-1.55zM274.77 557.06h1.55v1.55h-1.55zM250.34 533.01h1.55v1.55h-1.55zM263.02 549.38h1.55v1.55h-1.55zM264.37 537.26h1.55v1.55h-1.55zM259.61 516.55h1.55v1.55h-1.55zM256.82 525.93h1.55v1.55h-1.55zM265.83 553.07h1.55v1.55h-1.55zM250.96 524.27h1.55v1.55h-1.55zM263.78 536.86h1.55v1.55h-1.55zM255.44 535.21h1.55v1.55h-1.55zM267.61 562.64h1.55v1.55h-1.55zM267.16 535.93h1.55v1.55h-1.55zM253.22 512.45h1.55v1.55h-1.55zM263.36 554.89h1.55v1.55h-1.55zM274.21 560.2h1.55v1.55h-1.55zM270.54 546.46h1.55v1.55h-1.55zM249.17 525.14h1.55v1.55h-1.55zM262.05 546.56h1.55v1.55h-1.55zM260.67 533.62h1.55v1.55h-1.55zM262.15 521.35h1.55v1.55h-1.55zM253.28 534.04h1.55v1.55h-1.55zM260.71 531.94h1.55v1.55h-1.55zM253.82 529.3h1.55v1.55h-1.55zM262.58 519.96h1.55v1.55h-1.55zM252.62 526.56h1.55v1.55h-1.55zM271.23 552.77h1.55v1.55h-1.55zM246.5 522.52h1.55v1.55h-1.55zM261.57 515.56h1.55v1.55h-1.55zM269.14 553.07h1.55v1.55h-1.55zM274.83 553.22h1.55v1.55h-1.55zM265.19 529.11h1.55v1.55h-1.55zM252.09 524.17h1.55v1.55h-1.55zM254.06 506.77h1.55v1.55h-1.55zM267.11 530.57h1.55v1.55h-1.55zM261.69 541.58h1.55v1.55h-1.55zM259.18 529.76h1.55v1.55h-1.55zM266.08 552.09h1.55v1.55h-1.55zM252.87 532.78h1.55v1.55h-1.55zM251.91 528.9h1.55v1.55h-1.55zM255.04 514.95h1.55v1.55h-1.55zM257.3 550.21h1.55v1.55h-1.55zM259.22 557.94h1.55v1.55h-1.55zM273.77 542.19h1.55v1.55h-1.55zM237.01 529.79h1.55v1.55h-1.55zM262.49 543.13h1.55v1.55h-1.55zM236.31 544.66h1.55v1.55h-1.55zM271.17 548.69h1.55v1.55h-1.55zM249.98 504.66h1.55v1.55h-1.55zM275.18 549.87h1.55v1.55h-1.55zM243.24 535.11h1.55v1.55h-1.55zM235.93 523.32h1.55v1.55h-1.55zM261.57 544.65h1.55v1.55h-1.55zM281.58 564.49h1.55v1.55h-1.55zM245.89 519.56h1.55v1.55h-1.55zM260.54 524.01h1.55v1.55h-1.55zM239.69 521.46h1.55v1.55h-1.55zM250.02 516.03h1.55v1.55h-1.55zM241.95 530.83h1.55v1.55h-1.55zM240.68 518.74h1.55v1.55h-1.55zM277.52 571.22h1.55v1.55h-1.55zM253.72 554.12h1.55v1.55h-1.55zM233.43 541.29h1.55v1.55h-1.55zM275.77 566.77h1.55v1.55h-1.55zM230.98 531.55h1.55v1.55h-1.55zM258.5 532.44h1.55v1.55h-1.55zM242.77 528.59h1.55v1.55h-1.55zM248.88 509.15h1.55v1.55h-1.55zM255.46 554.38h1.55v1.55h-1.55zM244.4 535.43h1.55v1.55h-1.55zM272.67 528.6h1.55v1.55h-1.55zM245.35 544.6h1.55v1.55h-1.55zM282.77 560.43h1.55v1.55h-1.55zM269.8 568.95h1.55v1.55h-1.55zM259.05 515.73h1.55v1.55h-1.55zM262.54 518.11h1.55v1.55h-1.55zM249.95 537.67h1.55v1.55h-1.55zM226.37 535.09h1.55v1.55h-1.55zM232.74 533.19h1.55v1.55h-1.55zM242.66 537.41h1.55v1.55h-1.55zM262.18 534.39h1.55v1.55h-1.55zM244.46 528.69h1.55v1.55h-1.55zM227.03 529.51h1.55v1.55h-1.55zM262.76 546.79h1.55v1.55h-1.55zM282.17 559.8h1.55v1.55h-1.55zM254.4 508.2h1.55v1.55h-1.55zM281.84 563.01h1.55v1.55h-1.55zM253.84 542.09h1.55v1.55h-1.55zM247.94 533.05h1.55v1.55h-1.55zM256.92 521.13h1.55v1.55h-1.55zM241.8 546.98h1.55v1.55h-1.55zM247.04 533.13h1.55v1.55h-1.55zM246.53 536.89h1.55v1.55h-1.55zM239 524.21h1.55v1.55h-1.55zM275.39 535.52h1.55v1.55h-1.55zM262.65 549.62h1.55v1.55h-1.55zM265.76 531.56h1.55v1.55h-1.55zM275.17 555.14h1.55v1.55h-1.55zM272.54 569.74h1.55v1.55h-1.55zM245.84 519.12h1.55v1.55h-1.55zM259.38 514.61h1.55v1.55h-1.55zM275.61 558.05h1.55v1.55h-1.55zM233.52 532.46h1.55v1.55h-1.55zM246.49 511.01h1.55v1.55h-1.55zM248.27 508.39h1.55v1.55h-1.55zM262.91 551.57h1.55v1.55h-1.55zM256.96 531.56h1.55v1.55h-1.55zM248.11 522.55h1.55v1.55h-1.55zM262.53 563.03h1.55v1.55h-1.55zM258.44 509.62h1.55v1.55h-1.55zM247.08 544.94h1.55v1.55h-1.55zM247.36 550.22h1.55v1.55h-1.55zM242.38 507.79h1.55v1.55h-1.55zM259.41 514.42h1.55v1.55h-1.55zM252.49 514.19h1.55v1.55h-1.55zM251.88 514.45h1.55v1.55h-1.55zM273.06 562.05h1.55v1.55h-1.55zM273.2 572.49h1.55v1.55h-1.55zM278.14 570.26h1.55v1.55h-1.55zM278.21 555.94h1.55v1.55h-1.55zM261.92 516.37h1.55v1.55h-1.55zM248.88 513.22h1.55v1.55h-1.55zM263.99 564.86h1.55v1.55h-1.55zM272.63 552.52h1.55v1.55h-1.55zM270.85 523.89h1.55v1.55h-1.55zM249.03 555.92h1.55v1.55h-1.55zM266.41 565.55h1.55v1.55h-1.55zM257.04 542.19h1.55v1.55h-1.55zM278.48 548.81h1.55v1.55h-1.55zM262.31 569.98h1.55v1.55h-1.55zM249.43 514.89h1.55v1.55h-1.55zM275.49 544.47h1.55v1.55h-1.55zM280.32 565.06h1.55v1.55h-1.55zM263.66 542.63h1.55v1.55h-1.55zM257.51 560.98h1.55v1.55h-1.55zM270.73 543.89h1.55v1.55h-1.55zM272.44 555.17h1.55v1.55h-1.55zM234.99 541.54h1.55v1.55h-1.55zM278.47 561.31h1.55v1.55h-1.55zM262.44 542.66h1.55v1.55h-1.55zM256.11 545.44h1.55v1.55h-1.55zM262.6 517.56h1.55v1.55h-1.55zM224.05 536.93h1.55v1.55h-1.55zM244.67 516.47h1.55v1.55h-1.55zM269.29 535.98h1.55v1.55h-1.55zM256.23 519.64h1.55v1.55h-1.55zM240.76 529.55h1.55v1.55h-1.55zM234.49 533.71h1.55v1.55h-1.55zM235.88 524.81h1.55v1.55h-1.55zM236.77 529.04h1.55v1.55h-1.55zM243.28 531.72h1.55v1.55h-1.55zM255.15 553h1.55v1.55h-1.55zM232.8 527.96h1.55v1.55h-1.55zM266.17 529.65h1.55v1.55h-1.55zM267.61 567.69h1.55v1.55h-1.55zM266.75 566.1h1.55v1.55h-1.55zM277.63 545.9h1.55v1.55h-1.55zM228.84 542.35h1.55v1.55h-1.55zM234.72 534.38h1.55v1.55h-1.55zM281.25 570.65h1.55v1.55h-1.55zM245.53 542.42h1.55v1.55h-1.55zM247.03 534.04h1.55v1.55h-1.55zM238.62 519.59h1.55v1.55h-1.55zM236.62 532.93h1.55v1.55h-1.55zM279.42 563.49h1.55v1.55h-1.55zM266.95 547.62h1.55v1.55h-1.55zM253.18 524.94h1.55v1.55h-1.55zM265.82 560.28h1.55v1.55h-1.55zM241.94 519.96h1.55v1.55h-1.55zM270.72 534.01h1.55v1.55h-1.55zM257.15 540.48h1.55v1.55h-1.55zM277.05 569.29h1.55v1.55h-1.55zM247.01 538.77h1.55v1.55h-1.55zM254.12 542.82h1.55v1.55h-1.55zM280.84 559.87h1.55v1.55h-1.55zM273.63 535.32h1.55v1.55h-1.55zM268.26 519.52h1.55v1.55h-1.55zM266.97 531.16h1.55v1.55h-1.55zM259.29 531.03h1.55v1.55h-1.55zM257.82 549.9h1.55v1.55h-1.55zM265.93 533.56h1.55v1.55h-1.55zM283.14 561.99h1.55v1.55h-1.55zM248.87 522.5h1.55v1.55h-1.55zM250.07 519.28h1.55v1.55h-1.55zM268.02 573.89h1.55v1.55h-1.55zM254.67 538.32h1.55v1.55h-1.55zM258.8 544.31h1.55v1.55h-1.55zM240.92 540.21h1.55v1.55h-1.55zM265.41 536.63h1.55v1.55h-1.55zM248.51 521.49h1.55v1.55h-1.55zM278.8 566.59h1.55v1.55h-1.55zM248.04 528.02h1.55v1.55h-1.55zM264.11 564.91h1.55v1.55h-1.55zM231.71 539.9h1.55v1.55h-1.55zM240.25 533.63h1.55v1.55h-1.55zM268.51 566.58h1.55v1.55h-1.55zM270.32 554.38h1.55v1.55h-1.55zM245.15 540.92h1.55v1.55h-1.55zM244.58 552.26h1.55v1.55h-1.55zM275.08 564.38h1.55v1.55h-1.55zM271.79 542.24h1.55v1.55h-1.55zM268.7 538.83h1.55v1.55h-1.55zM245.46 536.15h1.55v1.55h-1.55zM247.92 513.52h1.55v1.55h-1.55zM261.61 542.82h1.55v1.55h-1.55zM254.03 544.27h1.55v1.55h-1.55zM261.84 568.67h1.55v1.55h-1.55zM242.86 527.46h1.55v1.55h-1.55zM275.47 562.76h1.55v1.55h-1.55zM258.03 557.8h1.55v1.55h-1.55zM250.39 534.31h1.55v1.55h-1.55zM288.43 535.33h1.55v1.55h-1.55zM292.73 531.73h1.55v1.55h-1.55zM297.12 535.33h1.55v1.55h-1.55zM302.12 536.83h1.55v1.55h-1.55zM307.12 539.62h1.55v1.55h-1.55zM322.33 537.52h1.55v1.55h-1.55zM294.93 554.02h1.55v1.55h-1.55zM285.53 546.12h1.55v1.55h-1.55zM224.32 552.62h1.55v1.55h-1.55zM225.03 560.52h1.55v1.55h-1.55zM232.92 559.83h1.55v1.55h-1.55zM237.32 562.02h1.55v1.55h-1.55zM253.12 578.52h1.55v1.55h-1.55zM254.53 589.33h1.55v1.55h-1.55zM260.33 574.23h1.55v1.55h-1.55zM277.62 571.33h1.55v1.55h-1.55z"/>
<path fill="#d95319" d="M246.01 495.27h1.55v1.55h-1.55zM253.12 496.13h1.55v1.55h-1.55zM249.7 487.83h1.55v1.55h-1.55zM254.46 499.51h1.55v1.55h-1.55zM254.99 498.99h1.55v1.55h-1.55zM252.6 498.41h1.55v1.55h-1.55zM243.8 492.99h1.55v1.55h-1.55zM245.62 506.92h1.55v1.55h-1.55zM254.14 500.04h1.55v1.55h-1.55zM250.7 500.92h1.55v1.55h-1.55zM241.51 493.65h1.55v1.55h-1.55zM249.91 485.19h1.55v1.55h-1.55zM249.71 506.34h1.55v1.55h-1.55zM255.6 502.64h1.55v1.55h-1.55zM244.05 487.44h1.55v1.55h-1.55zM244.22 506.58h1.55v1.55h-1.55zM249.01 505.5h1.55v1.55h-1.55zM245.43 487.92h1.55v1.55h-1.55zM250.26 508.64h1.55v1.55h-1.55zM252.92 488.91h1.55v1.55h-1.55zM252.49 501.79h1.55v1.55h-1.55zM244.47 496.96h1.55v1.55h-1.55zM245.79 488.53h1.55v1.55h-1.55zM254.13 502.55h1.55v1.55h-1.55zM242.69 504.72h1.55v1.55h-1.55zM251.2 487.32h1.55v1.55h-1.55zM253.98 496.93h1.55v1.55h-1.55zM242.61 491.27h1.55v1.55h-1.55zM247.49 493.13h1.55v1.55h-1.55zM251.4 493.64h1.55v1.55h-1.55zM248.57 501.77h1.55v1.55h-1.55zM254.9 505.63h1.55v1.55h-1.55zM248.77 485.93h1.55v1.55h-1.55zM249.35 486.3h1.55v1.55h-1.55zM248.89 499.18h1.55v1.55h-1.55zM246.76 495.31h1.55v1.55h-1.55zM251.19 501.65h1.55v1.55h-1.55zM252.91 506.52h1.55v1.55h-1.55zM252.92 497.83h1.55v1.55h-1.55zM248.48 508.85h1.55v1.55h-1.55z"/>
<path fill="#0072bd" d="M251.12 497.33h1.55v1.55h-1.55zM243.4 496.68h1.55v1.55h-1.55zM247.23 497.85h1.55v1.55h-1.55zM245.85 501.54h1.55v1.55h-1.55zM243.49 501.42h1.55v1.55h-1.55zM246.1 504.75h1.55v1.55h-1.55zM243.65 493.61h1.55v1.55h-1.55zM240 492.62h1.55v1.55h-1.55zM246.62 505.82h1.55v1.55h-1.55zM244.53 502.31h1.55v1.55h-1.55zM249.67 504.52h1.55v1.55h-1.55zM249.9 502.71h1.55v1.55h-1.55zM244.61 501.96h1.55v1.55h-1.55zM248.9 500.26h1.55v1.55h-1.55zM247.68 494.61h1.55v1.55h-1.55zM244.86 496.51h1.55v1.55h-1.55zM247.54 499.62h1.55v1.55h-1.55zM243.24 497.47h1.55v1.55h-1.55zM246.43 504.8h1.55v1.55h-1.55zM248.95 493.81h1.55v1.55h-1.55zM244.8 503.06h1.55v1.55h-1.55zM245.86 493.1h1.55v1.55h-1.55zM241.1 494.28h1.55v1.55h-1.55zM247.2 502.14h1.55v1.55h-1.55zM241.52 494.16h1.55v1.55h-1.55z"/>
<line x1="111.5" y1="449.3" x2="275.6" y2="398.4" stroke="#333333" stroke-width="1"/>
<line x1="275.6" y1="398.4" x2="445.5" y2="447.3" stroke="#333333" stroke-width="1"/>
<line x1="111.5" y1="617.3" x2="281.6" y2="666.2" stroke="#333333" stroke-width="1"/>
<line x1="281.6" y1="666.2" x2="445.5" y2="615.3" stroke="#333333" stroke-width="1"/>
<line x1="111.5" y1="617.3" x2="275.3" y2="566.4" stroke="#333333" stroke-width="1"/>
<line x1="275.3" y1="566.4" x2="445.5" y2="615.3" stroke="#333333" stroke-width="1"/>
<line x1="111.5" y1="449.3" x2="111.5" y2="617.3" stroke="#858585" stroke-width="1"/>
<line x1="275.6" y1="398.4" x2="275.3" y2="566.4" stroke="#7a7a7a" stroke-width="1"/>
<line x1="445.5" y1="447.3" x2="445.5" y2="615.3" stroke="#3c3c3c" stroke-width="1"/>
<line x1="111.5" y1="617.3" x2="106.89" y2="615.97" stroke="#333333" stroke-width="1"/>
<line x1="111.5" y1="533.3" x2="106.89" y2="531.97" stroke="#333333" stroke-width="1"/>
<line x1="111.5" y1="449.3" x2="106.89" y2="447.97" stroke="#333333" stroke-width="1"/>
<line x1="111.5" y1="617.3" x2="106.92" y2="618.72" stroke="#333333" stroke-width="1"/>
<line x1="196.55" y1="641.75" x2="191.97" y2="643.17" stroke="#333333" stroke-width="1"/>
<line x1="281.6" y1="666.2" x2="277.02" y2="667.62" stroke="#333333" stroke-width="1"/>
<line x1="281.6" y1="666.2" x2="286.21" y2="667.53" stroke="#333333" stroke-width="1"/>
<line x1="363.55" y1="640.75" x2="368.16" y2="642.08" stroke="#333333" stroke-width="1"/>
<line x1="445.5" y1="615.3" x2="450.11" y2="616.63" stroke="#333333" stroke-width="1"/>
<text transform="translate(36.2 455.82) scale(0.9378 0.9608)" font-size="30" font-weight="bold" fill="#000" stroke="#000" stroke-width="0.45" stroke-linejoin="round" style="font-family:&quot;Liberation Serif&quot;, serif">0.465</text>
<text transform="translate(50.4 540.01) scale(0.9352 0.9755)" font-size="30" font-weight="bold" fill="#000" stroke="#000" stroke-width="0.45" stroke-linejoin="round" style="font-family:&quot;Liberation Serif&quot;, serif">0.46</text>
<text transform="translate(36.1 623.92) scale(0.9393 0.9559)" font-size="30" font-weight="bold" fill="#000" stroke="#000" stroke-width="0.45" stroke-linejoin="round" style="font-family:&quot;Liberation Serif&quot;, serif">0.455</text>
<text transform="translate(50.7 646.32) scale(0.9295 0.9559)" font-size="30" font-weight="bold" fill="#000" stroke="#000" stroke-width="0.45" stroke-linejoin="round" style="font-family:&quot;Liberation Serif&quot;, serif">0.46</text>
<text transform="translate(135.1 670.83) scale(0.9486 0.9363)" font-size="30" font-weight="bold" fill="#000" stroke="#000" stroke-width="0.45" stroke-linejoin="round" style="font-family:&quot;Liberation Serif&quot;, serif">0.47</text>
<text transform="translate(220 695.62) scale(0.9410 0.9559)" font-size="30" font-weight="bold" fill="#000" stroke="#000" stroke-width="0.45" stroke-linejoin="round" style="font-family:&quot;Liberation Serif&quot;, serif">0.48</text>
<text transform="translate(293.3 694.83) scale(0.9147 0.9167)" font-size="30" font-weight="bold" fill="#000" stroke="#000" stroke-width="0.45" stroke-linejoin="round" style="font-family:&quot;Liberation Serif&quot;, serif">0.6</text>
<text transform="translate(374.9 669.34) scale(0.9238 0.9069)" font-size="30" font-weight="bold" fill="#000" stroke="#000" stroke-width="0.45" stroke-linejoin="round" style="font-family:&quot;Liberation Serif&quot;, serif">0.65</text>
<text transform="translate(457 644.43) scale(0.9173 0.9167)" font-size="30" font-weight="bold" fill="#000" stroke="#000" stroke-width="0.45" stroke-linejoin="round" style="font-family:&quot;Liberation Serif&quot;, serif">0.7</text>
<text transform="translate(114.6 720.4) scale(0.8681 0.9137)" font-size="33" font-weight="bold" fill="#000" stroke="#000" stroke-width="0.45" stroke-linejoin="round" style="font-family:&quot;Liberation Serif&quot;, serif">P1</text>
<text transform="translate(414.1 719.9) scale(0.8791 0.9045)" font-size="33" font-weight="bold" fill="#000" stroke="#000" stroke-width="0.45" stroke-linejoin="round" style="font-family:&quot;Liberation Serif&quot;, serif">P2</text>
<text transform="translate(25.95 551.5) rotate(-90) scale(0.9582 1.0531)" font-size="33" font-weight="bold" fill="#000" stroke="#000" stroke-width="0.45" stroke-linejoin="round" style="font-family:&quot;Liberation Serif&quot;, serif">P3</text>
<text transform="translate(448.8 431.37) scale(1.0127 1.0231)" font-size="29" font-weight="bold" fill="#000" stroke="#000" stroke-width="0.45" stroke-linejoin="round" style="font-family:&quot;Liberation Serif&quot;, serif">(c)</text>
<polygon points="622.5,441.4 794.6,396.7 794.8,567.6 622.5,612.8" fill="#f0f0f0"/>
<polygon points="794.6,396.7 961.3,443 961.3,614.1 794.8,567.6" fill="#f0f0f0"/>
<polygon points="622.5,612.8 794.8,567.6 961.3,614.1 789,659.3" fill="#f0f0f0"/>
<line x1="622.5" y1="527.1" x2="794.7" y2="482.15" stroke="#d3d3d3" stroke-width="1"/>
<line x1="794.7" y1="482.15" x2="961.3" y2="528.55" stroke="#d3d3d3" stroke-width="1"/>
<line x1="704.09" y1="635.58" x2="876.38" y2="590.38" stroke="#d3d3d3" stroke-width="1"/>
<line x1="876.38" y1="590.38" x2="876.28" y2="419.39" stroke="#d3d3d3" stroke-width="1"/>
<path fill="#0072bd" d="M746.84 506.97h1.8v1.8h-1.8zM744.05 522.86h1.8v1.8h-1.8zM736.87 499.22h1.8v1.8h-1.8zM737.35 524.7h1.8v1.8h-1.8zM748.59 532.7h1.8v1.8h-1.8zM755.88 522.3h1.8v1.8h-1.8zM746.13 522.09h1.8v1.8h-1.8zM761.14 512.69h1.8v1.8h-1.8zM742.31 526.9h1.8v1.8h-1.8zM759.73 524.31h1.8v1.8h-1.8zM741.08 512.28h1.8v1.8h-1.8zM756.57 518.58h1.8v1.8h-1.8zM739.15 497.8h1.8v1.8h-1.8zM745.55 493.88h1.8v1.8h-1.8zM748.36 508.49h1.8v1.8h-1.8zM761.63 531.81h1.8v1.8h-1.8zM740.19 503.44h1.8v1.8h-1.8zM753.46 494.03h1.8v1.8h-1.8zM751.64 524.6h1.8v1.8h-1.8zM750.75 519.11h1.8v1.8h-1.8zM751.58 486.94h1.8v1.8h-1.8zM733.63 514.23h1.8v1.8h-1.8zM753.91 526.77h1.8v1.8h-1.8zM750.01 524.84h1.8v1.8h-1.8zM754.26 500.55h1.8v1.8h-1.8zM740.73 534.61h1.8v1.8h-1.8zM750.38 526.17h1.8v1.8h-1.8zM752.99 525.69h1.8v1.8h-1.8zM745.28 501.11h1.8v1.8h-1.8zM756.24 517.48h1.8v1.8h-1.8zM758.85 538.01h1.8v1.8h-1.8zM756.12 505.13h1.8v1.8h-1.8zM742.34 533.63h1.8v1.8h-1.8zM762.39 517.62h1.8v1.8h-1.8zM760.81 532.78h1.8v1.8h-1.8zM741.23 527.23h1.8v1.8h-1.8zM749.51 490.61h1.8v1.8h-1.8zM753.29 527.66h1.8v1.8h-1.8zM734.81 524.48h1.8v1.8h-1.8zM747.01 511.43h1.8v1.8h-1.8zM745.81 506.26h1.8v1.8h-1.8zM742.1 522.37h1.8v1.8h-1.8zM746.35 498.39h1.8v1.8h-1.8zM751.77 511.93h1.8v1.8h-1.8zM756.12 507.91h1.8v1.8h-1.8zM741.04 507.44h1.8v1.8h-1.8zM747.99 511.34h1.8v1.8h-1.8zM745.43 495.98h1.8v1.8h-1.8zM750.67 521.56h1.8v1.8h-1.8zM759.5 520.4h1.8v1.8h-1.8zM749.77 502.92h1.8v1.8h-1.8zM746.53 507.43h1.8v1.8h-1.8zM742.77 505.06h1.8v1.8h-1.8zM748.18 510.22h1.8v1.8h-1.8zM741.74 513.86h1.8v1.8h-1.8zM737.77 532.72h1.8v1.8h-1.8zM744.66 504.76h1.8v1.8h-1.8zM737.39 512.82h1.8v1.8h-1.8zM746.45 504.32h1.8v1.8h-1.8zM746.97 526.66h1.8v1.8h-1.8zM741.16 504.46h1.8v1.8h-1.8zM748.03 494.58h1.8v1.8h-1.8zM759.19 510.62h1.8v1.8h-1.8zM743.34 536.92h1.8v1.8h-1.8zM735.11 527.51h1.8v1.8h-1.8zM735.59 511.71h1.8v1.8h-1.8zM754.2 504.48h1.8v1.8h-1.8zM750.8 525.52h1.8v1.8h-1.8zM761.96 520.98h1.8v1.8h-1.8zM736.2 535.09h1.8v1.8h-1.8zM739.27 526.45h1.8v1.8h-1.8zM731.62 522.87h1.8v1.8h-1.8zM749.48 517.34h1.8v1.8h-1.8zM749.35 511.37h1.8v1.8h-1.8zM744.7 503.26h1.8v1.8h-1.8zM738.18 526.1h1.8v1.8h-1.8zM732.96 522.31h1.8v1.8h-1.8zM736.29 519.79h1.8v1.8h-1.8zM740.06 517.2h1.8v1.8h-1.8zM748.08 517.04h1.8v1.8h-1.8zM734.08 519.97h1.8v1.8h-1.8zM763.53 521.95h1.8v1.8h-1.8zM735.86 506.82h1.8v1.8h-1.8zM733.86 522.05h1.8v1.8h-1.8zM752.08 519.85h1.8v1.8h-1.8zM741.42 509.43h1.8v1.8h-1.8zM734.97 521.47h1.8v1.8h-1.8zM727.85 520.92h1.8v1.8h-1.8zM744.68 504.09h1.8v1.8h-1.8zM762.32 522.08h1.8v1.8h-1.8zM756.15 534.01h1.8v1.8h-1.8zM743.35 525.72h1.8v1.8h-1.8zM753.8 504.34h1.8v1.8h-1.8zM750.16 522.82h1.8v1.8h-1.8zM742.12 520.43h1.8v1.8h-1.8zM744.61 492.51h1.8v1.8h-1.8zM747.45 505.37h1.8v1.8h-1.8zM734.28 512.44h1.8v1.8h-1.8zM759.87 525.33h1.8v1.8h-1.8zM758.14 510.62h1.8v1.8h-1.8zM757.06 512.68h1.8v1.8h-1.8zM745.57 528.24h1.8v1.8h-1.8zM748.26 508.25h1.8v1.8h-1.8zM752.98 533.29h1.8v1.8h-1.8zM744.85 487.25h1.8v1.8h-1.8zM750.44 498.64h1.8v1.8h-1.8zM759 510.62h1.8v1.8h-1.8zM759.94 520.16h1.8v1.8h-1.8zM739.98 531.72h1.8v1.8h-1.8zM739.6 520.68h1.8v1.8h-1.8zM755.01 493.01h1.8v1.8h-1.8zM751.3 498.15h1.8v1.8h-1.8zM759.39 522.54h1.8v1.8h-1.8zM737.4 513.48h1.8v1.8h-1.8zM733.48 504.51h1.8v1.8h-1.8zM739.15 520.17h1.8v1.8h-1.8zM742.59 530.41h1.8v1.8h-1.8zM744.48 495.9h1.8v1.8h-1.8zM753.1 522.61h1.8v1.8h-1.8zM749.14 537.36h1.8v1.8h-1.8zM737.27 512.38h1.8v1.8h-1.8zM757.91 528.1h1.8v1.8h-1.8zM739.75 511.26h1.8v1.8h-1.8zM729.11 525.33h1.8v1.8h-1.8zM751.4 515.04h1.8v1.8h-1.8zM737.53 515.12h1.8v1.8h-1.8zM740.41 511.09h1.8v1.8h-1.8zM738.91 509.31h1.8v1.8h-1.8zM748.43 529.24h1.8v1.8h-1.8zM741.49 526.5h1.8v1.8h-1.8zM735.41 528.56h1.8v1.8h-1.8zM764.11 524.12h1.8v1.8h-1.8zM736.92 528.46h1.8v1.8h-1.8zM749.92 504.6h1.8v1.8h-1.8zM758.03 507.86h1.8v1.8h-1.8zM737.13 517.18h1.8v1.8h-1.8zM739.87 498.81h1.8v1.8h-1.8zM743.17 522.07h1.8v1.8h-1.8zM742.7 497.41h1.8v1.8h-1.8zM751.23 532.71h1.8v1.8h-1.8zM741.13 505.58h1.8v1.8h-1.8zM751.9 490.13h1.8v1.8h-1.8zM762.81 524.89h1.8v1.8h-1.8zM739.57 521.08h1.8v1.8h-1.8zM732.45 520.97h1.8v1.8h-1.8zM735.25 515.97h1.8v1.8h-1.8zM749.89 539.25h1.8v1.8h-1.8zM750.11 497.63h1.8v1.8h-1.8zM750.63 513.24h1.8v1.8h-1.8zM751.2 509.75h1.8v1.8h-1.8zM757.75 532.04h1.8v1.8h-1.8zM747.1 516.68h1.8v1.8h-1.8zM761.57 513.74h1.8v1.8h-1.8zM752.8 518.84h1.8v1.8h-1.8zM761.47 527.61h1.8v1.8h-1.8zM745.12 531.33h1.8v1.8h-1.8zM747.54 502.63h1.8v1.8h-1.8zM749.81 518.73h1.8v1.8h-1.8zM755.02 534.88h1.8v1.8h-1.8zM746.31 487.55h1.8v1.8h-1.8zM741.78 531.74h1.8v1.8h-1.8zM744.3 489.1h1.8v1.8h-1.8zM743.96 518.32h1.8v1.8h-1.8zM749.06 517.81h1.8v1.8h-1.8zM758.22 511.57h1.8v1.8h-1.8zM731.79 531.78h1.8v1.8h-1.8zM756.05 517.47h1.8v1.8h-1.8zM737.04 526.35h1.8v1.8h-1.8zM749.33 499.76h1.8v1.8h-1.8zM756.56 513.68h1.8v1.8h-1.8zM753.31 532.31h1.8v1.8h-1.8zM735.58 523.55h1.8v1.8h-1.8zM741.27 536.6h1.8v1.8h-1.8zM753.98 535.46h1.8v1.8h-1.8zM748.82 507.78h1.8v1.8h-1.8zM742.78 517.02h1.8v1.8h-1.8zM754.14 502.97h1.8v1.8h-1.8zM746.74 527.51h1.8v1.8h-1.8zM739.38 501.61h1.8v1.8h-1.8zM763.11 527.2h1.8v1.8h-1.8zM751.05 519.25h1.8v1.8h-1.8zM754.09 520.1h1.8v1.8h-1.8zM744.87 491h1.8v1.8h-1.8zM747.38 494.96h1.8v1.8h-1.8zM748.42 500.22h1.8v1.8h-1.8zM749.11 507.14h1.8v1.8h-1.8zM733.09 522.96h1.8v1.8h-1.8zM742.83 492.45h1.8v1.8h-1.8zM726.51 524.83h1.8v1.8h-1.8zM744.92 534.54h1.8v1.8h-1.8zM735.36 508.44h1.8v1.8h-1.8zM756.2 524.45h1.8v1.8h-1.8zM743.89 509.39h1.8v1.8h-1.8zM739.35 515.27h1.8v1.8h-1.8zM732.03 525.03h1.8v1.8h-1.8zM746.17 505.43h1.8v1.8h-1.8zM749.65 492.03h1.8v1.8h-1.8zM753.01 519.44h1.8v1.8h-1.8zM760.18 517.67h1.8v1.8h-1.8zM736.95 527.93h1.8v1.8h-1.8zM747.25 510.02h1.8v1.8h-1.8zM746.27 507.55h1.8v1.8h-1.8zM750.31 494.64h1.8v1.8h-1.8zM762.05 521.46h1.8v1.8h-1.8zM737.7 517.35h1.8v1.8h-1.8zM760.05 533.22h1.8v1.8h-1.8zM756.25 516.99h1.8v1.8h-1.8zM735.67 531.83h1.8v1.8h-1.8zM746.07 530.37h1.8v1.8h-1.8zM759.26 533.39h1.8v1.8h-1.8zM729.18 525.56h1.8v1.8h-1.8zM747.43 513.97h1.8v1.8h-1.8zM735.02 524.04h1.8v1.8h-1.8zM739.16 504h1.8v1.8h-1.8zM756.69 512.12h1.8v1.8h-1.8zM737.03 512.95h1.8v1.8h-1.8zM745.21 495.53h1.8v1.8h-1.8zM744.76 529.17h1.8v1.8h-1.8zM737.31 534.63h1.8v1.8h-1.8zM735.72 502.53h1.8v1.8h-1.8zM736.58 522.07h1.8v1.8h-1.8zM742.24 529.77h1.8v1.8h-1.8zM747.17 512.62h1.8v1.8h-1.8zM748.66 519.67h1.8v1.8h-1.8zM747.61 532.37h1.8v1.8h-1.8zM753.07 518.81h1.8v1.8h-1.8zM727.59 526.55h1.8v1.8h-1.8zM755.74 525.95h1.8v1.8h-1.8zM753.65 522.43h1.8v1.8h-1.8zM749.63 525.48h1.8v1.8h-1.8zM762.79 523.38h1.8v1.8h-1.8zM736.28 523.35h1.8v1.8h-1.8zM733.84 507.14h1.8v1.8h-1.8zM733.41 520.05h1.8v1.8h-1.8zM757.16 533.01h1.8v1.8h-1.8zM754.44 513.49h1.8v1.8h-1.8zM741.53 523.67h1.8v1.8h-1.8zM742.95 506.41h1.8v1.8h-1.8zM734.48 513.07h1.8v1.8h-1.8zM752.01 523.65h1.8v1.8h-1.8zM751.27 498.08h1.8v1.8h-1.8zM742.93 489.15h1.8v1.8h-1.8zM733.25 528.84h1.8v1.8h-1.8zM735.03 523.33h1.8v1.8h-1.8zM740.03 496.4h1.8v1.8h-1.8zM749.94 524.3h1.8v1.8h-1.8zM739.42 529.12h1.8v1.8h-1.8zM737.97 526.26h1.8v1.8h-1.8zM744.76 536.24h1.8v1.8h-1.8zM761.98 529.79h1.8v1.8h-1.8zM746.86 523.3h1.8v1.8h-1.8zM753.48 522.17h1.8v1.8h-1.8zM742.05 523.59h1.8v1.8h-1.8zM743.14 528.06h1.8v1.8h-1.8zM757.93 533.57h1.8v1.8h-1.8zM758.55 510.05h1.8v1.8h-1.8zM732.72 528.5h1.8v1.8h-1.8zM734.07 505.5h1.8v1.8h-1.8zM735.74 521.61h1.8v1.8h-1.8zM754.01 523.3h1.8v1.8h-1.8zM740.28 509.74h1.8v1.8h-1.8zM750.2 524.8h1.8v1.8h-1.8zM755.43 510.89h1.8v1.8h-1.8zM743.41 507.87h1.8v1.8h-1.8zM760.31 526.65h1.8v1.8h-1.8zM743.94 535.11h1.8v1.8h-1.8zM742.49 530.31h1.8v1.8h-1.8zM756.79 517.1h1.8v1.8h-1.8zM752.94 531.97h1.8v1.8h-1.8zM759.38 530.53h1.8v1.8h-1.8zM750.73 506.17h1.8v1.8h-1.8zM734.72 527.06h1.8v1.8h-1.8zM750.42 508.99h1.8v1.8h-1.8zM764.19 531.74h1.8v1.8h-1.8zM755.71 510.52h1.8v1.8h-1.8zM761.55 533h1.8v1.8h-1.8zM738.93 491.66h1.8v1.8h-1.8zM757.68 536.26h1.8v1.8h-1.8zM749.76 490.02h1.8v1.8h-1.8zM752.89 491.51h1.8v1.8h-1.8zM738.28 505.82h1.8v1.8h-1.8zM749.77 506.41h1.8v1.8h-1.8zM751.04 536.55h1.8v1.8h-1.8zM734.36 515.72h1.8v1.8h-1.8zM747.6 516.18h1.8v1.8h-1.8zM755.02 496.59h1.8v1.8h-1.8zM765.8 529.86h1.8v1.8h-1.8zM752.67 521.03h1.8v1.8h-1.8zM738.45 539.52h1.8v1.8h-1.8zM737.77 497.77h1.8v1.8h-1.8zM740.5 505.44h1.8v1.8h-1.8zM755.78 513.88h1.8v1.8h-1.8zM748.64 539.22h1.8v1.8h-1.8zM760.82 532.01h1.8v1.8h-1.8zM744.89 536.88h1.8v1.8h-1.8zM740.94 536.57h1.8v1.8h-1.8zM762.62 524.62h1.8v1.8h-1.8zM745.38 525.41h1.8v1.8h-1.8zM759.67 528.61h1.8v1.8h-1.8zM741.65 535.61h1.8v1.8h-1.8zM748.34 516.95h1.8v1.8h-1.8zM760.18 525.38h1.8v1.8h-1.8zM753.61 520.05h1.8v1.8h-1.8zM749.69 505.69h1.8v1.8h-1.8zM754.4 509.75h1.8v1.8h-1.8zM749.27 516.69h1.8v1.8h-1.8zM745.51 521.71h1.8v1.8h-1.8zM737.12 529.11h1.8v1.8h-1.8zM762.22 520.98h1.8v1.8h-1.8zM740.14 508.78h1.8v1.8h-1.8zM744.19 514.09h1.8v1.8h-1.8zM755.53 529.21h1.8v1.8h-1.8zM741.88 513.24h1.8v1.8h-1.8zM760.09 523.8h1.8v1.8h-1.8zM741.06 509.2h1.8v1.8h-1.8zM735.45 522.59h1.8v1.8h-1.8zM737.04 509.34h1.8v1.8h-1.8zM760.27 520.11h1.8v1.8h-1.8zM742.21 533.99h1.8v1.8h-1.8zM753.25 531.5h1.8v1.8h-1.8zM739.35 525.18h1.8v1.8h-1.8zM733.59 513.15h1.8v1.8h-1.8zM743.8 514.39h1.8v1.8h-1.8zM754.93 534.42h1.8v1.8h-1.8zM754.43 512.66h1.8v1.8h-1.8zM745.97 505.19h1.8v1.8h-1.8zM753.67 505.08h1.8v1.8h-1.8zM748.68 506.9h1.8v1.8h-1.8zM753.71 524.51h1.8v1.8h-1.8zM752.1 513.96h1.8v1.8h-1.8zM756.44 519.67h1.8v1.8h-1.8zM738.1 507.22h1.8v1.8h-1.8zM742.78 495.78h1.8v1.8h-1.8zM733.33 531.17h1.8v1.8h-1.8zM748.03 511.76h1.8v1.8h-1.8zM749.4 495.56h1.8v1.8h-1.8zM759.33 531.46h1.8v1.8h-1.8zM737.49 529.79h1.8v1.8h-1.8zM751.28 491.82h1.8v1.8h-1.8zM742.64 501.92h1.8v1.8h-1.8zM751.09 512.74h1.8v1.8h-1.8zM754.79 523.75h1.8v1.8h-1.8zM736.24 526.56h1.8v1.8h-1.8zM739.74 532.11h1.8v1.8h-1.8zM743.91 521.33h1.8v1.8h-1.8zM757.4 520.5h1.8v1.8h-1.8zM736.68 512.36h1.8v1.8h-1.8zM735.38 530.82h1.8v1.8h-1.8zM738.48 533.23h1.8v1.8h-1.8zM752.19 513.14h1.8v1.8h-1.8zM757.99 523.25h1.8v1.8h-1.8zM760.12 514.84h1.8v1.8h-1.8zM732.34 520.23h1.8v1.8h-1.8zM735.23 524.89h1.8v1.8h-1.8zM736.19 509.4h1.8v1.8h-1.8zM733.17 530.22h1.8v1.8h-1.8zM735.02 518.48h1.8v1.8h-1.8zM759.71 519.95h1.8v1.8h-1.8zM738.37 515.03h1.8v1.8h-1.8zM739.43 519.66h1.8v1.8h-1.8zM756.15 520.82h1.8v1.8h-1.8zM740.6 522.22h1.8v1.8h-1.8zM756.58 504.93h1.8v1.8h-1.8zM749.75 521.98h1.8v1.8h-1.8zM738.3 503.31h1.8v1.8h-1.8zM730.58 529.11h1.8v1.8h-1.8zM754.05 528.25h1.8v1.8h-1.8zM756.37 536.64h1.8v1.8h-1.8zM747 529.36h1.8v1.8h-1.8zM760.16 509.05h1.8v1.8h-1.8zM753.35 514.45h1.8v1.8h-1.8zM732.89 521.79h1.8v1.8h-1.8zM738.32 506.17h1.8v1.8h-1.8zM737.43 502.08h1.8v1.8h-1.8zM752.13 525.27h1.8v1.8h-1.8zM745.5 526.61h1.8v1.8h-1.8zM750.76 527.6h1.8v1.8h-1.8zM741.24 530.15h1.8v1.8h-1.8zM735.85 530.65h1.8v1.8h-1.8zM756.17 530.03h1.8v1.8h-1.8zM731.5 518.88h1.8v1.8h-1.8zM753.92 527.67h1.8v1.8h-1.8zM743.34 501.34h1.8v1.8h-1.8zM753.13 503.78h1.8v1.8h-1.8zM752.55 539.87h1.8v1.8h-1.8zM748.59 517.16h1.8v1.8h-1.8zM750.05 522.02h1.8v1.8h-1.8zM743.03 510.78h1.8v1.8h-1.8zM749.35 508.68h1.8v1.8h-1.8zM748.35 495.19h1.8v1.8h-1.8zM762.75 523.52h1.8v1.8h-1.8zM743.74 511.2h1.8v1.8h-1.8zM763.96 532.38h1.8v1.8h-1.8zM743.48 501.55h1.8v1.8h-1.8zM741.4 506.66h1.8v1.8h-1.8zM737.7 499.91h1.8v1.8h-1.8zM752.8 518.93h1.8v1.8h-1.8zM730.17 523.04h1.8v1.8h-1.8zM760.57 516.69h1.8v1.8h-1.8zM751.07 512.72h1.8v1.8h-1.8zM752.75 519.71h1.8v1.8h-1.8zM744.98 533.86h1.8v1.8h-1.8zM759.02 534.85h1.8v1.8h-1.8zM741.66 492.95h1.8v1.8h-1.8zM758.48 527.97h1.8v1.8h-1.8zM745.85 513.68h1.8v1.8h-1.8zM736.98 494.37h1.8v1.8h-1.8zM762.44 524.92h1.8v1.8h-1.8zM760.89 533.91h1.8v1.8h-1.8zM757.93 512.51h1.8v1.8h-1.8zM749.02 515.9h1.8v1.8h-1.8zM750.57 499.69h1.8v1.8h-1.8zM750.71 527.19h1.8v1.8h-1.8zM732.9 529.26h1.8v1.8h-1.8zM755.61 525.27h1.8v1.8h-1.8zM741.6 528.22h1.8v1.8h-1.8zM750.02 488.85h1.8v1.8h-1.8zM750.19 527.77h1.8v1.8h-1.8zM747.13 527.28h1.8v1.8h-1.8zM750.72 497.2h1.8v1.8h-1.8zM749 503.16h1.8v1.8h-1.8zM732.72 522.16h1.8v1.8h-1.8zM739.3 517.98h1.8v1.8h-1.8zM744.12 492.03h1.8v1.8h-1.8zM738.59 503.81h1.8v1.8h-1.8zM747.25 505.1h1.8v1.8h-1.8zM741.17 514.89h1.8v1.8h-1.8zM731.7 525.98h1.8v1.8h-1.8zM758.37 532.49h1.8v1.8h-1.8zM757.03 500.99h1.8v1.8h-1.8zM743.44 500.95h1.8v1.8h-1.8zM738.07 536.82h1.8v1.8h-1.8zM736.41 501.05h1.8v1.8h-1.8zM741.55 526.37h1.8v1.8h-1.8zM758.48 524.72h1.8v1.8h-1.8zM760.9 528.32h1.8v1.8h-1.8zM737.25 502.17h1.8v1.8h-1.8zM748.91 502.2h1.8v1.8h-1.8zM737.02 526.99h1.8v1.8h-1.8zM739.61 499.81h1.8v1.8h-1.8zM743.89 514h1.8v1.8h-1.8zM744.61 492.79h1.8v1.8h-1.8zM745.6 505.97h1.8v1.8h-1.8zM744.89 485.41h1.8v1.8h-1.8zM752.41 496.81h1.8v1.8h-1.8zM745.72 514.9h1.8v1.8h-1.8zM748.92 518.8h1.8v1.8h-1.8zM753.89 508.18h1.8v1.8h-1.8zM748.35 521.02h1.8v1.8h-1.8zM748.71 488.28h1.8v1.8h-1.8zM753.84 525.99h1.8v1.8h-1.8zM754.87 505.25h1.8v1.8h-1.8zM734.33 527.59h1.8v1.8h-1.8zM746.23 497.44h1.8v1.8h-1.8zM747.25 505.99h1.8v1.8h-1.8zM738.07 500.26h1.8v1.8h-1.8zM736.96 512.08h1.8v1.8h-1.8zM745.18 516.27h1.8v1.8h-1.8zM756.03 510.15h1.8v1.8h-1.8zM739.57 508.43h1.8v1.8h-1.8zM763.37 526.21h1.8v1.8h-1.8zM743.63 516.56h1.8v1.8h-1.8zM750.77 493.5h1.8v1.8h-1.8zM748.82 506.37h1.8v1.8h-1.8zM743.25 496.34h1.8v1.8h-1.8zM747.57 527.42h1.8v1.8h-1.8zM749.71 496.6h1.8v1.8h-1.8zM745.99 488.7h1.8v1.8h-1.8zM739.32 536.56h1.8v1.8h-1.8zM742.47 496.02h1.8v1.8h-1.8zM739.78 508.25h1.8v1.8h-1.8zM756.6 511.21h1.8v1.8h-1.8zM734.14 518.39h1.8v1.8h-1.8zM738.08 499.89h1.8v1.8h-1.8zM743.91 525.82h1.8v1.8h-1.8zM743.32 524.46h1.8v1.8h-1.8zM746.52 500.39h1.8v1.8h-1.8zM745.44 516.9h1.8v1.8h-1.8zM735.08 522.29h1.8v1.8h-1.8zM735.21 518.53h1.8v1.8h-1.8zM735.41 524.17h1.8v1.8h-1.8zM741.37 515.3h1.8v1.8h-1.8zM742.12 514.4h1.8v1.8h-1.8zM759.21 526.12h1.8v1.8h-1.8zM756.4 503.52h1.8v1.8h-1.8zM754.09 500.85h1.8v1.8h-1.8zM732.03 519.27h1.8v1.8h-1.8zM756.09 523.14h1.8v1.8h-1.8zM744.77 503.97h1.8v1.8h-1.8zM738.21 506.46h1.8v1.8h-1.8zM743.42 516.56h1.8v1.8h-1.8zM754.24 514.55h1.8v1.8h-1.8zM759.95 524.4h1.8v1.8h-1.8zM741.45 531h1.8v1.8h-1.8zM752.46 522.54h1.8v1.8h-1.8zM731.94 513.74h1.8v1.8h-1.8zM746.39 514.66h1.8v1.8h-1.8zM763.93 531.94h1.8v1.8h-1.8zM752.69 490.61h1.8v1.8h-1.8zM737.36 528.08h1.8v1.8h-1.8zM739.41 509.48h1.8v1.8h-1.8zM750.52 490.91h1.8v1.8h-1.8zM753.92 495.26h1.8v1.8h-1.8zM748.04 497.48h1.8v1.8h-1.8zM741.69 508.93h1.8v1.8h-1.8zM740.02 516.01h1.8v1.8h-1.8zM742.51 487.02h1.8v1.8h-1.8zM738.64 536.17h1.8v1.8h-1.8zM758.56 516.36h1.8v1.8h-1.8zM744.05 492.72h1.8v1.8h-1.8zM751.35 528.34h1.8v1.8h-1.8zM747.75 496.77h1.8v1.8h-1.8zM744.33 517.35h1.8v1.8h-1.8zM748.28 495.35h1.8v1.8h-1.8zM738.75 512.05h1.8v1.8h-1.8zM745.72 494.1h1.8v1.8h-1.8zM734.34 502.38h1.8v1.8h-1.8zM746.26 517.67h1.8v1.8h-1.8zM734.6 513.51h1.8v1.8h-1.8zM757.09 514.78h1.8v1.8h-1.8zM743.36 534.39h1.8v1.8h-1.8zM744.98 533.17h1.8v1.8h-1.8zM746.98 523.22h1.8v1.8h-1.8zM754.98 523.47h1.8v1.8h-1.8zM752.38 508.73h1.8v1.8h-1.8zM737.32 515.99h1.8v1.8h-1.8zM743.17 499.53h1.8v1.8h-1.8zM742.61 533.63h1.8v1.8h-1.8zM738.13 500.49h1.8v1.8h-1.8zM727.11 527.48h1.8v1.8h-1.8zM735.64 508.34h1.8v1.8h-1.8zM748.12 519.47h1.8v1.8h-1.8zM758.2 529.51h1.8v1.8h-1.8zM764.89 527.86h1.8v1.8h-1.8zM757.02 516.96h1.8v1.8h-1.8zM746.79 529.99h1.8v1.8h-1.8zM741.47 500.51h1.8v1.8h-1.8zM750.41 507.28h1.8v1.8h-1.8zM733.32 515.2h1.8v1.8h-1.8zM751.67 504.49h1.8v1.8h-1.8zM745.73 502.04h1.8v1.8h-1.8zM751.92 531.06h1.8v1.8h-1.8zM729.88 524.35h1.8v1.8h-1.8zM751.54 522.28h1.8v1.8h-1.8zM758.89 521.89h1.8v1.8h-1.8zM736.61 499.23h1.8v1.8h-1.8zM758.88 528.42h1.8v1.8h-1.8zM728.99 521.49h1.8v1.8h-1.8zM749.99 486.58h1.8v1.8h-1.8zM750.47 510.95h1.8v1.8h-1.8zM751.79 524.02h1.8v1.8h-1.8zM739.33 527.82h1.8v1.8h-1.8zM728.97 524.49h1.8v1.8h-1.8zM762.88 531.19h1.8v1.8h-1.8zM738.29 531.13h1.8v1.8h-1.8zM749.37 514.12h1.8v1.8h-1.8zM724.64 523.4h1.8v1.8h-1.8zM752.45 533.87h1.8v1.8h-1.8zM736.86 513.24h1.8v1.8h-1.8zM754.99 523.28h1.8v1.8h-1.8zM747.48 506.98h1.8v1.8h-1.8zM733.37 513.03h1.8v1.8h-1.8zM757.03 510.7h1.8v1.8h-1.8zM751.5 503.28h1.8v1.8h-1.8zM746.77 487.67h1.8v1.8h-1.8zM745.51 513.5h1.8v1.8h-1.8zM740.81 518.28h1.8v1.8h-1.8zM746.73 484.7h1.8v1.8h-1.8zM757.81 523.2h1.8v1.8h-1.8zM742.19 495.88h1.8v1.8h-1.8zM744.95 532.93h1.8v1.8h-1.8zM737.1 518.63h1.8v1.8h-1.8zM741.47 512.09h1.8v1.8h-1.8zM747.56 487.57h1.8v1.8h-1.8zM750.99 509.16h1.8v1.8h-1.8zM762.49 522.28h1.8v1.8h-1.8zM755.19 531.47h1.8v1.8h-1.8zM759.34 527.56h1.8v1.8h-1.8zM759.32 530.43h1.8v1.8h-1.8zM748.72 522.1h1.8v1.8h-1.8zM744.54 505.46h1.8v1.8h-1.8zM748.51 497.53h1.8v1.8h-1.8zM733.27 526.14h1.8v1.8h-1.8zM736.09 531.28h1.8v1.8h-1.8zM728.87 525.8h1.8v1.8h-1.8zM742.13 522.39h1.8v1.8h-1.8zM738.76 520.19h1.8v1.8h-1.8zM743.5 513.94h1.8v1.8h-1.8zM748.99 488.94h1.8v1.8h-1.8zM746.61 531.85h1.8v1.8h-1.8zM741.32 532.99h1.8v1.8h-1.8zM754.97 518.69h1.8v1.8h-1.8zM754.29 520.72h1.8v1.8h-1.8zM745.44 532.83h1.8v1.8h-1.8zM743.97 500.09h1.8v1.8h-1.8zM736.67 504.25h1.8v1.8h-1.8zM760.51 517.47h1.8v1.8h-1.8zM759.39 534.37h1.8v1.8h-1.8zM729.08 525.65h1.8v1.8h-1.8zM738.42 529.61h1.8v1.8h-1.8zM757.7 508.92h1.8v1.8h-1.8zM753.31 528.44h1.8v1.8h-1.8zM759.54 523.67h1.8v1.8h-1.8zM753.57 536.91h1.8v1.8h-1.8zM747.39 536.72h1.8v1.8h-1.8zM741.89 530.12h1.8v1.8h-1.8zM737.07 521.56h1.8v1.8h-1.8zM748.7 489.84h1.8v1.8h-1.8zM745.62 514.23h1.8v1.8h-1.8zM745.55 522.95h1.8v1.8h-1.8zM753.22 527.28h1.8v1.8h-1.8zM745.09 493.05h1.8v1.8h-1.8zM743.05 525.5h1.8v1.8h-1.8zM742.53 505.27h1.8v1.8h-1.8zM742.33 494.95h1.8v1.8h-1.8zM743.05 493.47h1.8v1.8h-1.8zM734.18 516.63h1.8v1.8h-1.8zM752.12 499.55h1.8v1.8h-1.8zM753.67 511.35h1.8v1.8h-1.8zM759.92 529.34h1.8v1.8h-1.8zM746.33 509.81h1.8v1.8h-1.8zM753.01 524.96h1.8v1.8h-1.8zM739.56 530.28h1.8v1.8h-1.8zM738.78 532.57h1.8v1.8h-1.8zM755.85 502.39h1.8v1.8h-1.8zM753.01 532.8h1.8v1.8h-1.8zM746.13 504.47h1.8v1.8h-1.8zM738.65 528.01h1.8v1.8h-1.8zM737.09 534.94h1.8v1.8h-1.8zM751.71 491.48h1.8v1.8h-1.8zM740.35 531.21h1.8v1.8h-1.8zM741.75 533.25h1.8v1.8h-1.8zM752.34 528.32h1.8v1.8h-1.8zM759 538.48h1.8v1.8h-1.8zM728.81 523.89h1.8v1.8h-1.8zM744.61 502.11h1.8v1.8h-1.8zM757.81 509.72h1.8v1.8h-1.8zM740.05 525.05h1.8v1.8h-1.8zM745.23 535.41h1.8v1.8h-1.8zM743.6 499.96h1.8v1.8h-1.8zM727.38 523.27h1.8v1.8h-1.8zM727.18 525.72h1.8v1.8h-1.8zM725.17 518h1.8v1.8h-1.8zM733.7 503.97h1.8v1.8h-1.8zM735.08 509.57h1.8v1.8h-1.8zM724.24 517.99h1.8v1.8h-1.8zM738.21 497.9h1.8v1.8h-1.8zM733.46 528.9h1.8v1.8h-1.8zM730.95 510.38h1.8v1.8h-1.8zM732.43 518.27h1.8v1.8h-1.8zM732.26 517.98h1.8v1.8h-1.8zM732.74 528.91h1.8v1.8h-1.8zM733.08 515.65h1.8v1.8h-1.8zM725.95 525.28h1.8v1.8h-1.8zM729.44 511.7h1.8v1.8h-1.8zM721.51 521.23h1.8v1.8h-1.8zM721.86 524.7h1.8v1.8h-1.8zM730.06 511.96h1.8v1.8h-1.8zM730.54 534.63h1.8v1.8h-1.8zM733.02 513.01h1.8v1.8h-1.8zM728.73 522.04h1.8v1.8h-1.8zM726.78 535.54h1.8v1.8h-1.8zM727.14 529.37h1.8v1.8h-1.8zM727.65 525.49h1.8v1.8h-1.8zM729.34 514.43h1.8v1.8h-1.8zM732.6 525.45h1.8v1.8h-1.8zM725.82 526.93h1.8v1.8h-1.8zM732.66 506.97h1.8v1.8h-1.8zM731.77 509.08h1.8v1.8h-1.8zM726 512.14h1.8v1.8h-1.8zM725.91 529.91h1.8v1.8h-1.8zM727.47 521.84h1.8v1.8h-1.8zM726.7 524.6h1.8v1.8h-1.8zM733.75 507.53h1.8v1.8h-1.8zM727.44 534.1h1.8v1.8h-1.8zM730.25 518.08h1.8v1.8h-1.8zM734.63 499.36h1.8v1.8h-1.8zM724.82 518.52h1.8v1.8h-1.8zM729.71 537.76h1.8v1.8h-1.8zM727.03 522.28h1.8v1.8h-1.8zM725.13 526.15h1.8v1.8h-1.8zM729.73 518.42h1.8v1.8h-1.8zM729.56 540.63h1.8v1.8h-1.8zM731.6 513.57h1.8v1.8h-1.8zM733.84 514.15h1.8v1.8h-1.8zM733.86 531.34h1.8v1.8h-1.8zM735.87 537.36h1.8v1.8h-1.8zM728.89 521.17h1.8v1.8h-1.8zM737.37 539.26h1.8v1.8h-1.8zM733.62 509.02h1.8v1.8h-1.8zM735.23 530.23h1.8v1.8h-1.8zM726.78 527.56h1.8v1.8h-1.8zM729.81 530.28h1.8v1.8h-1.8zM732.47 531.88h1.8v1.8h-1.8zM737.67 539.17h1.8v1.8h-1.8zM731.26 530.39h1.8v1.8h-1.8zM727.89 518.26h1.8v1.8h-1.8zM722.15 521.58h1.8v1.8h-1.8zM725.59 534.35h1.8v1.8h-1.8zM727.73 537.49h1.8v1.8h-1.8zM707.9 518.9h1.8v1.8h-1.8zM709.8 514h1.8v1.8h-1.8zM711.8 507.6h1.8v1.8h-1.8zM714.7 514h1.8v1.8h-1.8zM719.6 501.3h1.8v1.8h-1.8zM724.5 500.3h1.8v1.8h-1.8zM728.9 493h1.8v1.8h-1.8zM716.7 516.9h1.8v1.8h-1.8zM718.6 520.8h1.8v1.8h-1.8zM721.5 528.6h1.8v1.8h-1.8zM724.5 533h1.8v1.8h-1.8zM728.4 536.4h1.8v1.8h-1.8zM724.5 541.3h1.8v1.8h-1.8zM731.8 540.3h1.8v1.8h-1.8zM737.1 544.2h1.8v1.8h-1.8zM715.7 524.2h1.8v1.8h-1.8zM725.4 515h1.8v1.8h-1.8zM757.6 493h1.8v1.8h-1.8zM757.6 499.8h1.8v1.8h-1.8zM760.1 510.6h1.8v1.8h-1.8zM763.5 514h1.8v1.8h-1.8zM771.8 536.4h1.8v1.8h-1.8zM766.4 530.1h1.8v1.8h-1.8zM756.2 542.8h1.8v1.8h-1.8zM723.1 510.1h1.8v1.8h-1.8zM727.1 519.1h1.8v1.8h-1.8zM730.1 507.1h1.8v1.8h-1.8z"/>
<path fill="#d95319" d="M800 602.67h1.8v1.8h-1.8zM790.79 600.09h1.8v1.8h-1.8zM765.36 561.88h1.8v1.8h-1.8zM771.07 566.85h1.8v1.8h-1.8zM780.54 563.45h1.8v1.8h-1.8zM788.19 588.08h1.8v1.8h-1.8zM794.17 596.54h1.8v1.8h-1.8zM797.64 604.57h1.8v1.8h-1.8zM788.88 590.02h1.8v1.8h-1.8zM790.59 591.96h1.8v1.8h-1.8zM764.55 556.71h1.8v1.8h-1.8zM780.1 574.21h1.8v1.8h-1.8zM797.27 609.97h1.8v1.8h-1.8zM808.37 592.46h1.8v1.8h-1.8zM787.37 589.39h1.8v1.8h-1.8zM774.5 551.05h1.8v1.8h-1.8zM784.09 572.7h1.8v1.8h-1.8zM771.43 566.64h1.8v1.8h-1.8zM794.68 604.78h1.8v1.8h-1.8zM782.69 575.19h1.8v1.8h-1.8zM796.78 594.59h1.8v1.8h-1.8zM789.62 566.24h1.8v1.8h-1.8zM783.76 577.83h1.8v1.8h-1.8zM783.17 579.97h1.8v1.8h-1.8zM810.38 601.1h1.8v1.8h-1.8zM786.27 586.96h1.8v1.8h-1.8zM782.57 555.32h1.8v1.8h-1.8zM800 600.76h1.8v1.8h-1.8zM799.4 578.69h1.8v1.8h-1.8zM790.04 599.7h1.8v1.8h-1.8zM778.78 575.39h1.8v1.8h-1.8zM808.32 594.59h1.8v1.8h-1.8zM776.25 554.41h1.8v1.8h-1.8zM778.61 569.24h1.8v1.8h-1.8zM790.72 583.2h1.8v1.8h-1.8zM786.32 595.74h1.8v1.8h-1.8zM771.88 560.56h1.8v1.8h-1.8zM766.96 542.77h1.8v1.8h-1.8zM809.95 590.46h1.8v1.8h-1.8zM772.89 569.37h1.8v1.8h-1.8zM785.43 573.57h1.8v1.8h-1.8zM785.66 592.99h1.8v1.8h-1.8zM793.7 592.58h1.8v1.8h-1.8zM777.37 551.4h1.8v1.8h-1.8zM776.92 557.52h1.8v1.8h-1.8zM797.17 597.88h1.8v1.8h-1.8zM799.93 581.83h1.8v1.8h-1.8zM771.23 555.6h1.8v1.8h-1.8zM783.25 573.91h1.8v1.8h-1.8zM795.72 604.83h1.8v1.8h-1.8zM790.88 566.94h1.8v1.8h-1.8zM786.87 576.53h1.8v1.8h-1.8zM774.74 557.09h1.8v1.8h-1.8zM800.08 579.59h1.8v1.8h-1.8zM769.33 571.15h1.8v1.8h-1.8zM786.26 557.43h1.8v1.8h-1.8zM785.51 578.48h1.8v1.8h-1.8zM775.5 577.79h1.8v1.8h-1.8zM801.59 605.82h1.8v1.8h-1.8zM793.45 591.69h1.8v1.8h-1.8zM801.09 579.4h1.8v1.8h-1.8zM794.14 576.1h1.8v1.8h-1.8zM763.21 555.84h1.8v1.8h-1.8zM792.63 586.02h1.8v1.8h-1.8zM788.59 580.07h1.8v1.8h-1.8zM797.87 577.49h1.8v1.8h-1.8zM780.68 574.14h1.8v1.8h-1.8zM777.23 577.29h1.8v1.8h-1.8zM781.86 576.36h1.8v1.8h-1.8zM785.01 593.75h1.8v1.8h-1.8zM778.72 572.46h1.8v1.8h-1.8zM783.11 575.71h1.8v1.8h-1.8zM780.47 589.36h1.8v1.8h-1.8zM765.81 572.88h1.8v1.8h-1.8zM784.47 569.06h1.8v1.8h-1.8zM768.16 563.03h1.8v1.8h-1.8zM768.32 559.71h1.8v1.8h-1.8zM797.25 579.54h1.8v1.8h-1.8zM775.19 583h1.8v1.8h-1.8zM771.17 578.28h1.8v1.8h-1.8zM782.48 585.73h1.8v1.8h-1.8zM779.74 579.71h1.8v1.8h-1.8zM796.63 578.98h1.8v1.8h-1.8zM807.51 598.19h1.8v1.8h-1.8zM784.06 577.37h1.8v1.8h-1.8zM803.77 587.54h1.8v1.8h-1.8zM798.89 600.51h1.8v1.8h-1.8zM804.95 593.44h1.8v1.8h-1.8zM772.51 563.04h1.8v1.8h-1.8zM772.46 555.17h1.8v1.8h-1.8zM800.39 602.43h1.8v1.8h-1.8zM768.29 544.33h1.8v1.8h-1.8zM768.65 543.29h1.8v1.8h-1.8zM801.04 601.74h1.8v1.8h-1.8zM785.15 556.19h1.8v1.8h-1.8zM771.14 563.98h1.8v1.8h-1.8zM780.17 566.13h1.8v1.8h-1.8zM774.08 580.24h1.8v1.8h-1.8zM797.38 600.03h1.8v1.8h-1.8zM795.69 602.77h1.8v1.8h-1.8zM776.04 549.05h1.8v1.8h-1.8zM785.92 589.71h1.8v1.8h-1.8zM788.08 582.45h1.8v1.8h-1.8zM780.07 594.95h1.8v1.8h-1.8zM804.12 597.94h1.8v1.8h-1.8zM780.24 583.77h1.8v1.8h-1.8zM769.24 571.3h1.8v1.8h-1.8zM794.3 579.54h1.8v1.8h-1.8zM792.78 585.48h1.8v1.8h-1.8zM797.83 582.33h1.8v1.8h-1.8zM781.26 572.47h1.8v1.8h-1.8zM774.2 560.81h1.8v1.8h-1.8zM799.78 601.83h1.8v1.8h-1.8zM785.91 572.3h1.8v1.8h-1.8zM774.43 554.14h1.8v1.8h-1.8zM791.65 574.23h1.8v1.8h-1.8zM780.09 560.39h1.8v1.8h-1.8zM776.6 565.52h1.8v1.8h-1.8zM798.51 603.61h1.8v1.8h-1.8zM806.19 592.18h1.8v1.8h-1.8zM777.5 554.83h1.8v1.8h-1.8zM808.44 594.71h1.8v1.8h-1.8zM773.66 569.63h1.8v1.8h-1.8zM784.72 578.48h1.8v1.8h-1.8zM798.56 586.32h1.8v1.8h-1.8zM810.57 587.5h1.8v1.8h-1.8zM789.71 578.81h1.8v1.8h-1.8zM773.08 577.56h1.8v1.8h-1.8zM794.37 585.78h1.8v1.8h-1.8zM783.84 564.89h1.8v1.8h-1.8zM809.55 592.34h1.8v1.8h-1.8zM772.05 562.45h1.8v1.8h-1.8zM766.3 567.18h1.8v1.8h-1.8zM797.95 587.06h1.8v1.8h-1.8zM787.82 598.9h1.8v1.8h-1.8zM810.66 597.63h1.8v1.8h-1.8zM782.85 587.15h1.8v1.8h-1.8zM787.18 578.86h1.8v1.8h-1.8zM801.09 604.15h1.8v1.8h-1.8zM784.6 564.77h1.8v1.8h-1.8zM768.47 556.7h1.8v1.8h-1.8zM767.35 561.13h1.8v1.8h-1.8zM795.65 584.03h1.8v1.8h-1.8zM773.46 555.17h1.8v1.8h-1.8zM769.34 554.14h1.8v1.8h-1.8zM778.89 545.99h1.8v1.8h-1.8zM774.7 562.43h1.8v1.8h-1.8zM772.35 562.59h1.8v1.8h-1.8zM786.22 570.11h1.8v1.8h-1.8zM791.17 598.29h1.8v1.8h-1.8zM813.06 607.55h1.8v1.8h-1.8zM788.56 586.81h1.8v1.8h-1.8zM810.67 597.22h1.8v1.8h-1.8zM785.72 595.27h1.8v1.8h-1.8zM791.02 574.18h1.8v1.8h-1.8zM773.25 578.11h1.8v1.8h-1.8zM804.75 591.7h1.8v1.8h-1.8zM798.13 588.83h1.8v1.8h-1.8zM791.15 571.28h1.8v1.8h-1.8zM793.97 597.64h1.8v1.8h-1.8zM773.12 578.74h1.8v1.8h-1.8zM780.9 555.96h1.8v1.8h-1.8zM782.74 577.17h1.8v1.8h-1.8zM777.56 550.84h1.8v1.8h-1.8zM774.07 549.01h1.8v1.8h-1.8zM784.63 590.7h1.8v1.8h-1.8zM797.18 591.49h1.8v1.8h-1.8zM783.48 598.79h1.8v1.8h-1.8zM785.27 591.65h1.8v1.8h-1.8zM774.36 547.3h1.8v1.8h-1.8zM798.99 598.19h1.8v1.8h-1.8zM787.09 603.11h1.8v1.8h-1.8zM769.68 558.32h1.8v1.8h-1.8zM799.7 583.86h1.8v1.8h-1.8zM802.02 599.78h1.8v1.8h-1.8zM783.64 580.35h1.8v1.8h-1.8zM770.28 569.75h1.8v1.8h-1.8zM772.87 573.18h1.8v1.8h-1.8zM780.69 573.67h1.8v1.8h-1.8zM793.4 588.81h1.8v1.8h-1.8zM763.7 549.48h1.8v1.8h-1.8zM767.76 564.87h1.8v1.8h-1.8zM780.66 557.25h1.8v1.8h-1.8zM783.69 576.25h1.8v1.8h-1.8zM803.65 599.3h1.8v1.8h-1.8zM796.4 572.55h1.8v1.8h-1.8zM780.87 572.61h1.8v1.8h-1.8zM787.22 577.43h1.8v1.8h-1.8zM775.22 580.11h1.8v1.8h-1.8zM766.54 574.69h1.8v1.8h-1.8zM800.32 596.48h1.8v1.8h-1.8zM775.34 582h1.8v1.8h-1.8zM778.85 589.97h1.8v1.8h-1.8zM794 602.22h1.8v1.8h-1.8zM790.31 581.98h1.8v1.8h-1.8zM773.17 546.2h1.8v1.8h-1.8zM801.39 606.18h1.8v1.8h-1.8zM802.5 595.96h1.8v1.8h-1.8zM801.67 589.63h1.8v1.8h-1.8zM768.62 558.12h1.8v1.8h-1.8zM794.87 585.17h1.8v1.8h-1.8zM769.66 578.37h1.8v1.8h-1.8zM769.46 545.58h1.8v1.8h-1.8zM793.71 593.74h1.8v1.8h-1.8zM797.36 581.31h1.8v1.8h-1.8zM766.45 562.68h1.8v1.8h-1.8zM795.28 566.29h1.8v1.8h-1.8zM777.9 549.26h1.8v1.8h-1.8zM812.51 597.39h1.8v1.8h-1.8zM781.74 585.53h1.8v1.8h-1.8zM788.48 557.2h1.8v1.8h-1.8zM808.86 596.2h1.8v1.8h-1.8zM780.11 568.8h1.8v1.8h-1.8zM776.18 551.36h1.8v1.8h-1.8zM804.49 588.53h1.8v1.8h-1.8zM777.97 576.33h1.8v1.8h-1.8zM776.63 552.68h1.8v1.8h-1.8zM784.01 590h1.8v1.8h-1.8zM794.83 589.68h1.8v1.8h-1.8zM768.28 573.39h1.8v1.8h-1.8zM789.04 583.13h1.8v1.8h-1.8zM769.89 542.83h1.8v1.8h-1.8zM791.25 598.12h1.8v1.8h-1.8zM780.17 563.15h1.8v1.8h-1.8zM767.96 546.31h1.8v1.8h-1.8zM776.3 577.5h1.8v1.8h-1.8zM768.91 560.14h1.8v1.8h-1.8zM800.05 596.9h1.8v1.8h-1.8zM795.04 604.58h1.8v1.8h-1.8zM786.96 584.64h1.8v1.8h-1.8zM766.53 544.39h1.8v1.8h-1.8zM777.93 580.05h1.8v1.8h-1.8zM799.83 595.81h1.8v1.8h-1.8zM766.78 549.31h1.8v1.8h-1.8zM791.3 574.6h1.8v1.8h-1.8zM785.03 589.83h1.8v1.8h-1.8zM790.75 580.65h1.8v1.8h-1.8zM797.88 606.02h1.8v1.8h-1.8zM772.5 554.56h1.8v1.8h-1.8zM775.04 553.33h1.8v1.8h-1.8zM770.54 567.34h1.8v1.8h-1.8zM790.98 590.55h1.8v1.8h-1.8zM773.69 568.55h1.8v1.8h-1.8zM809.57 596.95h1.8v1.8h-1.8zM776 577.04h1.8v1.8h-1.8zM800.16 581.56h1.8v1.8h-1.8zM789.36 593.07h1.8v1.8h-1.8zM764.3 570.42h1.8v1.8h-1.8zM779.28 577.78h1.8v1.8h-1.8zM770.01 545.57h1.8v1.8h-1.8zM804.83 598.12h1.8v1.8h-1.8zM769.63 551.9h1.8v1.8h-1.8zM786.14 582.23h1.8v1.8h-1.8zM800.29 583.21h1.8v1.8h-1.8zM780.47 568.41h1.8v1.8h-1.8zM813.33 599.05h1.8v1.8h-1.8zM791.98 586.27h1.8v1.8h-1.8zM792.75 577.49h1.8v1.8h-1.8zM785.22 571.02h1.8v1.8h-1.8zM779.11 567.92h1.8v1.8h-1.8zM802.35 604.32h1.8v1.8h-1.8zM794.41 573.12h1.8v1.8h-1.8zM789.86 564.05h1.8v1.8h-1.8zM798.38 602.87h1.8v1.8h-1.8zM764.23 566.31h1.8v1.8h-1.8zM769.83 550.87h1.8v1.8h-1.8zM785.28 600.68h1.8v1.8h-1.8zM803.94 589.36h1.8v1.8h-1.8zM796.17 583.1h1.8v1.8h-1.8zM778.64 584.4h1.8v1.8h-1.8zM775.42 572.66h1.8v1.8h-1.8zM802.84 588.35h1.8v1.8h-1.8zM774.85 564.44h1.8v1.8h-1.8zM792.01 570.1h1.8v1.8h-1.8zM782.74 588.05h1.8v1.8h-1.8zM766.42 551.29h1.8v1.8h-1.8zM772.24 560.79h1.8v1.8h-1.8zM793.38 572.9h1.8v1.8h-1.8zM773.49 583.45h1.8v1.8h-1.8zM803.58 601.83h1.8v1.8h-1.8zM782 569.43h1.8v1.8h-1.8zM786.9 595.76h1.8v1.8h-1.8zM794.31 583.85h1.8v1.8h-1.8zM770.14 571.08h1.8v1.8h-1.8zM781.85 583.29h1.8v1.8h-1.8zM772.71 567.98h1.8v1.8h-1.8zM808.64 595.69h1.8v1.8h-1.8zM776.72 563.35h1.8v1.8h-1.8zM800.95 583.34h1.8v1.8h-1.8zM767.96 571.09h1.8v1.8h-1.8zM807.44 583.24h1.8v1.8h-1.8zM801.96 599.36h1.8v1.8h-1.8zM782.41 557.03h1.8v1.8h-1.8zM785.87 595.13h1.8v1.8h-1.8zM788.12 598.1h1.8v1.8h-1.8zM773.59 556.5h1.8v1.8h-1.8zM787.53 583.64h1.8v1.8h-1.8zM780.73 551.52h1.8v1.8h-1.8zM810.47 592.24h1.8v1.8h-1.8zM777.17 555.52h1.8v1.8h-1.8zM793.04 588.06h1.8v1.8h-1.8zM794.87 574.75h1.8v1.8h-1.8zM789.84 561.71h1.8v1.8h-1.8zM766.85 553.36h1.8v1.8h-1.8zM769.66 554.83h1.8v1.8h-1.8zM785.19 579.4h1.8v1.8h-1.8zM786.09 582.03h1.8v1.8h-1.8zM775.43 577.83h1.8v1.8h-1.8zM771.59 569.44h1.8v1.8h-1.8zM795.09 584.58h1.8v1.8h-1.8zM771.12 567.73h1.8v1.8h-1.8zM784.67 580.65h1.8v1.8h-1.8zM777.4 566.88h1.8v1.8h-1.8zM803.26 593.58h1.8v1.8h-1.8zM778.07 555.6h1.8v1.8h-1.8zM796.96 599.01h1.8v1.8h-1.8zM772.29 557.68h1.8v1.8h-1.8zM797.2 572.87h1.8v1.8h-1.8zM782.27 581.47h1.8v1.8h-1.8zM804.53 580.72h1.8v1.8h-1.8zM773.97 578.14h1.8v1.8h-1.8zM779.62 584.24h1.8v1.8h-1.8zM781.7 582.97h1.8v1.8h-1.8zM800.92 599.09h1.8v1.8h-1.8zM809.63 599.12h1.8v1.8h-1.8zM799.79 587.85h1.8v1.8h-1.8zM809.62 589.3h1.8v1.8h-1.8zM791.06 569.14h1.8v1.8h-1.8zM780.14 589.12h1.8v1.8h-1.8zM771.96 564.25h1.8v1.8h-1.8zM804.53 598.27h1.8v1.8h-1.8zM799.95 599.46h1.8v1.8h-1.8zM787.74 585.93h1.8v1.8h-1.8zM788.39 588.25h1.8v1.8h-1.8zM789.54 577.21h1.8v1.8h-1.8zM790.24 560.96h1.8v1.8h-1.8zM772.61 580.35h1.8v1.8h-1.8zM770.92 579.6h1.8v1.8h-1.8zM764.86 552.77h1.8v1.8h-1.8zM802.89 596.89h1.8v1.8h-1.8zM783.13 588.97h1.8v1.8h-1.8zM781.32 594.22h1.8v1.8h-1.8zM784.75 589.42h1.8v1.8h-1.8zM805.7 591.4h1.8v1.8h-1.8zM797.33 574.87h1.8v1.8h-1.8zM794.97 597.51h1.8v1.8h-1.8zM772 574.45h1.8v1.8h-1.8zM794.6 579.2h1.8v1.8h-1.8zM795.85 592.77h1.8v1.8h-1.8zM770.11 551.85h1.8v1.8h-1.8zM793.3 567.97h1.8v1.8h-1.8zM766.7 555.64h1.8v1.8h-1.8zM776.21 561.82h1.8v1.8h-1.8zM779.87 591.66h1.8v1.8h-1.8zM801.06 580.8h1.8v1.8h-1.8zM813.23 598.82h1.8v1.8h-1.8zM789.5 578.94h1.8v1.8h-1.8zM785.89 561.15h1.8v1.8h-1.8zM784.64 590h1.8v1.8h-1.8zM793.89 573.66h1.8v1.8h-1.8zM805.23 595.42h1.8v1.8h-1.8zM794.83 597.14h1.8v1.8h-1.8zM807.57 598.75h1.8v1.8h-1.8zM783.27 583.11h1.8v1.8h-1.8zM767.56 567.48h1.8v1.8h-1.8zM796.16 597.7h1.8v1.8h-1.8zM788.97 601.66h1.8v1.8h-1.8zM789.56 565.54h1.8v1.8h-1.8zM783.24 586.1h1.8v1.8h-1.8zM780.31 579.59h1.8v1.8h-1.8zM785.87 593.07h1.8v1.8h-1.8zM803.55 601.31h1.8v1.8h-1.8zM793.09 593.87h1.8v1.8h-1.8zM787.32 564.2h1.8v1.8h-1.8zM779.57 587.9h1.8v1.8h-1.8zM781.6 576.53h1.8v1.8h-1.8zM786.05 585.4h1.8v1.8h-1.8zM782.6 578.22h1.8v1.8h-1.8zM773.44 563.78h1.8v1.8h-1.8zM797.19 587.84h1.8v1.8h-1.8zM807 592.42h1.8v1.8h-1.8zM805.98 593.81h1.8v1.8h-1.8zM791.68 580.59h1.8v1.8h-1.8zM794.97 607.2h1.8v1.8h-1.8zM775.57 573.82h1.8v1.8h-1.8zM771.99 548.69h1.8v1.8h-1.8zM797.52 592.41h1.8v1.8h-1.8zM784.41 558.39h1.8v1.8h-1.8zM797.66 594.11h1.8v1.8h-1.8zM774.73 567.58h1.8v1.8h-1.8zM796.63 603.1h1.8v1.8h-1.8zM781.85 577.73h1.8v1.8h-1.8zM773.86 575.42h1.8v1.8h-1.8zM806.95 598.55h1.8v1.8h-1.8zM783.47 580.95h1.8v1.8h-1.8zM771.99 575.18h1.8v1.8h-1.8zM766.13 544.21h1.8v1.8h-1.8zM772.92 555.52h1.8v1.8h-1.8zM765.59 548.21h1.8v1.8h-1.8zM798.67 602.75h1.8v1.8h-1.8zM789.15 571.15h1.8v1.8h-1.8zM769.25 550.82h1.8v1.8h-1.8zM768.48 542.07h1.8v1.8h-1.8zM786.7 563.17h1.8v1.8h-1.8zM790.17 560.96h1.8v1.8h-1.8zM791.02 601.64h1.8v1.8h-1.8zM781.68 559.93h1.8v1.8h-1.8zM791.34 571.72h1.8v1.8h-1.8zM793.26 593.07h1.8v1.8h-1.8zM786.48 565.24h1.8v1.8h-1.8zM782.1 581.88h1.8v1.8h-1.8zM789.12 568.72h1.8v1.8h-1.8zM798.8 582.26h1.8v1.8h-1.8zM768.52 548.2h1.8v1.8h-1.8zM799.38 596.98h1.8v1.8h-1.8zM802.15 583.9h1.8v1.8h-1.8zM782.58 569.69h1.8v1.8h-1.8zM797.78 581.33h1.8v1.8h-1.8zM771.89 558.5h1.8v1.8h-1.8zM781.49 574.86h1.8v1.8h-1.8zM790 584.98h1.8v1.8h-1.8zM780.72 593.79h1.8v1.8h-1.8zM786.21 561.34h1.8v1.8h-1.8zM797.69 596.63h1.8v1.8h-1.8zM771.2 545.19h1.8v1.8h-1.8zM786.56 590.68h1.8v1.8h-1.8zM774.89 579.93h1.8v1.8h-1.8zM772.19 550.88h1.8v1.8h-1.8zM763.14 542.68h1.8v1.8h-1.8zM803.56 596.82h1.8v1.8h-1.8zM798.44 590.6h1.8v1.8h-1.8zM811.86 594.41h1.8v1.8h-1.8zM786.55 574.81h1.8v1.8h-1.8zM779.71 580.01h1.8v1.8h-1.8zM775.46 591.95h1.8v1.8h-1.8zM803 604.66h1.8v1.8h-1.8zM794.24 591.73h1.8v1.8h-1.8zM775.5 567.94h1.8v1.8h-1.8zM787.37 561.25h1.8v1.8h-1.8zM781.62 595.28h1.8v1.8h-1.8zM779.09 579.13h1.8v1.8h-1.8zM807.64 590.34h1.8v1.8h-1.8zM785.62 577.89h1.8v1.8h-1.8zM783.56 583.04h1.8v1.8h-1.8zM789 565.31h1.8v1.8h-1.8zM765.19 551.54h1.8v1.8h-1.8zM765.63 556.92h1.8v1.8h-1.8zM783.14 593.12h1.8v1.8h-1.8zM783.1 565.5h1.8v1.8h-1.8zM785.05 577.55h1.8v1.8h-1.8zM766.39 566.58h1.8v1.8h-1.8zM786.76 579.04h1.8v1.8h-1.8zM793.46 586.42h1.8v1.8h-1.8zM782.02 566.56h1.8v1.8h-1.8zM767.22 570.85h1.8v1.8h-1.8zM786.53 574.72h1.8v1.8h-1.8zM775.69 551.32h1.8v1.8h-1.8zM799.44 587.69h1.8v1.8h-1.8zM789.3 598.06h1.8v1.8h-1.8zM793.69 594.13h1.8v1.8h-1.8zM793.45 571.26h1.8v1.8h-1.8zM790.17 581.86h1.8v1.8h-1.8zM773.26 552.87h1.8v1.8h-1.8zM788.58 583.64h1.8v1.8h-1.8zM798.49 588.53h1.8v1.8h-1.8zM781.84 584.86h1.8v1.8h-1.8zM784.7 575.33h1.8v1.8h-1.8zM773.87 566.83h1.8v1.8h-1.8zM779.27 587.93h1.8v1.8h-1.8zM801.64 591.25h1.8v1.8h-1.8zM779.65 572.24h1.8v1.8h-1.8zM798.01 588.94h1.8v1.8h-1.8zM791.85 596.2h1.8v1.8h-1.8zM786.35 599.25h1.8v1.8h-1.8zM779.83 576.45h1.8v1.8h-1.8zM779.45 561.93h1.8v1.8h-1.8zM773.61 545.14h1.8v1.8h-1.8zM798.8 591.79h1.8v1.8h-1.8zM791.35 576.54h1.8v1.8h-1.8zM804.14 601.52h1.8v1.8h-1.8zM808.47 595.42h1.8v1.8h-1.8zM796.18 580.44h1.8v1.8h-1.8zM802.19 599.15h1.8v1.8h-1.8zM782.74 590.75h1.8v1.8h-1.8zM787.8 594.5h1.8v1.8h-1.8zM771.7 563.03h1.8v1.8h-1.8zM783.35 562.61h1.8v1.8h-1.8zM802.49 581.33h1.8v1.8h-1.8zM793.54 595.03h1.8v1.8h-1.8zM800.51 578.61h1.8v1.8h-1.8zM764.62 559.84h1.8v1.8h-1.8zM805.2 602.12h1.8v1.8h-1.8zM784.87 582h1.8v1.8h-1.8zM794.72 596.55h1.8v1.8h-1.8zM783.85 577.21h1.8v1.8h-1.8zM790.47 574.18h1.8v1.8h-1.8zM790.76 595.44h1.8v1.8h-1.8zM782.36 582.97h1.8v1.8h-1.8zM796.77 585.31h1.8v1.8h-1.8zM778.56 552.09h1.8v1.8h-1.8zM798.12 608.21h1.8v1.8h-1.8zM785.23 570.11h1.8v1.8h-1.8zM769.2 571.7h1.8v1.8h-1.8zM796.71 575.07h1.8v1.8h-1.8zM798.49 575.49h1.8v1.8h-1.8zM769.71 541.74h1.8v1.8h-1.8zM780.05 565.6h1.8v1.8h-1.8zM777.01 558.02h1.8v1.8h-1.8zM792.3 601.99h1.8v1.8h-1.8zM787.77 575.2h1.8v1.8h-1.8zM773.65 569.96h1.8v1.8h-1.8zM795.42 588.43h1.8v1.8h-1.8zM770.8 550.97h1.8v1.8h-1.8zM776.02 567.84h1.8v1.8h-1.8zM777.07 558.7h1.8v1.8h-1.8zM780.98 550.95h1.8v1.8h-1.8zM800.73 583.05h1.8v1.8h-1.8zM797.36 583.41h1.8v1.8h-1.8zM790.56 598.62h1.8v1.8h-1.8zM771.79 573.13h1.8v1.8h-1.8zM774.47 574h1.8v1.8h-1.8zM797.05 589.09h1.8v1.8h-1.8zM784.35 583.09h1.8v1.8h-1.8zM779.64 578.52h1.8v1.8h-1.8zM788.34 577.01h1.8v1.8h-1.8zM780.19 587.22h1.8v1.8h-1.8zM785.78 590.28h1.8v1.8h-1.8zM780.89 573.18h1.8v1.8h-1.8zM794.47 593.11h1.8v1.8h-1.8zM785.32 567.13h1.8v1.8h-1.8zM800.32 591.21h1.8v1.8h-1.8zM768.5 568.27h1.8v1.8h-1.8zM786.22 593.38h1.8v1.8h-1.8zM778.11 565.65h1.8v1.8h-1.8zM782.8 572.03h1.8v1.8h-1.8zM786 567.5h1.8v1.8h-1.8zM791.27 578.31h1.8v1.8h-1.8zM787.12 564.3h1.8v1.8h-1.8zM781.96 591.01h1.8v1.8h-1.8zM787.07 582.73h1.8v1.8h-1.8zM784.09 582.05h1.8v1.8h-1.8zM776.07 565.37h1.8v1.8h-1.8zM779.99 568.55h1.8v1.8h-1.8zM780.25 571.42h1.8v1.8h-1.8zM783.28 571.19h1.8v1.8h-1.8zM777.2 588.41h1.8v1.8h-1.8zM781.08 580.61h1.8v1.8h-1.8zM800.37 588.14h1.8v1.8h-1.8zM780.55 564.41h1.8v1.8h-1.8zM787.79 579.87h1.8v1.8h-1.8zM798.71 595.53h1.8v1.8h-1.8zM772.1 576.05h1.8v1.8h-1.8zM793.64 594.93h1.8v1.8h-1.8zM776.69 561.36h1.8v1.8h-1.8zM782.94 569.13h1.8v1.8h-1.8zM771.81 556.88h1.8v1.8h-1.8zM791.6 581.67h1.8v1.8h-1.8zM773.46 571.78h1.8v1.8h-1.8zM792.17 581.3h1.8v1.8h-1.8zM784.27 574.94h1.8v1.8h-1.8zM774.44 578.34h1.8v1.8h-1.8zM776.03 579.49h1.8v1.8h-1.8zM789.97 576.4h1.8v1.8h-1.8zM773.03 574.18h1.8v1.8h-1.8zM778.98 560.46h1.8v1.8h-1.8zM784.97 576.5h1.8v1.8h-1.8zM773.46 574.62h1.8v1.8h-1.8zM789.42 575.15h1.8v1.8h-1.8zM787.11 569.29h1.8v1.8h-1.8zM780.73 584.39h1.8v1.8h-1.8zM779.75 575.72h1.8v1.8h-1.8zM787.77 574.38h1.8v1.8h-1.8zM794.08 578.09h1.8v1.8h-1.8zM792.49 593.57h1.8v1.8h-1.8zM780.62 590.52h1.8v1.8h-1.8zM780.92 574.31h1.8v1.8h-1.8zM769.39 562.09h1.8v1.8h-1.8zM782.34 562.68h1.8v1.8h-1.8zM772.74 564.54h1.8v1.8h-1.8zM796.02 590.55h1.8v1.8h-1.8zM788.6 588.7h1.8v1.8h-1.8zM782.72 561.47h1.8v1.8h-1.8zM777.1 584.4h1.8v1.8h-1.8zM798.15 589.84h1.8v1.8h-1.8zM769.02 569.43h1.8v1.8h-1.8zM780.13 563.88h1.8v1.8h-1.8zM799.47 584.95h1.8v1.8h-1.8zM770.76 571.43h1.8v1.8h-1.8zM787.96 577.71h1.8v1.8h-1.8zM783.12 581.87h1.8v1.8h-1.8zM791.59 570.46h1.8v1.8h-1.8zM775.23 557.41h1.8v1.8h-1.8zM791.49 589.43h1.8v1.8h-1.8zM784.81 579.95h1.8v1.8h-1.8zM776.72 579.83h1.8v1.8h-1.8zM772.99 562.48h1.8v1.8h-1.8zM785.08 568.02h1.8v1.8h-1.8zM772.03 567.96h1.8v1.8h-1.8zM795.23 581.72h1.8v1.8h-1.8zM770.11 559.31h1.8v1.8h-1.8zM789.48 569.22h1.8v1.8h-1.8zM781.55 580.24h1.8v1.8h-1.8zM791.93 593.37h1.8v1.8h-1.8zM796.86 593.43h1.8v1.8h-1.8zM780.65 568.52h1.8v1.8h-1.8zM782.97 571.84h1.8v1.8h-1.8zM790.86 593.04h1.8v1.8h-1.8zM785.05 564.28h1.8v1.8h-1.8zM773.79 575.55h1.8v1.8h-1.8zM787.47 587.48h1.8v1.8h-1.8zM778.06 571.79h1.8v1.8h-1.8zM796.3 588.22h1.8v1.8h-1.8zM797.43 582.89h1.8v1.8h-1.8zM791.29 591.69h1.8v1.8h-1.8zM792.25 575.91h1.8v1.8h-1.8zM790.59 578.83h1.8v1.8h-1.8zM775.86 579.87h1.8v1.8h-1.8zM781.92 586.71h1.8v1.8h-1.8zM775.78 557.79h1.8v1.8h-1.8zM797.46 590.24h1.8v1.8h-1.8zM786.13 582.05h1.8v1.8h-1.8zM774.89 574.61h1.8v1.8h-1.8zM786.13 582.68h1.8v1.8h-1.8zM803.74 587.7h1.8v1.8h-1.8zM796.62 591.6h1.8v1.8h-1.8zM791.09 573.95h1.8v1.8h-1.8zM788.07 573.79h1.8v1.8h-1.8zM788.31 567.07h1.8v1.8h-1.8zM770.75 567.42h1.8v1.8h-1.8zM777.14 571.38h1.8v1.8h-1.8zM795.03 598.38h1.8v1.8h-1.8zM775.16 559.91h1.8v1.8h-1.8zM781.61 564.1h1.8v1.8h-1.8zM789.19 588.73h1.8v1.8h-1.8zM785.79 579.77h1.8v1.8h-1.8zM786.86 587.03h1.8v1.8h-1.8zM792.31 587.16h1.8v1.8h-1.8zM798.22 597h1.8v1.8h-1.8zM785.78 595.84h1.8v1.8h-1.8zM784.83 566.8h1.8v1.8h-1.8zM782.45 585.15h1.8v1.8h-1.8zM778.54 563.32h1.8v1.8h-1.8zM799.47 587.54h1.8v1.8h-1.8zM779.57 586.86h1.8v1.8h-1.8zM790.02 581.25h1.8v1.8h-1.8zM794.83 580.16h1.8v1.8h-1.8zM769.89 568.32h1.8v1.8h-1.8zM785.28 572.77h1.8v1.8h-1.8zM790.57 588.28h1.8v1.8h-1.8zM791.81 573.97h1.8v1.8h-1.8zM794.25 590.05h1.8v1.8h-1.8zM767.84 561.17h1.8v1.8h-1.8zM794.75 581.83h1.8v1.8h-1.8zM779.81 581.12h1.8v1.8h-1.8zM778.03 590.04h1.8v1.8h-1.8zM797.7 591.73h1.8v1.8h-1.8zM777.57 583.47h1.8v1.8h-1.8zM786.69 583.71h1.8v1.8h-1.8zM774.53 577.18h1.8v1.8h-1.8zM773.27 571.64h1.8v1.8h-1.8zM776.58 574.44h1.8v1.8h-1.8zM794.52 591.08h1.8v1.8h-1.8zM775.19 560.56h1.8v1.8h-1.8zM790.6 575.08h1.8v1.8h-1.8zM796.19 588.92h1.8v1.8h-1.8zM787.16 584.64h1.8v1.8h-1.8zM788.93 575.66h1.8v1.8h-1.8zM776.94 586.95h1.8v1.8h-1.8zM794.86 593.45h1.8v1.8h-1.8zM780.36 586.12h1.8v1.8h-1.8zM734.2 559.4h1.8v1.8h-1.8zM738.5 564.2h1.8v1.8h-1.8zM742.9 564.8h1.8v1.8h-1.8zM746.1 563.7h1.8v1.8h-1.8zM744.5 568h1.8v1.8h-1.8zM751.5 566.4h1.8v1.8h-1.8zM750.4 570.2h1.8v1.8h-1.8zM746.1 571.2h1.8v1.8h-1.8zM748.3 573.4h1.8v1.8h-1.8zM735.3 579.9h1.8v1.8h-1.8zM744 581h1.8v1.8h-1.8zM734.8 586.4h1.8v1.8h-1.8zM751.5 584.2h1.8v1.8h-1.8zM758 588.5h1.8v1.8h-1.8zM761.2 583.1h1.8v1.8h-1.8zM764.5 591.8h1.8v1.8h-1.8zM763.4 595h1.8v1.8h-1.8zM768.8 595.6h1.8v1.8h-1.8zM761.2 602.6h1.8v1.8h-1.8zM744 546.4h1.8v1.8h-1.8zM750.4 544.2h1.8v1.8h-1.8zM760.2 548h1.8v1.8h-1.8zM762.3 542.6h1.8v1.8h-1.8zM769.9 537.2h1.8v1.8h-1.8zM780.7 539.4h1.8v1.8h-1.8zM800.1 552.3h1.8v1.8h-1.8zM798 562.6h1.8v1.8h-1.8zM803.4 563.7h1.8v1.8h-1.8zM793.7 558.3h1.8v1.8h-1.8zM823.9 570.7h1.8v1.8h-1.8zM804.5 572.3h1.8v1.8h-1.8zM816.3 583.1h1.8v1.8h-1.8zM827.7 579.3h1.8v1.8h-1.8zM864.9 516.4h1.8v1.8h-1.8zM854.7 528.4h1.8v1.8h-1.8zM856.4 537.6h1.8v1.8h-1.8zM854 546.1h1.8v1.8h-1.8zM849.6 551.3h1.8v1.8h-1.8zM847.8 555.4h1.8v1.8h-1.8zM827.4 578.6h1.8v1.8h-1.8z"/>
<line x1="622.5" y1="441.4" x2="794.6" y2="396.7" stroke="#333333" stroke-width="1"/>
<line x1="794.6" y1="396.7" x2="961.3" y2="443" stroke="#333333" stroke-width="1"/>
<line x1="622.5" y1="612.8" x2="789" y2="659.3" stroke="#333333" stroke-width="1"/>
<line x1="789" y1="659.3" x2="961.3" y2="614.1" stroke="#333333" stroke-width="1"/>
<line x1="622.5" y1="612.8" x2="794.8" y2="567.6" stroke="#333333" stroke-width="1"/>
<line x1="794.8" y1="567.6" x2="961.3" y2="614.1" stroke="#333333" stroke-width="1"/>
<line x1="622.5" y1="441.4" x2="622.5" y2="612.8" stroke="#929292" stroke-width="1"/>
<line x1="794.6" y1="396.7" x2="794.8" y2="567.6" stroke="#8c8c8c" stroke-width="1"/>
<line x1="961.3" y1="443" x2="961.3" y2="614.1" stroke="#949494" stroke-width="1"/>
<line x1="622.5" y1="612.8" x2="617.88" y2="611.51" stroke="#333333" stroke-width="1"/>
<line x1="622.5" y1="527.1" x2="617.88" y2="525.81" stroke="#333333" stroke-width="1"/>
<line x1="622.5" y1="441.4" x2="617.88" y2="440.11" stroke="#333333" stroke-width="1"/>
<line x1="622.5" y1="612.8" x2="617.86" y2="614.02" stroke="#333333" stroke-width="1"/>
<line x1="704.09" y1="635.58" x2="699.44" y2="636.8" stroke="#333333" stroke-width="1"/>
<line x1="789" y1="659.3" x2="784.36" y2="660.52" stroke="#333333" stroke-width="1"/>
<line x1="789" y1="659.3" x2="793.62" y2="660.59" stroke="#333333" stroke-width="1"/>
<line x1="961.3" y1="614.1" x2="965.92" y2="615.39" stroke="#333333" stroke-width="1"/>
<text transform="translate(533.8 448.89) scale(0.9819 1.0294)" font-size="30" font-weight="bold" fill="#222222" stroke="#222222" stroke-width="0.35" stroke-linejoin="round" style="font-family:&quot;Liberation Serif&quot;, serif">-0.005</text>
<text transform="translate(548.6 535.02) scale(0.9728 0.9608)" font-size="30" font-weight="bold" fill="#222222" stroke="#222222" stroke-width="0.35" stroke-linejoin="round" style="font-family:&quot;Liberation Serif&quot;, serif">-0.01</text>
<text transform="translate(533.8 619.99) scale(0.9794 1.0196)" font-size="30" font-weight="bold" fill="#222222" stroke="#222222" stroke-width="0.35" stroke-linejoin="round" style="font-family:&quot;Liberation Serif&quot;, serif">-0.015</text>
<text transform="translate(597.2 643.4) scale(0.8467 0.9852)" font-size="30" font-weight="bold" fill="#222222" stroke="#222222" stroke-width="0.35" stroke-linejoin="round" style="font-family:&quot;Liberation Serif&quot;, serif">0</text>
<text transform="translate(632.2 666.7) scale(0.9520 1.0049)" font-size="30" font-weight="bold" fill="#222222" stroke="#222222" stroke-width="0.35" stroke-linejoin="round" style="font-family:&quot;Liberation Serif&quot;, serif">-0.01</text>
<text transform="translate(716.1 690.1) scale(0.9680 1.0049)" font-size="30" font-weight="bold" fill="#222222" stroke="#222222" stroke-width="0.35" stroke-linejoin="round" style="font-family:&quot;Liberation Serif&quot;, serif">-0.02</text>
<text transform="translate(801 690.01) scale(0.8800 0.9754)" font-size="30" font-weight="bold" fill="#222222" stroke="#222222" stroke-width="0.35" stroke-linejoin="round" style="font-family:&quot;Liberation Serif&quot;, serif">0</text>
<text transform="translate(973.1 645.52) scale(0.9657 0.9608)" font-size="30" font-weight="bold" fill="#222222" stroke="#222222" stroke-width="0.35" stroke-linejoin="round" style="font-family:&quot;Liberation Serif&quot;, serif">0.05</text>
<text transform="translate(608.8 719.4) scale(0.8791 1.0147)" font-size="33" font-weight="bold" fill="#222222" stroke="#222222" stroke-width="0.35" stroke-linejoin="round" style="font-family:&quot;Liberation Serif&quot;, serif">P1</text>
<text transform="translate(926.3 720.7) scale(0.9118 1.0598)" font-size="33" font-weight="bold" fill="#222222" stroke="#222222" stroke-width="0.35" stroke-linejoin="round" style="font-family:&quot;Liberation Serif&quot;, serif">P2</text>
<text transform="translate(523.98 546.3) rotate(-90) scale(0.9965 0.9721)" font-size="33" font-weight="bold" fill="#222222" stroke="#222222" stroke-width="0.35" stroke-linejoin="round" style="font-family:&quot;Liberation Serif&quot;, serif">P3</text>
<text transform="translate(984 424.3) scale(0.9746 1.0096)" font-size="26" font-weight="bold" fill="#222222" stroke="#222222" stroke-width="0.35" stroke-linejoin="round" style="font-family:&quot;Liberation Serif&quot;, serif">(d)</text>
<circle cx="190.4" cy="796.7" r="13.4" fill="#0072bd"/>
<text transform="translate(214.4 804.21) scale(0.9740 1.0204)" font-size="28" font-weight="normal" fill="#1e1e1e" stroke="#1e1e1e" stroke-width="0.25" stroke-linejoin="round" style="font-family:&quot;Liberation Serif&quot;, serif">Climbing</text>
<circle cx="341.4" cy="796.7" r="13.4" fill="#d8503f"/>
<text transform="translate(363.7 804.21) scale(0.9748 1.0204)" font-size="28" font-weight="normal" fill="#1e1e1e" stroke="#1e1e1e" stroke-width="0.25" stroke-linejoin="round" style="font-family:&quot;Liberation Serif&quot;, serif">Strong wind</text>
<circle cx="528.3" cy="796.7" r="13.4" fill="#ebac22"/>
<text transform="translate(552 804.21) scale(0.9673 1.0204)" font-size="28" font-weight="normal" fill="#1e1e1e" stroke="#1e1e1e" stroke-width="0.25" stroke-linejoin="round" style="font-family:&quot;Liberation Serif&quot;, serif">Knocking</text>
<circle cx="682.8" cy="796.7" r="13.4" fill="#7e2e8e"/>
<text transform="translate(709 804.21) scale(0.9676 1.0204)" font-size="28" font-weight="normal" fill="#1e1e1e" stroke="#1e1e1e" stroke-width="0.25" stroke-linejoin="round" style="font-family:&quot;Liberation Serif&quot;, serif">Background</text>
</svg></body></html>
